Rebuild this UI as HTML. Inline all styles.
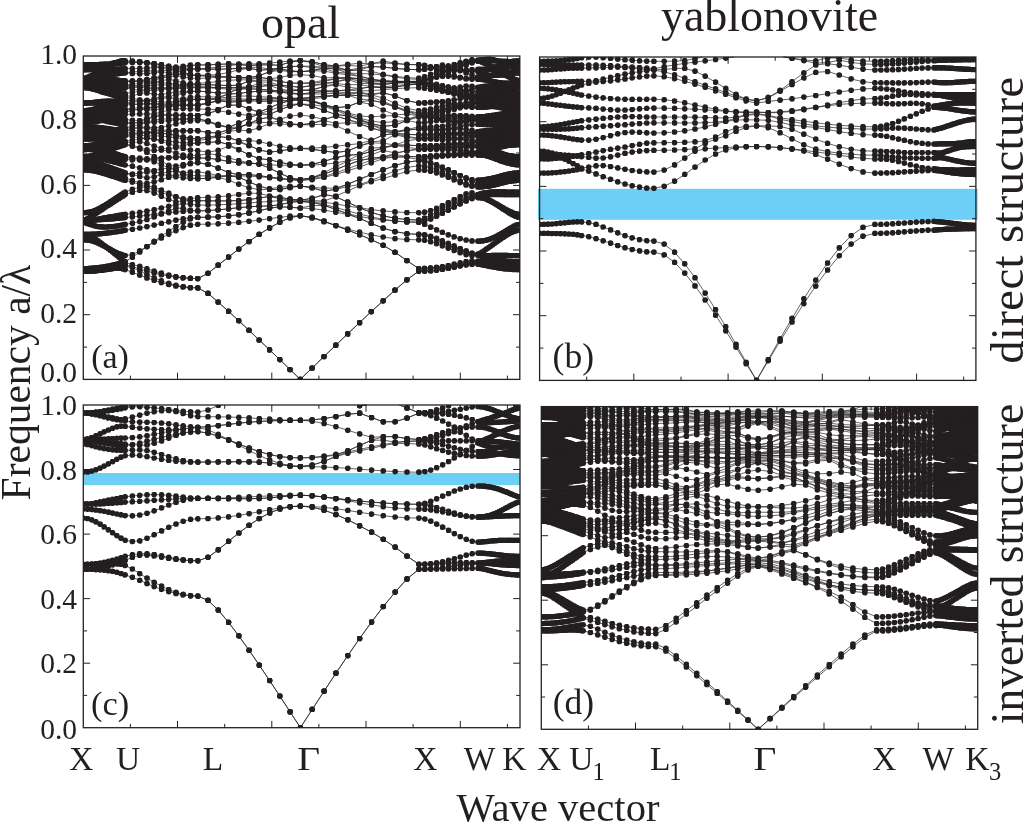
<!DOCTYPE html><html><head><meta charset="utf-8"><title>Band structures</title>
<style>html,body{margin:0;padding:0;background:#fff}body{width:1024px;height:824px;overflow:hidden}svg{display:block}text{font-family:"Liberation Serif","DejaVu Serif",serif;fill:#231f20}
.b{fill:none;stroke:#231f20;stroke-width:0.70;stroke-linejoin:round;marker-start:url(#d);marker-mid:url(#d);marker-end:url(#d)}.x{fill:none;stroke:#231f20;stroke-width:0.70}</style></head><body>
<svg width="1024" height="824" viewBox="0 0 1024 824">
<defs><marker id="d" markerUnits="userSpaceOnUse" markerWidth="6" markerHeight="6" refX="3" refY="3" viewBox="0 0 6 6"><circle cx="3" cy="3" r="2.85" fill="#231f20"/></marker>
<clipPath id="cpa"><rect x="83.3" y="56.0" width="436.5" height="323.4"/></clipPath>
<clipPath id="cpb"><rect x="539.6" y="57.0" width="436.3" height="323.4"/></clipPath>
<clipPath id="cpc"><rect x="83.3" y="405.0" width="436.7" height="322.7"/></clipPath>
<clipPath id="cpd"><rect x="541.3" y="406.6" width="436.4" height="322.7"/></clipPath>
</defs>
<rect width="1024" height="824" fill="#fff"/>
<g clip-path="url(#cpa)"><g class="b">
<polyline points="83.3,271.2 85.4,271.2 87.5,271.1 89.6,271.1 91.7,271 93.8,270.9 95.9,270.7 98,270.5 100,270.3 102.1,270.1 104.2,269.9 106.3,269.6 108.4,269.3 110.5,269 112.6,268.6 114.7,268.2 116.8,267.8 118.9,268.1 121,268.4 123.1,268.9 125.2,269.6 132.4,272.2 139.7,275.1 146.9,277.9 154.2,280.4 161.4,282.6 168.7,284.5 175.9,286 183.2,287 190.4,287.7 197.7,287.9 208,293.4 218.2,302.1 228.5,311.3 238.7,320.7 249,330.3 259.2,340 269.5,349.8 279.8,359.6 290,369.5 300.3,379.4 312.1,368 324,356.5 335.8,345.2 347.6,333.9 359.5,322.7 371.3,311.6 383.2,300.8 395,290.1 406.9,279.8 418.7,271.2 424.6,271.1 430.6,270.7 436.5,270.2 442.4,269.4 448.3,268.4 454.2,267.2 460.2,265.8 466.1,264.8 472,264.4 477.9,264.3 480,264.4 482.1,264.8 484.2,265.2 486.3,265.6 488.4,266.1 490.5,266.5 492.6,266.9 494.7,267.3 496.8,267.6 498.9,268 501,268.3 503.1,268.6 505.1,268.8 507.2,269 509.3,269.2 511.4,269.3 513.5,269.5 515.6,269.5 517.7,269.6 519.8,269.6"/>
<polyline points="83.3,271.2 85.4,271.2 87.5,271.1 89.6,271 91.7,270.9 93.8,270.8 95.9,270.6 98,270.4 100,270.2 102.1,269.9 104.2,269.6 106.3,269.3 108.4,268.9 110.5,268.5 112.6,268.1 114.7,267.7 116.8,267.8 118.9,267.4 121,267 123.1,266.6 125.2,266.1 132.4,267.6 139.7,270.9 146.9,274.5 154.2,277.8 161.4,280.8 168.7,283.3 175.9,285.3 183.2,286.7 190.4,287.6 197.7,287.9 208,293.4 218.2,302.1 228.5,311.3 238.7,320.7 249,330.3 259.2,340 269.5,349.8 279.8,359.6 290,369.5 300.3,379.4 312.1,368 324,356.5 335.8,345.2 347.6,333.9 359.5,322.7 371.3,311.6 383.2,300.8 395,290.1 406.9,279.8 418.7,271.2 424.6,271.1 430.6,270.7 436.5,270.1 442.4,269.3 448.3,268.3 454.2,267.1 460.2,265.8 466.1,264.6 472,263.5 477.9,263.1 480,263.1 482.1,263.3 484.2,263.5 486.3,263.7 488.4,264 490.5,264.2 492.6,264.4 494.7,264.6 496.8,264.8 498.9,265 501,265.2 503.1,265.4 505.1,265.5 507.2,265.7 509.3,265.8 511.4,265.9 513.5,266 515.6,266.1 517.7,266.1 519.8,266.1"/>
<polyline points="83.3,268.6 85.4,268.6 87.5,268.5 89.6,268.5 91.7,268.4 93.8,268.4 95.9,268.3 98,268.2 100,268.1 102.1,268 104.2,267.9 106.3,267.8 108.4,267.7 110.5,267.7 112.6,267.7 114.7,267.7 116.8,267.2 118.9,266.7 121,266.2 123.1,265.6 125.2,265 132.4,266.3 139.7,269.1 146.9,271.2 154.2,273.1 161.4,274.7 168.7,276.1 175.9,277.2 183.2,277.9 190.4,278.4 197.7,278.6 208,273.3 218.2,265.2 228.5,257 238.7,249.1 249,241.5 259.2,234.4 269.5,227.9 279.8,222.2 290,217.7 300.3,215.7 312.1,217.9 324,221.7 335.8,225.6 347.6,230.1 359.5,234.7 371.3,239.6 383.2,245.3 395,252.3 406.9,260.5 418.7,268.6 424.6,268.5 430.6,268.2 436.5,267.8 442.4,267.3 448.3,266.7 454.2,266 460.2,265.3 466.1,264.3 472,262.8 477.9,261.4 480,261.7 482.1,262 484.2,262.3 486.3,262.7 488.4,263 490.5,263.4 492.6,263.7 494.7,264 496.8,264.2 498.9,264.4 501,264.6 503.1,264.7 505.1,264.8 507.2,264.9 509.3,265 511.4,265 513.5,265 515.6,265 517.7,265 519.8,265"/>
<polyline points="83.3,268.6 85.4,268.5 87.5,268.5 89.6,268.4 91.7,268.3 93.8,268.1 95.9,267.9 98,267.7 100,267.4 102.1,267.1 104.2,266.8 106.3,266.4 108.4,266 110.5,265.5 112.6,265.1 114.7,264.6 116.8,264 118.9,263.5 121,262.9 123.1,262.2 125.2,262.5 132.4,264.6 139.7,266.3 146.9,268.7 154.2,271.1 161.4,273.2 168.7,275.1 175.9,276.6 183.2,277.7 190.4,278.3 197.7,278.6 208,273.3 218.2,265.2 228.5,257 238.7,249.1 249,241.5 259.2,234.4 269.5,227.9 279.8,222.2 290,217.7 300.3,215.7 312.1,217.4 324,221.2 335.8,225.6 347.6,230.1 359.5,234.7 371.3,239.6 383.2,245.3 395,252.3 406.9,260.5 418.7,268.6 424.6,268.4 430.6,268.1 436.5,267.4 442.4,266.6 448.3,265.5 454.2,264.2 460.2,262.8 466.1,261.5 472,260.7 477.9,261.3 480,261 482.1,260.5 484.2,260.2 486.3,260 488.4,260 490.5,260 492.6,260.1 494.7,260.2 496.8,260.4 498.9,260.6 501,260.8 503.1,260.9 505.1,261.2 507.2,261.5 509.3,261.8 511.4,262 513.5,262.2 515.6,262.3 517.7,262.4 519.8,262.4"/>
<polyline points="83.3,239.8 85.4,239.9 87.5,240.1 89.6,240.4 91.7,240.9 93.8,241.5 95.9,242.2 98,243 100,243.9 102.1,244.9 104.2,246 106.3,247.1 108.4,248.7 110.5,250.4 112.6,252.1 114.7,253.8 116.8,255.5 118.9,257.3 121,259 123.1,260.7 125.2,261.6 132.4,257.3 139.7,252 146.9,246.6 154.2,242.1 161.4,238 168.7,234.2 175.9,230.6 183.2,227.6 190.4,225.2 197.7,224.3 208,224.2 218.2,223.8 228.5,223.2 238.7,222.4 249,221.3 259.2,220.1 269.5,218.7 279.8,217.3 290,216.2 300.3,215.7 312.1,217.4 324,221.2 335.8,225.5 347.6,229.1 359.5,232.2 371.3,234.9 383.2,237 395,238.6 406.9,239.5 418.7,239.8 424.6,240.3 430.6,241.7 436.5,243.6 442.4,245.8 448.3,248.2 454.2,250.5 460.2,252.7 466.1,254.6 472,255.5 477.9,254.9 480,255.2 482.1,255.7 484.2,256.4 486.3,257 488.4,257.5 490.5,258.1 492.6,258.6 494.7,259.1 496.8,259.6 498.9,260.1 501,260.5 503.1,260.8 505.1,261.1 507.2,261.2 509.3,261.3 511.4,261.4 513.5,261.5 515.6,261.5 517.7,261.6 519.8,261.6"/>
<polyline points="83.3,234.4 85.4,234.6 87.5,235.1 89.6,235.9 91.7,237 93.8,238.2 95.9,239.5 98,240.9 100,242.4 102.1,243.9 104.2,245.5 106.3,247.1 108.4,248.3 110.5,249.4 112.6,250.6 114.7,251.7 116.8,252.7 118.9,253.6 121,254.4 123.1,255.1 125.2,255.6 132.4,254.6 139.7,250.9 146.9,246.5 154.2,241.3 161.4,236.1 168.7,231.2 175.9,226.5 183.2,222.3 190.4,218.9 197.7,217.4 208,217.2 218.2,216.8 228.5,215.9 238.7,214.7 249,212.9 259.2,210.8 269.5,208.2 279.8,206.8 290,207.3 300.3,208 312.1,208.6 324,210.1 335.8,212.2 347.6,214.4 359.5,218.4 371.3,223.4 383.2,228.1 395,231.6 406.9,233.7 418.7,234.4 424.6,235.2 430.6,237.2 436.5,239.6 442.4,242.3 448.3,244.9 454.2,247.5 460.2,249.9 466.1,251.9 472,253.5 477.9,254.9 480,255.1 482.1,255.4 484.2,255.5 486.3,255.6 488.4,255.5 490.5,255.5 492.6,255.4 494.7,255.3 496.8,255.3 498.9,255.3 501,255.3 503.1,255.4 505.1,255.4 507.2,255.4 509.3,255.5 511.4,255.5 513.5,255.5 515.6,255.6 517.7,255.6 519.8,255.6"/>
<polyline points="83.3,234.4 85.4,234.4 87.5,234.4 89.6,234.3 91.7,234.2 93.8,234.1 95.9,234 98,233.9 100,233.7 102.1,233.5 104.2,233.3 106.3,233.1 108.4,232.9 110.5,232.6 112.6,232.3 114.7,232 116.8,231.7 118.9,231.4 121,231 123.1,230.6 125.2,230.2 132.4,229.3 139.7,228 146.9,226.6 154.2,225.1 161.4,223.4 168.7,221.8 175.9,220.2 183.2,218.8 190.4,217.8 197.7,217.4 208,217.2 218.2,216.8 228.5,215.9 238.7,214.7 249,212.9 259.2,210.8 269.5,208.2 279.8,206.8 290,207.3 300.3,208 312.1,205.6 324,205.4 335.8,209.4 347.6,213.7 359.5,218.4 371.3,223.4 383.2,228.1 395,231.6 406.9,233.7 418.7,234.4 424.6,234.9 430.6,236.4 436.5,238.4 442.4,240.8 448.3,243.3 454.2,245.9 460.2,248.5 466.1,250.9 472,253.1 477.9,254.1 480,253.3 482.1,252.1 484.2,250.7 486.3,249.2 488.4,247.8 490.5,246.3 492.6,244.7 494.7,243.2 496.8,241.8 498.9,240.3 501,238.8 503.1,237.4 505.1,236.1 507.2,234.8 509.3,233.6 511.4,232.5 513.5,231.6 515.6,230.9 517.7,230.4 519.8,230.2"/>
<polyline points="83.3,222.4 85.4,222.8 87.5,223.5 89.6,224.3 91.7,225 93.8,225.6 95.9,226.1 98,226.5 100,226.7 102.1,226.9 104.2,227 106.3,227 108.4,226.9 110.5,226.7 112.6,226.5 114.7,226.3 116.8,226 118.9,225.6 121,225.3 123.1,224.8 125.2,224.4 132.4,223.2 139.7,221.6 146.9,219.5 154.2,217 161.4,214 168.7,212.7 175.9,211.9 183.2,211.4 190.4,211 197.7,210.9 208,210.6 218.2,209.9 228.5,208.8 238.7,207.7 249,206.8 259.2,206.2 269.5,206 279.8,204.7 290,202.4 300.3,201.4 312.1,202.4 324,205.4 335.8,209.4 347.6,213.7 359.5,216.5 371.3,218.4 383.2,220 395,221.1 406.9,222 418.7,222.4 424.6,224.4 430.6,227.2 436.5,229.9 442.4,232.4 448.3,234.8 454.2,236.9 460.2,238.7 466.1,240 472,240.9 477.9,241.2 480,241.1 482.1,240.9 484.2,240.6 486.3,240.2 488.4,239.6 490.5,238.8 492.6,238 494.7,237 496.8,236 498.9,234.9 501,233.7 503.1,232.5 505.1,231.3 507.2,230 509.3,228.8 511.4,227.6 513.5,226.4 515.6,225.4 517.7,224.7 519.8,224.4"/>
<polyline points="83.3,222 85.4,221.9 87.5,221.6 89.6,221.2 91.7,220.6 93.8,220.1 95.9,219.8 98,219.7 100,219.6 102.1,219.5 104.2,219.4 106.3,219.3 108.4,219.1 110.5,219 112.6,218.8 114.7,218.6 116.8,218.4 118.9,218.2 121,217.9 123.1,217.7 125.2,217.5 132.4,216.9 139.7,216.1 146.9,215.3 154.2,214.4 161.4,213.5 168.7,210.8 175.9,208.2 183.2,208.4 190.4,210.1 197.7,210.9 208,210.6 218.2,209.9 228.5,208.8 238.7,207.7 249,206.8 259.2,206.2 269.5,206 279.8,204.7 290,202.4 300.3,201.4 312.1,202.4 324,204.4 335.8,207.5 347.6,210.9 359.5,214.1 371.3,216.9 383.2,219.3 395,221 406.9,221.8 418.7,222 424.6,221.2 430.6,219.1 436.5,216.3 442.4,213.3 448.3,210.1 454.2,207 460.2,203.8 466.1,200.9 472,198.6 477.9,197.6 480,197.7 482.1,198 484.2,198.4 486.3,199.1 488.4,199.9 490.5,201.1 492.6,202.4 494.7,203.7 496.8,205 498.9,206.3 501,207.6 503.1,209 505.1,210.3 507.2,211.6 509.3,212.9 511.4,214.2 513.5,215.4 515.6,216.4 517.7,217.2 519.8,217.5"/>
<polyline points="83.3,220.1 85.4,220.1 87.5,220 89.6,220 91.7,220 93.8,219.9 95.9,219.6 98,219.1 100,218.7 102.1,218.3 104.2,217.9 106.3,217.5 108.4,217.2 110.5,216.8 112.6,216.5 114.7,216.1 116.8,215.8 118.9,215.4 121,215.1 123.1,214.7 125.2,214.3 132.4,213.4 139.7,212.4 146.9,211.1 154.2,209.7 161.4,208 168.7,206.3 175.9,204.7 183.2,203.5 190.4,204.2 197.7,205.1 208,205.1 218.2,204.8 228.5,204.3 238.7,203.7 249,203 259.2,202.2 269.5,201.4 279.8,200.7 290,200.6 300.3,201.4 312.1,202.1 324,202.1 335.8,204 347.6,206 359.5,207.9 371.3,212.4 383.2,215.9 395,218.2 406.9,219.6 418.7,220.1 424.6,219.5 430.6,217.9 436.5,215.7 442.4,213 448.3,210 454.2,206.9 460.2,203.7 466.1,200.5 472,197.3 477.9,195.2 480,195.6 482.1,196.5 484.2,197.6 486.3,198.7 488.4,199.9 490.5,200.8 492.6,201.9 494.7,203 496.8,204.2 498.9,205.4 501,206.6 503.1,207.8 505.1,209 507.2,210.1 509.3,211.2 511.4,212.2 513.5,213 515.6,213.7 517.7,214.2 519.8,214.3"/>
<polyline points="83.3,220.1 85.4,219.6 87.5,218.6 89.6,217.4 91.7,216.2 93.8,214.9 95.9,213.6 98,212.2 100,210.8 102.1,209.5 104.2,208.1 106.3,206.7 108.4,205.3 110.5,203.9 112.6,202.5 114.7,201.2 116.8,199.8 118.9,198.5 121,197.2 123.1,195.9 125.2,194.6 132.4,192.2 139.7,190.4 146.9,190.5 154.2,193.1 161.4,196.3 168.7,199.5 175.9,201.7 183.2,201 190.4,200.8 197.7,200.7 208,200.8 218.2,200.9 228.5,200.9 238.7,200.6 249,199.6 259.2,198 269.5,196.5 279.8,198.7 290,200.2 300.3,200.1 312.1,200.6 324,201.1 335.8,196.7 347.6,202.2 359.5,207.7 371.3,212.4 383.2,215.9 395,218.2 406.9,219.6 418.7,220.1 424.6,218 430.6,215 436.5,211.9 442.4,208.8 448.3,205.8 454.2,202.8 460.2,200.1 466.1,197.6 472,195.9 477.9,194.5 480,194.8 482.1,194.7 484.2,194.7 486.3,194.6 488.4,194.5 490.5,194.5 492.6,194.5 494.7,194.5 496.8,194.5 498.9,194.5 501,194.5 503.1,194.5 505.1,194.6 507.2,194.6 509.3,194.6 511.4,194.6 513.5,194.6 515.6,194.6 517.7,194.6 519.8,194.6"/>
<polyline points="83.3,212.7 85.4,212.7 87.5,212.4 89.6,212.1 91.7,211.5 93.8,210.8 95.9,210 98,209.1 100,208 102.1,206.8 104.2,205.6 106.3,204.3 108.4,203 110.5,201.6 112.6,200.3 114.7,198.9 116.8,197.5 118.9,196.1 121,194.8 123.1,193.4 125.2,192.1 132.4,189.4 139.7,187.1 146.9,187.3 154.2,189.9 161.4,192.4 168.7,194.8 175.9,197.1 183.2,199.6 190.4,200.2 197.7,200.7 208,200.8 218.2,200.9 228.5,200.9 238.7,200.6 249,199.6 259.2,198 269.5,196.5 279.8,197.3 290,199.2 300.3,200.1 312.1,198.4 324,194.6 335.8,196.7 347.6,202.2 359.5,207.7 371.3,209.6 383.2,210.9 395,211.9 406.9,212.5 418.7,212.7 424.6,212.2 430.6,210.6 436.5,208.3 442.4,205.6 448.3,202.6 454.2,199.5 460.2,196.5 466.1,193.9 472,192.9 477.9,194.5 480,193.9 482.1,193.4 484.2,192.9 486.3,192.6 488.4,192.3 490.5,192.1 492.6,191.9 494.7,191.9 496.8,191.8 498.9,191.8 501,191.9 503.1,191.9 505.1,191.9 507.2,192 509.3,192 511.4,192 513.5,192 515.6,192.1 517.7,192.1 519.8,192.1"/>
<polyline points="83.3,169.9 85.4,169.9 87.5,170.1 89.6,170.3 91.7,170.6 93.8,170.9 95.9,171.4 98,171.8 100,172.4 102.1,172.9 104.2,173.5 106.3,174.2 108.4,174.8 110.5,175.5 112.6,176.2 114.7,176.9 116.8,177.6 118.9,178.3 121,179 123.1,179.7 125.2,180.4 132.4,182.1 139.7,184.4 146.9,186 154.2,187.2 161.4,190 168.7,193.2 175.9,196.6 183.2,198.9 190.4,198.7 197.7,197.7 208,197.4 218.2,196.8 228.5,195.8 238.7,194.5 249,193.2 259.2,193.4 269.5,196 279.8,197.3 290,199.2 300.3,200.1 312.1,198.4 324,194.6 335.8,196.1 347.6,190.9 359.5,185.7 371.3,181.7 383.2,178.5 395,175 406.9,171.6 418.7,169.9 424.6,170.2 430.6,171.3 436.5,172.8 442.4,174.9 448.3,177.3 454.2,179.9 460.2,182.6 466.1,185 472,185.9 477.9,186.9 480,186.9 482.1,186.8 484.2,186.6 486.3,186.4 488.4,186.2 490.5,185.8 492.6,185.4 494.7,184.9 496.8,184.4 498.9,183.8 501,183.3 503.1,182.8 505.1,182.3 507.2,181.8 509.3,181.4 511.4,181.1 513.5,180.8 515.6,180.6 517.7,180.4 519.8,180.4"/>
<polyline points="83.3,165.8 85.4,165.9 87.5,166.1 89.6,166.5 91.7,166.9 93.8,167.4 95.9,167.9 98,168.6 100,169.2 102.1,169.9 104.2,170.6 106.3,171.3 108.4,172 110.5,172.7 112.6,173.5 114.7,174.2 116.8,175 118.9,175.7 121,176.5 123.1,177.2 125.2,178 132.4,180.4 139.7,182.9 146.9,183.4 154.2,181.9 161.4,179.7 168.7,177.4 175.9,176.7 183.2,177.8 190.4,178.5 197.7,178.7 208,178.3 218.2,177.3 228.5,180.2 238.7,184.2 249,187.8 259.2,189.6 269.5,189.3 279.8,189.5 290,187.5 300.3,186 312.1,187.7 324,191.3 335.8,189.3 347.6,186.6 359.5,184.5 371.3,180.6 383.2,175.6 395,171 406.9,167.4 418.7,165.8 424.6,166.4 430.6,167.9 436.5,170 442.4,172.5 448.3,175.2 454.2,178.1 460.2,180.9 466.1,183.7 472,185.9 477.9,184.2 480,184.8 482.1,185.1 484.2,185.2 486.3,185.1 488.4,184.9 490.5,184.5 492.6,184 494.7,183.5 496.8,182.9 498.9,182.3 501,181.7 503.1,181.1 505.1,180.5 507.2,179.9 509.3,179.4 511.4,178.9 513.5,178.5 515.6,178.2 517.7,178 519.8,178"/>
<polyline points="83.3,160.6 85.4,160.8 87.5,161.3 89.6,161.9 91.7,162.5 93.8,163.1 95.9,163.8 98,164.5 100,165.2 102.1,165.9 104.2,166.7 106.3,167.4 108.4,168.1 110.5,168.8 112.6,169.6 114.7,170.3 116.8,171 118.9,171.7 121,172.4 123.1,173.1 125.2,173.8 132.4,174.5 139.7,176.5 146.9,177.7 154.2,176.8 161.4,174.6 168.7,175.3 175.9,175.3 183.2,174.5 190.4,177.4 197.7,178.7 208,178.3 218.2,177.3 228.5,175.8 238.7,177.2 249,181.8 259.2,186.1 269.5,189.3 279.8,189.5 290,187.5 300.3,186 312.1,187.7 324,191.3 335.8,189.3 347.6,184.3 359.5,179.3 371.3,174.5 383.2,169.9 395,165.6 406.9,162.2 418.7,160.6 424.6,161.8 430.6,163.7 436.5,165.9 442.4,168.2 448.3,170.7 454.2,173.2 460.2,175.6 466.1,178.5 472,181.5 477.9,184.2 480,183.6 482.1,182.9 484.2,182.2 486.3,181.5 488.4,180.8 490.5,180.1 492.6,179.4 494.7,178.7 496.8,178 498.9,177.4 501,176.8 503.1,176.2 505.1,175.7 507.2,175.2 509.3,174.8 511.4,174.5 513.5,174.2 515.6,174 517.7,173.8 519.8,173.8"/>
<polyline points="83.3,160.6 85.4,160.7 87.5,160.9 89.6,161.2 91.7,161.6 93.8,162.1 95.9,162.7 98,163.3 100,164 102.1,164.7 104.2,165.4 106.3,166.1 108.4,166.8 110.5,167.6 112.6,168.3 114.7,169.1 116.8,169.8 118.9,170.6 121,171.3 123.1,172 125.2,172.8 132.4,174 139.7,173.2 146.9,172 154.2,171.7 161.4,173.4 168.7,171.7 175.9,171.2 183.2,173.6 190.4,175.3 197.7,175.9 208,175.9 218.2,176.4 228.5,175.8 238.7,177.2 249,181.8 259.2,186.1 269.5,188.7 279.8,187.3 290,186.4 300.3,186 312.1,187.3 324,188.3 335.8,188 347.6,184.3 359.5,179.3 371.3,174.5 383.2,169.9 395,165.6 406.9,162.2 418.7,160.6 424.6,161.1 430.6,162.6 436.5,164.7 442.4,167.1 448.3,169.7 454.2,172.5 460.2,175.5 466.1,177.8 472,179.5 477.9,180.1 480,180 482.1,179.9 484.2,179.6 486.3,179.3 488.4,178.9 490.5,178.5 492.6,178.1 494.7,177.6 496.8,177 498.9,176.5 501,175.9 503.1,175.4 505.1,174.9 507.2,174.4 509.3,173.9 511.4,173.5 513.5,173.2 515.6,173 517.7,172.8 519.8,172.8"/>
<polyline points="83.3,159.4 85.4,159.2 87.5,158.8 89.6,158.4 91.7,158.1 93.8,157.8 95.9,157.8 98,158.2 100,158.6 102.1,159.1 104.2,159.5 106.3,160 108.4,160.6 110.5,161.1 112.6,161.6 114.7,162.2 116.8,162.7 118.9,163.3 121,163.9 123.1,164.4 125.2,165 132.4,166.2 139.7,167.9 146.9,169.7 154.2,170.6 161.4,169.2 168.7,167.9 175.9,170.1 183.2,173.2 190.4,172.2 197.7,171.8 208,173.2 218.2,175.8 228.5,175.7 238.7,175.8 249,176.1 259.2,176.8 269.5,177.7 279.8,178.7 290,179.7 300.3,180.4 312.1,179.6 324,177.4 335.8,174.4 347.6,170.9 359.5,166.9 371.3,162.8 383.2,158.6 395,156.9 406.9,157.3 418.7,159.4 424.6,158.5 430.6,157.5 436.5,156.7 442.4,156.1 448.3,155.7 454.2,155.5 460.2,155.3 466.1,155.2 472,155.1 477.9,155.1 480,155.1 482.1,155.2 484.2,155.4 486.3,155.6 488.4,156.4 490.5,157.1 492.6,157.9 494.7,158.6 496.8,159.4 498.9,160.1 501,160.9 503.1,161.6 505.1,162.2 507.2,162.9 509.3,163.4 511.4,163.9 513.5,164.4 515.6,164.7 517.7,164.9 519.8,164.9"/>
<polyline points="83.3,156.7 85.4,156.7 87.5,156.8 89.6,157 91.7,157.2 93.8,157.5 95.9,157.6 98,157.4 100,157.3 102.1,157.3 104.2,157.3 106.3,157.4 108.4,157.5 110.5,157.7 112.6,157.9 114.7,158.1 116.8,158.3 118.9,158.6 121,158.9 123.1,159.2 125.2,159.5 132.4,159.9 139.7,160 146.9,159.7 154.2,161.8 161.4,164.7 168.7,167.8 175.9,168.6 183.2,166 190.4,163.7 197.7,162.6 208,164.4 218.2,168.1 228.5,172.6 238.7,174.7 249,174.6 259.2,175.6 269.5,177.1 279.8,178.5 290,179.7 300.3,180.4 312.1,178.8 324,176.4 335.8,172.9 347.6,168.7 359.5,164.3 371.3,160.3 383.2,157.4 395,156.9 406.9,156.6 418.7,156.7 424.6,156.6 430.6,156.4 436.5,156 442.4,155.6 448.3,155.1 454.2,154.5 460.2,153.9 466.1,153.5 472,153.4 477.9,153.4 480,153.7 482.1,154.2 484.2,154.9 486.3,155.6 488.4,155.8 490.5,156.1 492.6,156.4 494.7,156.7 496.8,157 498.9,157.4 501,157.7 503.1,158 505.1,158.3 507.2,158.6 509.3,158.9 511.4,159.1 513.5,159.3 515.6,159.4 517.7,159.5 519.8,159.5"/>
<polyline points="83.3,156.7 85.4,156.6 87.5,156.4 89.6,156.1 91.7,155.6 93.8,155.1 95.9,154.5 98,153.9 100,153.2 102.1,152.5 104.2,151.9 106.3,152.4 108.4,152.9 110.5,153.4 112.6,154 114.7,154.5 116.8,155.1 118.9,155.7 121,156.2 123.1,156.8 125.2,157.4 132.4,158.4 139.7,159 146.9,159.6 154.2,159.1 161.4,160.9 168.7,165.4 175.9,166 183.2,164.6 190.4,163.3 197.7,162.6 208,164.4 218.2,168.1 228.5,172.6 238.7,174.7 249,174.6 259.2,175.6 269.5,177.1 279.8,178.5 290,179.4 300.3,179.7 312.1,178 324,174.2 335.8,169.6 347.6,164.8 359.5,160.6 371.3,158.3 383.2,157.4 395,154.4 406.9,156.6 418.7,156.7 424.6,156.5 430.6,155.9 436.5,155.3 442.4,154.8 448.3,154.3 454.2,154 460.2,153.7 466.1,153.3 472,152.7 477.9,152.1 480,151.9 482.1,151.9 484.2,151.9 486.3,152.1 488.4,152.3 490.5,152.5 492.6,152.8 494.7,153.2 496.8,153.6 498.9,154 501,154.5 503.1,154.9 505.1,155.4 507.2,155.8 509.3,156.2 511.4,156.6 513.5,156.9 515.6,157.2 517.7,157.3 519.8,157.4"/>
<polyline points="83.3,149.5 85.4,149.4 87.5,149.4 89.6,149.5 91.7,149.7 93.8,149.9 95.9,150.2 98,150.6 100,151 102.1,151.4 104.2,151.8 106.3,151 108.4,151.5 110.5,152.2 112.6,152.9 114.7,153.5 116.8,154.2 118.9,154.8 121,155.5 123.1,156.1 125.2,156.7 132.4,157.5 139.7,158.1 146.9,158.8 154.2,158.7 161.4,158.3 168.7,157.8 175.9,157.5 183.2,157.4 190.4,157.7 197.7,158 208,158.2 218.2,159.5 228.5,161.4 238.7,162.8 249,163.1 259.2,164.1 269.5,168.1 279.8,173.2 290,177.7 300.3,179.7 312.1,178 324,174.2 335.8,169.6 347.6,164.8 359.5,160.6 371.3,158.3 383.2,156.8 395,153.6 406.9,150.8 418.7,149.5 424.6,149.3 430.6,149.2 436.5,149.3 442.4,149.4 448.3,149.7 454.2,150 460.2,150.5 466.1,150.9 472,151.5 477.9,152.1 480,151.9 482.1,151.5 484.2,151 486.3,150.5 488.4,150 490.5,149.8 492.6,150.3 494.7,151 496.8,151.8 498.9,152.5 501,153.2 503.1,153.8 505.1,154.5 507.2,155 509.3,155.5 511.4,155.9 513.5,156.2 515.6,156.5 517.7,156.6 519.8,156.7"/>
<polyline points="83.3,148.8 85.4,148.8 87.5,148.7 89.6,148.5 91.7,148.3 93.8,148.2 95.9,147.9 98,148.3 100,148.9 102.1,149.6 104.2,150.2 106.3,150.9 108.4,150.3 110.5,149.6 112.6,148.8 114.7,148.1 116.8,147.4 118.9,146.6 121,145.9 123.1,145.3 125.2,144.6 132.4,146.2 139.7,148.9 146.9,152.4 154.2,156.5 161.4,158.3 168.7,157.5 175.9,156.7 183.2,156.2 190.4,157.2 197.7,158 208,158.2 218.2,159.5 228.5,161.4 238.7,162.8 249,163.1 259.2,163.9 269.5,168.1 279.8,173.2 290,177.7 300.3,179.7 312.1,177.7 324,172.6 335.8,166.8 347.6,161.2 359.5,158.6 371.3,154.9 383.2,150.3 395,153 406.9,150.7 418.7,148.8 424.6,148.8 430.6,148.6 436.5,148.3 442.4,147.9 448.3,147.6 454.2,147.4 460.2,147.2 466.1,146.8 472,146.7 477.9,146.7 480,146.6 482.1,146.6 484.2,147.2 486.3,147.9 488.4,148.6 490.5,149.1 492.6,148.8 494.7,148.3 496.8,147.8 498.9,147.4 501,146.9 503.1,146.5 505.1,146.1 507.2,145.7 509.3,145.4 511.4,145.1 513.5,144.9 515.6,144.8 517.7,144.7 519.8,144.6"/>
<polyline points="83.3,148.6 85.4,148.6 87.5,148.6 89.6,148.5 91.7,148.1 93.8,147.5 95.9,147.8 98,147.7 100,147.4 102.1,147.1 104.2,146.8 106.3,146.4 108.4,146.1 110.5,145.8 112.6,145.5 114.7,145.2 116.8,145 118.9,144.8 121,144.6 123.1,144.6 125.2,144.6 132.4,144.9 139.7,147.9 146.9,149.9 154.2,150.5 161.4,150.1 168.7,150.8 175.9,153.1 183.2,155 190.4,155.4 197.7,155.3 208,153.8 218.2,154.9 228.5,157.9 238.7,160.6 249,162.7 259.2,163.9 269.5,164.9 279.8,165.2 290,165.3 300.3,165.3 312.1,165.1 324,164.3 335.8,163 347.6,160.6 359.5,154.5 371.3,151.6 383.2,148.1 395,145.3 406.9,147.5 418.7,148.6 424.6,148.4 430.6,147.6 436.5,146.9 442.4,147.2 448.3,147.4 454.2,147.3 460.2,147 466.1,146.8 472,146.4 477.9,145.8 480,146.1 482.1,146.5 484.2,146.4 486.3,146.3 488.4,146.1 490.5,145.8 492.6,145.6 494.7,145.4 496.8,145.2 498.9,145.1 501,144.9 503.1,144.8 505.1,144.7 507.2,144.7 509.3,144.6 511.4,144.6 513.5,144.6 515.6,144.6 517.7,144.5 519.8,144.5"/>
<polyline points="83.3,145.7 85.4,145.8 87.5,146 89.6,146.3 91.7,146.7 93.8,147.2 95.9,146.9 98,146.2 100,145.5 102.1,144.8 104.2,144 106.3,143.2 108.4,142.4 110.5,141.5 112.6,140.7 114.7,140.6 116.8,140.8 118.9,141.1 121,141.4 123.1,141.7 125.2,142 132.4,142.5 139.7,141.8 146.9,143.5 154.2,146 161.4,148.4 168.7,148.9 175.9,147.5 183.2,148.4 190.4,150.1 197.7,150.7 208,152.1 218.2,150.4 228.5,146.2 238.7,149.6 249,154.8 259.2,158.6 269.5,159.8 279.8,162.2 290,164.4 300.3,165.3 312.1,164.3 324,161.4 335.8,157.7 347.6,155.3 359.5,154.5 371.3,151.6 383.2,147.5 395,145.1 406.9,145.1 418.7,145.7 424.6,145.9 430.6,146.4 436.5,146.3 442.4,145.2 448.3,144.9 454.2,144.4 460.2,144 466.1,144.5 472,145.2 477.9,145.8 480,145.6 482.1,145.4 484.2,145.1 486.3,144.8 488.4,144.5 490.5,144.2 492.6,143.8 494.7,143.5 496.8,143.1 498.9,142.8 501,142.5 503.1,142.3 505.1,142.1 507.2,142 509.3,142 511.4,142 513.5,142 515.6,142 517.7,142 519.8,142"/>
<polyline points="83.3,145.7 85.4,145.7 87.5,145.6 89.6,145.3 91.7,145 93.8,144.7 95.9,144.2 98,143.7 100,143.1 102.1,142.5 104.2,141.9 106.3,141.2 108.4,140.5 110.5,140.1 112.6,140.3 114.7,139.8 116.8,139.3 118.9,139.8 121,140.3 123.1,140.8 125.2,141.3 132.4,140.2 139.7,138.9 146.9,138.3 154.2,139.1 161.4,141.3 168.7,143.7 175.9,146.2 183.2,145.8 190.4,144 197.7,142.9 208,142.5 218.2,141.7 228.5,144.5 238.7,149.6 249,154.8 259.2,158.6 269.5,159.8 279.8,162.2 290,164.4 300.3,165.3 312.1,164.3 324,161.4 335.8,157.7 347.6,155.3 359.5,154.2 371.3,148 383.2,147.5 395,145 406.9,145.1 418.7,145.7 424.6,145.7 430.6,145.6 436.5,145.5 442.4,145 448.3,144 454.2,143.7 460.2,143.9 466.1,143.2 472,142.6 477.9,142.2 480,142.2 482.1,142 484.2,141.7 486.3,141.4 488.4,141.1 490.5,141 492.6,141 494.7,141 496.8,141 498.9,141.1 501,141.1 503.1,141.1 505.1,141.2 507.2,141.2 509.3,141.2 511.4,141.3 513.5,141.3 515.6,141.3 517.7,141.3 519.8,141.3"/>
<polyline points="83.3,139.1 85.4,139 87.5,139 89.6,138.8 91.7,138.8 93.8,138.9 95.9,139 98,139.1 100,139.2 102.1,139.4 104.2,139.5 106.3,139.7 108.4,139.9 110.5,139.8 112.6,139 114.7,138.9 116.8,139 118.9,138.1 121,137.3 123.1,136.4 125.2,135.9 132.4,136.5 139.7,137.9 146.9,138.1 154.2,138.9 161.4,140 168.7,141.1 175.9,142.1 183.2,142.7 190.4,142.9 197.7,142.9 208,142.5 218.2,141.7 228.5,144.5 238.7,142.3 249,145.5 259.2,149.9 269.5,152.1 279.8,151 290,149.2 300.3,148.4 312.1,149.2 324,151 335.8,152.5 347.6,151 359.5,146 371.3,142.8 383.2,143.2 395,145 406.9,140.8 418.7,139.1 424.6,138.9 430.6,139 436.5,139.3 442.4,139.7 448.3,139.8 454.2,139.4 460.2,138.7 466.1,139.6 472,140.4 477.9,140.8 480,140.8 482.1,140.7 484.2,140.6 486.3,140.5 488.4,140.3 490.5,139.9 492.6,139.5 494.7,139 496.8,138.5 498.9,138.5 501,138.6 503.1,138.6 505.1,138.5 507.2,138.3 509.3,138 511.4,137.6 513.5,137.2 515.6,136.7 517.7,136.2 519.8,135.9"/>
<polyline points="83.3,138.6 85.4,138.6 87.5,138.7 89.6,138.7 91.7,138.7 93.8,138.5 95.9,138.3 98,138.1 100,137.9 102.1,137.8 104.2,137.7 106.3,137.8 108.4,137.9 110.5,138.2 112.6,138.5 114.7,138.2 116.8,137.5 118.9,136.7 121,136 123.1,135.9 125.2,135.6 132.4,134.7 139.7,135.1 146.9,135.9 154.2,135.9 161.4,136.1 168.7,136.9 175.9,137.8 183.2,138.7 190.4,139.7 197.7,140.6 208,139 218.2,136.5 228.5,137.7 238.7,140.8 249,145.5 259.2,149.9 269.5,152.1 279.8,151 290,149.2 300.3,148.4 312.1,149.2 324,151 335.8,152.5 347.6,151 359.5,146 371.3,141.9 383.2,140.7 395,134.7 406.9,137.5 418.7,138.6 424.6,138.7 430.6,138.3 436.5,137.6 442.4,137.2 448.3,137.3 454.2,137.9 460.2,138.6 466.1,137.7 472,136.9 477.9,136.2 480,136.4 482.1,136.6 484.2,136.8 486.3,137 488.4,137.3 490.5,137.5 492.6,137.8 494.7,138.1 496.8,138.3 498.9,137.9 501,137.4 503.1,136.9 505.1,136.5 507.2,136 509.3,135.6 511.4,135.2 513.5,134.9 515.6,134.8 517.7,135.2 519.8,135.6"/>
<polyline points="83.3,138.2 85.4,138.2 87.5,138 89.6,137.8 91.7,137.5 93.8,137.1 95.9,136.7 98,136.3 100,135.9 102.1,135.7 104.2,135.8 106.3,135.9 108.4,135.9 110.5,136 112.6,136 114.7,136 116.8,136 118.9,136 121,136 123.1,135.2 125.2,134.5 132.4,133.6 139.7,133.8 146.9,132.8 154.2,133.4 161.4,133.7 168.7,134 175.9,135.4 183.2,137 190.4,138.3 197.7,138.7 208,137.2 218.2,136.5 228.5,137.7 238.7,140.8 249,140.4 259.2,141.7 269.5,144.1 279.8,146.3 290,147.8 300.3,148.4 312.1,148.1 324,147.4 335.8,146.3 347.6,144.9 359.5,143.6 371.3,140.4 383.2,134.9 395,134 406.9,136.4 418.7,138.2 424.6,137.8 430.6,136.8 436.5,135.5 442.4,134.7 448.3,134.6 454.2,134.4 460.2,134.4 466.1,135 472,135.6 477.9,136.2 480,136 482.1,135.8 484.2,135.5 486.3,135.2 488.4,134.8 490.5,134.8 492.6,134.9 494.7,134.9 496.8,134.7 498.9,134.6 501,134.3 503.1,134 505.1,133.6 507.2,133.2 509.3,133.4 511.4,133.9 513.5,134.3 515.6,134.7 517.7,134.6 519.8,134.5"/>
<polyline points="83.3,134.8 85.4,134.8 87.5,134.8 89.6,134.9 91.7,135 93.8,135.1 95.9,135.3 98,135.4 100,135.5 102.1,135.5 104.2,135.1 106.3,134.7 108.4,134.2 110.5,133.8 112.6,133.3 114.7,132.8 116.8,132.4 118.9,131.9 121,131.4 123.1,131 125.2,131.3 132.4,133.3 139.7,132.7 146.9,132.5 154.2,132.6 161.4,133 168.7,134 175.9,135.3 183.2,137 190.4,138.2 197.7,138.7 208,137.2 218.2,135.5 228.5,131.4 238.7,130.2 249,130.7 259.2,127.8 269.5,123.6 279.8,123.8 290,124.6 300.3,124.8 312.1,124.7 324,124.2 335.8,125.5 347.6,131 359.5,136.5 371.3,140.4 383.2,134.9 395,133.3 406.9,134.4 418.7,134.8 424.6,134.8 430.6,134.7 436.5,134.7 442.4,134.3 448.3,133.8 454.2,134 460.2,134.1 466.1,133.4 472,133.3 477.9,133.4 480,133.5 482.1,133.7 484.2,134.1 486.3,134.4 488.4,134.7 490.5,134.5 492.6,134.1 494.7,133.7 496.8,133.3 498.9,133 501,132.7 503.1,132.4 505.1,132.7 507.2,133 509.3,132.7 511.4,132.3 513.5,131.8 515.6,131.4 517.7,131.4 519.8,131.3"/>
<polyline points="83.3,134.8 85.4,134.7 87.5,134.6 89.6,134.5 91.7,134.2 93.8,134 95.9,133.7 98,133.3 100,133 102.1,132.6 104.2,132.2 106.3,131.7 108.4,131.3 110.5,130.9 112.6,130.5 114.7,130.1 116.8,130.1 118.9,130.4 121,130.6 123.1,130.9 125.2,131 132.4,130.5 139.7,131.4 146.9,132.5 154.2,131 161.4,131.1 168.7,131.8 175.9,131.6 183.2,131.1 190.4,130.8 197.7,130.7 208,132.5 218.2,133 228.5,129.7 238.7,127.6 249,123.7 259.2,122.1 269.5,122.8 279.8,120.9 290,123.7 300.3,124.8 312.1,123.3 324,120.5 335.8,123.5 347.6,122.7 359.5,123.9 371.3,127.9 383.2,131.3 395,133.3 406.9,134.4 418.7,134.8 424.6,134.6 430.6,134.3 436.5,133.8 442.4,133.4 448.3,133.1 454.2,133.1 460.2,133.1 466.1,133.3 472,132.6 477.9,131.6 480,131.7 482.1,131.7 484.2,131.6 486.3,131.5 488.4,131.5 490.5,131.4 492.6,131.5 494.7,131.5 496.8,131.7 498.9,131.8 501,132.1 503.1,132.3 505.1,132.2 507.2,132 509.3,131.8 511.4,131.6 513.5,131.5 515.6,131.4 517.7,131.1 519.8,131"/>
<polyline points="83.3,128.9 85.4,129 87.5,129.1 89.6,129.3 91.7,129.6 93.8,129.9 95.9,130.1 98,130.4 100,130.6 102.1,130.8 104.2,130.9 106.3,130.9 108.4,130.8 110.5,130.6 112.6,130.3 114.7,130 116.8,130 118.9,130.3 121,130.6 123.1,130.8 125.2,130.4 132.4,129.1 139.7,127.8 146.9,128.3 154.2,129.8 161.4,130 168.7,130.3 175.9,130.6 183.2,130.7 190.4,130.7 197.7,130.7 208,132.5 218.2,133 228.5,129.7 238.7,127.6 249,123.7 259.2,119.2 269.5,117.2 279.8,120.9 290,123.7 300.3,124.8 312.1,123.3 324,119.6 335.8,116 347.6,119.6 359.5,123.9 371.3,127.9 383.2,131.3 395,132.6 406.9,130.1 418.7,128.9 424.6,129.2 430.6,129.7 436.5,130.2 442.4,130.2 448.3,129.4 454.2,128.7 460.2,128.8 466.1,129.4 472,130.4 477.9,131.5 480,131.3 482.1,131.1 484.2,130.9 486.3,130.8 488.4,130.7 490.5,130.7 492.6,130.6 494.7,130.6 496.8,130.6 498.9,130.6 501,130.6 503.1,130.6 505.1,130.5 507.2,130.5 509.3,130.4 511.4,130.4 513.5,130.4 515.6,130.4 517.7,130.4 519.8,130.4"/>
<polyline points="83.3,128.9 85.4,128.9 87.5,128.9 89.6,128.9 91.7,128.9 93.8,128.9 95.9,128.9 98,129 100,129 102.1,129 104.2,129.1 106.3,129.2 108.4,129.3 110.5,129.4 112.6,129.6 114.7,129.8 116.8,129.7 118.9,129.4 121,129.1 123.1,128.8 125.2,128.5 132.4,127.6 139.7,127.1 146.9,127.4 154.2,127.8 161.4,127.6 168.7,125.8 175.9,123.8 183.2,122.1 190.4,121 197.7,120.6 208,121.7 218.2,125.4 228.5,127.4 238.7,127.2 249,123.6 259.2,119.2 269.5,117.2 279.8,119.4 290,116.2 300.3,114.9 312.1,116.6 324,119.6 335.8,116 347.6,119.6 359.5,122.5 371.3,125.2 383.2,129.8 395,131.8 406.9,130.1 418.7,128.9 424.6,129 430.6,129.3 436.5,129.5 442.4,129.6 448.3,129.2 454.2,128.1 460.2,126.6 466.1,125.3 472,124.6 477.9,124.4 480,124.4 482.1,124.4 484.2,124.5 486.3,124.6 488.4,124.7 490.5,124.8 492.6,125 494.7,125.3 496.8,125.6 498.9,125.9 501,126.3 503.1,126.7 505.1,127 507.2,127.4 509.3,127.7 511.4,128 513.5,128.2 515.6,128.3 517.7,128.4 519.8,128.5"/>
<polyline points="83.3,127 85.4,127 87.5,127 89.6,127 91.7,127 93.8,127.1 95.9,127.2 98,127.3 100,127.5 102.1,127.7 104.2,128 106.3,128.3 108.4,128.7 110.5,129 112.6,129.4 114.7,129.7 116.8,129.6 118.9,129.2 121,128.8 123.1,128.3 125.2,127.9 132.4,126.2 139.7,124.3 146.9,122.6 154.2,122.2 161.4,121.4 168.7,120.6 175.9,119.8 183.2,119.3 190.4,119 197.7,118.8 208,121.1 218.2,125.4 228.5,127.4 238.7,123.1 249,118 259.2,114.2 269.5,114.4 279.8,109.9 290,105.9 300.3,103.9 312.1,106.2 324,110.4 335.8,114.5 347.6,115.8 359.5,120.4 371.3,124.6 383.2,128.4 395,131.8 406.9,129.4 418.7,127 424.6,127 430.6,126.9 436.5,126.8 442.4,126.3 448.3,125.5 454.2,124.4 460.2,123.1 466.1,121.7 472,120.5 477.9,120.1 480,120.2 482.1,120.4 484.2,120.6 486.3,120.9 488.4,121.2 490.5,121.5 492.6,121.8 494.7,122.2 496.8,122.7 498.9,123.2 501,123.7 503.1,124.2 505.1,124.8 507.2,125.4 509.3,125.9 511.4,126.5 513.5,127 515.6,127.5 517.7,127.8 519.8,128"/>
<polyline points="83.3,122.8 85.4,122.7 87.5,122.6 89.6,122.4 91.7,122.1 93.8,121.8 95.9,121.5 98,121.1 100,120.7 102.1,120.3 104.2,120.7 106.3,121.2 108.4,121.7 110.5,122.1 112.6,122.5 114.7,122.9 116.8,123.2 118.9,123.4 121,123.6 123.1,123.7 125.2,123.7 132.4,123.4 139.7,122.6 146.9,122.2 154.2,120.3 161.4,119.2 168.7,118.8 175.9,118.7 183.2,118.8 190.4,118.8 197.7,118.8 208,121.1 218.2,124.3 228.5,127.4 238.7,123.1 249,118 259.2,113.5 269.5,114.4 279.8,109.9 290,105.9 300.3,103.9 312.1,106.2 324,110.4 335.8,114.5 347.6,115.8 359.5,119.6 371.3,123.5 383.2,126.3 395,125.2 406.9,120.5 418.7,122.8 424.6,122.4 430.6,121.6 436.5,120.6 442.4,120.2 448.3,121.3 454.2,121.9 460.2,121.6 466.1,121 472,120.5 477.9,120 480,120.1 482.1,120.2 484.2,120.5 486.3,120.8 488.4,121.1 490.5,121.4 492.6,121.6 494.7,121.8 496.8,121.9 498.9,121.9 501,121.9 503.1,122 505.1,122.3 507.2,122.6 509.3,122.9 511.4,123.2 513.5,123.4 515.6,123.6 517.7,123.7 519.8,123.7"/>
<polyline points="83.3,117.2 85.4,117.2 87.5,117.3 89.6,117.5 91.7,117.6 93.8,117.7 95.9,118.3 98,118.9 100,119.5 102.1,120.1 104.2,119.9 106.3,119.4 108.4,119 110.5,118.7 112.6,118.6 114.7,118.8 116.8,119.3 118.9,119.8 121,120.4 123.1,121.1 125.2,121.7 132.4,122.9 139.7,122.1 146.9,119.5 154.2,117 161.4,115.8 168.7,115.5 175.9,115.4 183.2,115.4 190.4,115.5 197.7,115.5 208,113.5 218.2,110.6 228.5,112.4 238.7,114.2 249,115.4 259.2,113.5 269.5,110.7 279.8,106.8 290,104.4 300.3,103.9 312.1,104.6 324,106.5 335.8,110.3 347.6,115.4 359.5,119.6 371.3,123.5 383.2,126.3 395,125.2 406.9,120.4 418.7,117.2 424.6,117.5 430.6,118 436.5,118.9 442.4,120.2 448.3,120.5 454.2,120.9 460.2,121.1 466.1,120.7 472,119.7 477.9,118.8 480,119 482.1,119.1 484.2,119.2 486.3,119.4 488.4,119.6 490.5,119.9 492.6,120.2 494.7,120.5 496.8,120.9 498.9,121.2 501,121.6 503.1,121.9 505.1,121.9 507.2,121.8 509.3,121.8 511.4,121.8 513.5,121.8 515.6,121.8 517.7,121.8 519.8,121.8"/>
<polyline points="83.3,115.7 85.4,115.8 87.5,116.2 89.6,116.6 91.7,117.2 93.8,117.7 95.9,117.8 98,117.9 100,117.9 102.1,117.9 104.2,117.9 106.3,117.8 108.4,117.8 110.5,117.8 112.6,117.8 114.7,117.9 116.8,118 118.9,118.2 121,118.6 123.1,118.9 125.2,119.4 132.4,120.3 139.7,120.5 146.9,118.4 154.2,115.9 161.4,114.5 168.7,114.5 175.9,114.8 183.2,115.1 190.4,115.4 197.7,115.5 208,113.5 218.2,109.5 228.5,105.2 238.7,105.1 249,108.8 259.2,112.2 269.5,107.8 279.8,103.5 290,100.6 300.3,99.8 312.1,101.4 324,105.4 335.8,109.4 347.6,113.8 359.5,118 371.3,121.2 383.2,122.5 395,121.6 406.9,120.4 418.7,115.7 424.6,116.3 430.6,117.5 436.5,118.4 442.4,118.7 448.3,118.7 454.2,118.6 460.2,118.4 466.1,118.3 472,118.3 477.9,118.8 480,118.6 482.1,118.5 484.2,118.5 486.3,118.5 488.4,118.7 490.5,118.8 492.6,118.9 494.7,119.1 496.8,119.2 498.9,119.3 501,119.3 503.1,119.4 505.1,119.4 507.2,119.4 509.3,119.4 511.4,119.4 513.5,119.4 515.6,119.4 517.7,119.4 519.8,119.4"/>
<polyline points="83.3,115.7 85.4,115.7 87.5,115.8 89.6,115.8 91.7,115.9 93.8,116 95.9,116.1 98,116.3 100,116.4 102.1,116.6 104.2,116.7 106.3,117 108.4,117.2 110.5,117.4 112.6,117.5 114.7,117.2 116.8,116.8 118.9,116.3 121,115.7 123.1,115.2 125.2,114.6 132.4,114 139.7,114 146.9,114.1 154.2,113.8 161.4,112.2 168.7,109.9 175.9,108.7 183.2,108.6 190.4,108.9 197.7,109 208,109.4 218.2,109.5 228.5,105.2 238.7,105.1 249,108.8 259.2,112.2 269.5,107.8 279.8,103.5 290,100.6 300.3,99.8 312.1,101.4 324,104.7 335.8,109.1 347.6,112.8 359.5,115.9 371.3,116.8 383.2,116 395,115.6 406.9,119.2 418.7,115.7 424.6,116.1 430.6,116.9 436.5,117.6 442.4,117.6 448.3,116.8 454.2,116.1 460.2,115.7 466.1,116.2 472,116.8 477.9,117.1 480,117.1 482.1,116.9 484.2,116.6 486.3,116.3 488.4,116.1 490.5,115.9 492.6,115.8 494.7,115.7 496.8,115.5 498.9,115.4 501,115.3 503.1,115.2 505.1,115.1 507.2,115 509.3,114.9 511.4,114.8 513.5,114.7 515.6,114.6 517.7,114.6 519.8,114.6"/>
<polyline points="83.3,115.7 85.4,115.7 87.5,115.7 89.6,115.7 91.7,115.6 93.8,115.5 95.9,115.4 98,115.3 100,115.2 102.1,115.1 104.2,114.9 106.3,114.7 108.4,114.5 110.5,114.3 112.6,114 114.7,113.7 116.8,113.4 118.9,113.1 121,112.8 123.1,112.4 125.2,112 132.4,110.8 139.7,109.3 146.9,109.6 154.2,110 161.4,108.9 168.7,107 175.9,106 183.2,105.5 190.4,105.5 197.7,105.5 208,103.4 218.2,101 228.5,102 238.7,101.7 249,101 259.2,101.4 269.5,101.7 279.8,101.5 290,100.2 300.3,99.8 312.1,100.9 324,104.7 335.8,107.8 347.6,106.5 359.5,102.2 371.3,104.3 383.2,110 395,114.9 406.9,114.1 418.7,115.7 424.6,115.7 430.6,115.6 436.5,115.4 442.4,115.3 448.3,115.3 454.2,115.4 460.2,115.7 466.1,115.8 472,116.4 477.9,116.7 480,116.7 482.1,116.6 484.2,116.5 486.3,116.3 488.4,116 490.5,115.6 492.6,115.3 494.7,115 496.8,114.6 498.9,114.3 501,114 503.1,113.7 505.1,113.4 507.2,113.1 509.3,112.8 511.4,112.6 513.5,112.4 515.6,112.2 517.7,112 519.8,112"/>
<polyline points="83.3,115.7 85.4,115.7 87.5,115.5 89.6,115.3 91.7,115.1 93.8,114.8 95.9,114.6 98,114.3 100,114 102.1,113.7 104.2,113.4 106.3,113.1 108.4,112.7 110.5,112.4 112.6,112 114.7,111.6 116.8,111.2 118.9,110.8 121,110.3 123.1,110.1 125.2,109.9 132.4,109.4 139.7,109.2 146.9,108.3 154.2,107.5 161.4,106.6 168.7,105.9 175.9,105.2 183.2,105.3 190.4,105.5 197.7,105.5 208,103.1 218.2,100.4 228.5,102 238.7,101.7 249,100 259.2,100 269.5,100.5 279.8,100.6 290,100.2 300.3,98.7 312.1,100.3 324,104.4 335.8,107.8 347.6,106.5 359.5,102.2 371.3,100.2 383.2,102.8 395,107 406.9,111.5 418.7,115.7 424.6,115.3 430.6,114.5 436.5,113.5 442.4,112.3 448.3,110.9 454.2,109.4 460.2,107.8 466.1,106.8 472,107.2 477.9,107.3 480,107.3 482.1,107.2 484.2,107.1 486.3,106.9 488.4,106.7 490.5,106.5 492.6,106.5 494.7,106.7 496.8,107 498.9,107.3 501,107.7 503.1,108.1 505.1,108.5 507.2,108.8 509.3,109.1 511.4,109.4 513.5,109.6 515.6,109.7 517.7,109.8 519.8,109.9"/>
<polyline points="83.3,113.8 85.4,113.7 87.5,113.6 89.6,113.4 91.7,113.1 93.8,112.8 95.9,112.5 98,112.1 100,112 102.1,111.9 104.2,111.7 106.3,111.6 108.4,111.4 110.5,111.2 112.6,111.1 114.7,110.9 116.8,110.7 118.9,110.5 121,110.3 123.1,109.9 125.2,109.4 132.4,108.2 139.7,107.6 146.9,107.6 154.2,107.2 161.4,106.5 168.7,105.1 175.9,104.4 183.2,104.4 190.4,104.4 197.7,104.4 208,103.1 218.2,100.4 228.5,100 238.7,100.5 249,100 259.2,99.3 269.5,98.9 279.8,98.7 290,98.4 300.3,98.4 312.1,98.9 324,97.2 335.8,95.5 347.6,95.2 359.5,99 371.3,100.2 383.2,102.8 395,107 406.9,111.5 418.7,113.8 424.6,113.5 430.6,112.7 436.5,111.7 442.4,110.4 448.3,108.9 454.2,107.5 460.2,106.7 466.1,106.1 472,107 477.9,107.3 480,107.3 482.1,107.1 484.2,107 486.3,106.8 488.4,106.5 490.5,106.2 492.6,106 494.7,106.1 496.8,106.5 498.9,106.8 501,107.2 503.1,107.5 505.1,107.9 507.2,108.2 509.3,108.5 511.4,108.8 513.5,109 515.6,109.2 517.7,109.3 519.8,109.4"/>
<polyline points="83.3,113.1 85.4,113 87.5,112.9 89.6,112.7 91.7,112.5 93.8,112.4 95.9,112.3 98,112.1 100,111.6 102.1,111.2 104.2,110.7 106.3,110.2 108.4,109.7 110.5,109.2 112.6,108.6 114.7,108.1 116.8,107.5 118.9,107 121,106.4 123.1,105.9 125.2,105.3 132.4,104.4 139.7,104.4 146.9,103.9 154.2,104.4 161.4,104.8 168.7,104.8 175.9,104 183.2,101.9 190.4,99.9 197.7,99.3 208,99.5 218.2,99.5 228.5,98.8 238.7,98.8 249,99.4 259.2,99.3 269.5,98.9 279.8,98.7 290,98.4 300.3,98.4 312.1,97.3 324,96.1 335.8,95.4 347.6,95.2 359.5,95.6 371.3,96.7 383.2,101.4 395,106.1 406.9,110.4 418.7,113.1 424.6,112.6 430.6,111.6 436.5,110.5 442.4,109.5 448.3,108.5 454.2,107.5 460.2,106.4 466.1,106.1 472,104.3 477.9,102.7 480,103.1 482.1,103.5 484.2,103.9 486.3,104.4 488.4,104.8 490.5,105.2 492.6,105.5 494.7,105.4 496.8,105.1 498.9,104.8 501,104.5 503.1,104.6 505.1,104.7 507.2,104.9 509.3,105 511.4,105.1 513.5,105.2 515.6,105.3 517.7,105.3 519.8,105.3"/>
<polyline points="83.3,110.7 85.4,110.6 87.5,110.4 89.6,110 91.7,109.6 93.8,109.1 95.9,108.5 98,107.9 100,107.2 102.1,106.6 104.2,105.9 106.3,105.3 108.4,104.6 110.5,104 112.6,103.4 114.7,102.8 116.8,102.6 118.9,102.5 121,102.5 123.1,102.4 125.2,102.6 132.4,104.2 139.7,103.9 146.9,103.6 154.2,103.5 161.4,103.8 168.7,103.9 175.9,102.2 183.2,100.4 190.4,99.6 197.7,99.3 208,99.5 218.2,98.2 228.5,97.2 238.7,96.1 249,96 259.2,96.6 269.5,97.3 279.8,97.8 290,98.2 300.3,98.4 312.1,97.3 324,96.1 335.8,95.4 347.6,94.8 359.5,95.6 371.3,95 383.2,98 395,103.4 406.9,108.3 418.7,110.7 424.6,110.1 430.6,109 436.5,107.6 442.4,106.3 448.3,105.4 454.2,104.7 460.2,105 466.1,105.2 472,103.6 477.9,102.7 480,102.7 482.1,103 484.2,103.3 486.3,103.7 488.4,104 490.5,104.3 492.6,104.4 494.7,104.4 496.8,104.4 498.9,104.4 501,104.5 503.1,104.2 505.1,103.9 507.2,103.6 509.3,103.3 511.4,103 513.5,102.8 515.6,102.6 517.7,102.6 519.8,102.6"/>
<polyline points="83.3,103 85.4,103 87.5,103 89.6,102.9 91.7,102.9 93.8,102.9 95.9,102.9 98,102.9 100,102.9 102.1,102.9 104.2,102.8 106.3,102.8 108.4,102.8 110.5,102.7 112.6,102.7 114.7,102.7 116.8,102.3 118.9,101.9 121,101.8 123.1,102.1 125.2,102.4 132.4,102.1 139.7,101.4 146.9,101 154.2,101.5 161.4,102 168.7,102.1 175.9,101.4 183.2,99.9 190.4,99.4 197.7,99 208,99.2 218.2,98.2 228.5,94 238.7,93.5 249,92 259.2,91.2 269.5,91.4 279.8,92 290,93.4 300.3,94.2 312.1,94.1 324,93.8 335.8,93.3 347.6,94 359.5,93 371.3,95 383.2,92.8 395,95.9 406.9,100.6 418.7,103 424.6,102.9 430.6,102.6 436.5,102.2 442.4,102.1 448.3,102.7 454.2,103.7 460.2,103.9 466.1,102.6 472,101.8 477.9,102.5 480,102.3 482.1,102.3 484.2,102.4 486.3,102.5 488.4,102.7 490.5,102.8 492.6,103 494.7,103.1 496.8,103.1 498.9,103.1 501,103 503.1,102.9 505.1,102.8 507.2,102.8 509.3,102.7 511.4,102.7 513.5,102.7 515.6,102.6 517.7,102.4 519.8,102.4"/>
<polyline points="83.3,103 85.4,102.9 87.5,102.8 89.6,102.7 91.7,102.5 93.8,102.3 95.9,102.1 98,101.8 100,101.6 102.1,101.4 104.2,101.3 106.3,101.2 108.4,101.2 110.5,101.2 112.6,101.3 114.7,101.3 116.8,101.3 118.9,101.2 121,101 123.1,100.8 125.2,100.5 132.4,100.4 139.7,100.8 146.9,100.7 154.2,99.7 161.4,98.4 168.7,97.8 175.9,98.7 183.2,98.9 190.4,97.4 197.7,96.6 208,96.8 218.2,97.1 228.5,94 238.7,93.5 249,92 259.2,91.2 269.5,91.4 279.8,92 290,93.4 300.3,94.2 312.1,92.6 324,91.5 335.8,92.1 347.6,92.6 359.5,92.5 371.3,93.8 383.2,92.8 395,95.9 406.9,100.6 418.7,103 424.6,102.8 430.6,102.4 436.5,102.1 442.4,101.6 448.3,100.8 454.2,99.9 460.2,98.8 466.1,97.9 472,99.4 477.9,100.7 480,100.5 482.1,100.1 484.2,99.7 486.3,99.6 488.4,99.6 490.5,99.7 492.6,99.8 494.7,99.8 496.8,99.7 498.9,99.6 501,99.4 503.1,99.2 505.1,99.1 507.2,99.4 509.3,99.6 511.4,99.9 513.5,100.1 515.6,100.3 517.7,100.4 519.8,100.5"/>
<polyline points="83.3,87.7 85.4,87.8 87.5,88 89.6,88.3 91.7,88.8 93.8,89.3 95.9,89.8 98,90.3 100,91.1 102.1,91.9 104.2,92.5 106.3,93.1 108.4,93.6 110.5,94 112.6,95 114.7,96 116.8,96.9 118.9,97.7 121,98.2 123.1,98.3 125.2,98 132.4,98.1 139.7,99.9 146.9,100.4 154.2,98.6 161.4,97 168.7,96.7 175.9,94.9 183.2,93.2 190.4,91.8 197.7,91.1 208,91.8 218.2,93.1 228.5,92.8 238.7,88.9 249,88.8 259.2,89.2 269.5,90.1 279.8,90.9 290,92.5 300.3,94.2 312.1,92.6 324,91.5 335.8,90.9 347.6,90 359.5,90.9 371.3,90.6 383.2,89.7 395,88.7 406.9,88 418.7,87.7 424.6,88.2 430.6,89.3 436.5,90.2 442.4,91.1 448.3,92.4 454.2,94.1 460.2,95.8 466.1,97.4 472,98.1 477.9,98.3 480,98.3 482.1,98.2 484.2,98.1 486.3,98 488.4,97.8 490.5,97.7 492.6,97.7 494.7,97.8 496.8,98 498.9,98.3 501,98.5 503.1,98.8 505.1,99 507.2,98.8 509.3,98.6 511.4,98.4 513.5,98.2 515.6,98.1 517.7,98.1 519.8,98"/>
<polyline points="83.3,83.9 85.4,84.4 87.5,85.3 89.6,86.4 91.7,87.4 93.8,88.4 95.9,89.4 98,90.3 100,90.8 102.1,91.2 104.2,91.4 106.3,91.9 108.4,92.9 110.5,94 112.6,94.3 114.7,94.5 116.8,94.5 118.9,94.5 121,94.3 123.1,95.1 125.2,96 132.4,96.1 139.7,93.4 146.9,92.9 154.2,94.2 161.4,94.8 168.7,93.2 175.9,91.9 183.2,91.4 190.4,91.2 197.7,91.1 208,91.8 218.2,93.1 228.5,92.8 238.7,88.9 249,88.8 259.2,89.2 269.5,90.1 279.8,90.9 290,90.8 300.3,90.4 312.1,90.3 324,90.7 335.8,90.9 347.6,90 359.5,88.6 371.3,86.8 383.2,87.8 395,87.3 406.9,85.1 418.7,83.9 424.6,85.5 430.6,87.6 436.5,89.6 442.4,90.9 448.3,92.1 454.2,93.6 460.2,95.3 466.1,97 472,97.9 477.9,97 480,97.4 482.1,97.6 484.2,97.5 486.3,97 488.4,96.6 490.5,96.7 492.6,96.6 494.7,96.5 496.8,96.3 498.9,96.2 501,96.1 503.1,96.1 505.1,96 507.2,96 509.3,96 511.4,96 513.5,96 515.6,96 517.7,96 519.8,96"/>
<polyline points="83.3,83.9 85.4,83.9 87.5,84.1 89.6,84.5 91.7,85.2 93.8,85.9 95.9,86.8 98,87.7 100,88.7 102.1,89.7 104.2,90.8 106.3,91.5 108.4,91.5 110.5,91.3 112.6,91 114.7,91.4 116.8,92.3 118.9,93.2 121,94.1 123.1,94 125.2,93.7 132.4,92.4 139.7,91.1 146.9,90.6 154.2,90.2 161.4,89.7 168.7,88.9 175.9,88.5 183.2,88.3 190.4,87.9 197.7,87.8 208,87.7 218.2,88.3 228.5,89.3 238.7,88.9 249,87.2 259.2,86.5 269.5,85.5 279.8,89 290,90.8 300.3,90.4 312.1,89.9 324,86.6 335.8,84.8 347.6,87.2 359.5,88.6 371.3,86.8 383.2,87.8 395,87.3 406.9,85.1 418.7,83.9 424.6,85.2 430.6,87.2 436.5,89.2 442.4,90.5 448.3,92.1 454.2,93.2 460.2,95.2 466.1,96.9 472,96.6 477.9,97 480,96.6 482.1,96.3 484.2,96.4 486.3,96.5 488.4,96.4 490.5,95.7 492.6,95.2 494.7,94.7 496.8,94.3 498.9,94 501,93.7 503.1,93.5 505.1,93.4 507.2,93.4 509.3,93.5 511.4,93.5 513.5,93.6 515.6,93.7 517.7,93.7 519.8,93.8"/>
<polyline points="83.3,83.8 85.4,83.8 87.5,83.9 89.6,83.9 91.7,83.9 93.8,84.2 95.9,84.8 98,85.4 100,86.1 102.1,86.8 104.2,87.5 106.3,88.2 108.4,89 110.5,89.8 112.6,90.6 114.7,90.6 116.8,90 118.9,89.5 121,88.9 123.1,88.3 125.2,87.8 132.4,89.1 139.7,90.3 146.9,89.4 154.2,88.2 161.4,88.4 168.7,88.5 175.9,87.8 183.2,86.7 190.4,87.1 197.7,87.8 208,87.7 218.2,87.6 228.5,87.8 238.7,87.5 249,87.2 259.2,86.5 269.5,85.5 279.8,85.3 290,88.6 300.3,90.4 312.1,89.9 324,86.6 335.8,83.5 347.6,84.8 359.5,84.5 371.3,86.7 383.2,86.9 395,85.7 406.9,84.4 418.7,83.8 424.6,84.2 430.6,85.4 436.5,87.6 442.4,90 448.3,91 454.2,92.9 460.2,94.2 466.1,94.6 472,95.2 477.9,96.2 480,96.2 482.1,96.2 484.2,95.9 486.3,95.6 488.4,95.3 490.5,95.1 492.6,94.8 494.7,94.5 496.8,94.1 498.9,93.6 501,93 503.1,92.3 505.1,91.6 507.2,90.8 509.3,90 511.4,89.3 513.5,88.6 515.6,88.1 517.7,87.9 519.8,87.8"/>
<polyline points="83.3,83.1 85.4,83.1 87.5,83.3 89.6,83.4 91.7,83.7 93.8,84 95.9,84.1 98,84.2 100,84.3 102.1,84.4 104.2,84.6 106.3,84.8 108.4,85 110.5,85.2 112.6,85.4 114.7,85.7 116.8,86.1 118.9,86.4 121,86.8 123.1,87.3 125.2,87.8 132.4,87.3 139.7,87.5 146.9,87.8 154.2,87.8 161.4,87.7 168.7,87.6 175.9,86.9 183.2,85.7 190.4,86 197.7,86.3 208,87.1 218.2,87.6 228.5,87.8 238.7,87.5 249,86.6 259.2,83.5 269.5,85.2 279.8,85.2 290,86.2 300.3,87.3 312.1,85.7 324,84.3 335.8,81.9 347.6,79.6 359.5,83.2 371.3,83.9 383.2,84.6 395,83 406.9,82.8 418.7,83.1 424.6,83.6 430.6,85.2 436.5,87.1 442.4,89 448.3,90.8 454.2,92.2 460.2,91.7 466.1,93.3 472,94.8 477.9,94.8 480,94.8 482.1,94.7 484.2,94.6 486.3,94.5 488.4,94.2 490.5,93.9 492.6,93.3 494.7,92.7 496.8,92 498.9,91.4 501,91.1 503.1,90.9 505.1,90.6 507.2,90.2 509.3,89.6 511.4,89.1 513.5,88.6 515.6,88.1 517.7,87.8 519.8,87.7"/>
<polyline points="83.3,82.5 85.4,82.6 87.5,82.8 89.6,83.2 91.7,83.4 93.8,83.5 95.9,83.5 98,83.8 100,84 102.1,84.2 104.2,84.4 106.3,84.6 108.4,84.8 110.5,85 112.6,85.2 114.7,85.4 116.8,85.6 118.9,85.8 121,86 123.1,86.1 125.2,86.2 132.4,86.7 139.7,86.7 146.9,85.8 154.2,85.3 161.4,84.7 168.7,84.9 175.9,85.2 183.2,85.3 190.4,85.2 197.7,84.6 208,84.8 218.2,85.1 228.5,85.6 238.7,85.2 249,80.9 259.2,81.8 269.5,82.3 279.8,85.2 290,86.2 300.3,87.3 312.1,85.4 324,83.1 335.8,81.9 347.6,78.5 359.5,81 371.3,83.2 383.2,84.6 395,83 406.9,82.3 418.7,82.5 424.6,83.1 430.6,84.8 436.5,86.6 442.4,88.6 448.3,90.1 454.2,89.8 460.2,91.3 466.1,90.5 472,91.4 477.9,91.8 480,91.8 482.1,91.7 484.2,91.5 486.3,91.3 488.4,90.9 490.5,90.5 492.6,90.1 494.7,90.2 496.8,90.3 498.9,90.3 501,89.8 503.1,89.2 505.1,88.4 507.2,87.7 509.3,87 511.4,86.8 513.5,86.6 515.6,86.4 517.7,86.2 519.8,86.1"/>
<polyline points="83.3,82.5 85.4,82.5 87.5,82.5 89.6,82.7 91.7,82.9 93.8,83.2 95.9,83.5 98,83.5 100,83.6 102.1,83.6 104.2,83.7 106.3,83.7 108.4,83.8 110.5,83.8 112.6,83.9 114.7,83.9 116.8,84 118.9,84.1 121,84.2 123.1,84.6 125.2,85.4 132.4,85.4 139.7,85.5 146.9,84.9 154.2,82.8 161.4,82.7 168.7,83.2 175.9,84.1 183.2,85.2 190.4,84.2 197.7,84.6 208,84.8 218.2,85.1 228.5,85.6 238.7,85.2 249,80.9 259.2,80.1 269.5,80.2 279.8,81.5 290,83 300.3,83.2 312.1,83.6 324,81.5 335.8,78.8 347.6,78 359.5,79.1 371.3,83.2 383.2,83.3 395,82.6 406.9,82.3 418.7,82.5 424.6,82.7 430.6,83.9 436.5,85 442.4,86.1 448.3,87.2 454.2,88.2 460.2,89.4 466.1,90.5 472,89 477.9,87.5 480,87.8 482.1,88.2 484.2,88.6 486.3,88.9 488.4,89.3 490.5,89.6 492.6,89.9 494.7,89.6 496.8,89.1 498.9,88.6 501,88.2 503.1,87.8 505.1,87.4 507.2,87.2 509.3,86.9 511.4,86.4 513.5,85.7 515.6,85.3 517.7,85.4 519.8,85.4"/>
<polyline points="83.3,81.8 85.4,81.7 87.5,81.8 89.6,82.1 91.7,82.2 93.8,82.2 95.9,82.1 98,82.1 100,82 102.1,82 104.2,81.9 106.3,81.9 108.4,81.8 110.5,81.8 112.6,82 114.7,82.3 116.8,82.6 118.9,83.2 121,83.9 123.1,84.2 125.2,84.3 132.4,84.4 139.7,83.2 146.9,82.7 154.2,82.5 161.4,80.8 168.7,79.3 175.9,80.9 183.2,82.9 190.4,83.8 197.7,83.3 208,82.7 218.2,81.5 228.5,80.4 238.7,79.7 249,80 259.2,77.4 269.5,78.8 279.8,81.5 290,83 300.3,83.2 312.1,82.4 324,80.4 335.8,78.5 347.6,77.7 359.5,78.7 371.3,81.5 383.2,81.7 395,82.1 406.9,82.1 418.7,81.8 424.6,82.7 430.6,83.4 436.5,84.4 442.4,85.7 448.3,87.1 454.2,88.1 460.2,87.2 466.1,86.2 472,86.3 477.9,87.4 480,87.1 482.1,86.7 484.2,86.4 486.3,86.2 488.4,86 490.5,85.8 492.6,85.7 494.7,85.6 496.8,85.6 498.9,85.5 501,85.5 503.1,85.4 505.1,85.3 507.2,85.3 509.3,85.3 511.4,85.3 513.5,85.3 515.6,85.1 517.7,84.6 519.8,84.3"/>
<polyline points="83.3,81.4 85.4,81.5 87.5,81.6 89.6,81.6 91.7,81.6 93.8,81.6 95.9,81.6 98,81.6 100,81.6 102.1,81.6 104.2,81.6 106.3,81.6 108.4,81.7 110.5,81.8 112.6,81.8 114.7,81.7 116.8,81.7 118.9,81.7 121,81.7 123.1,81.7 125.2,81.7 132.4,81.7 139.7,81.4 146.9,81.4 154.2,80.7 161.4,77.7 168.7,77.4 175.9,75.4 183.2,77 190.4,78.1 197.7,78.5 208,78 218.2,77.2 228.5,77.1 238.7,77.6 249,78.6 259.2,77.4 269.5,78.8 279.8,77.4 290,75.4 300.3,74.6 312.1,75.6 324,77.8 335.8,77.6 347.6,77.7 359.5,78.7 371.3,80 383.2,81.1 395,81.6 406.9,81.5 418.7,81.4 424.6,80.7 430.6,79 436.5,77 442.4,76.2 448.3,76.2 454.2,77 460.2,77.9 466.1,78.7 472,79.2 477.9,79.4 480,79.4 482.1,79.5 484.2,79.8 486.3,80.1 488.4,80.5 490.5,81 492.6,81.4 494.7,81.8 496.8,82.2 498.9,82.5 501,82.8 503.1,83 505.1,83.1 507.2,83.1 509.3,83.1 511.4,82.9 513.5,82.7 515.6,82.4 517.7,82 519.8,81.7"/>
<polyline points="83.3,81.4 85.4,81.4 87.5,81.4 89.6,81.4 91.7,81.4 93.8,81.4 95.9,81.4 98,81.5 100,81.5 102.1,81.5 104.2,81.6 106.3,81.6 108.4,81.6 110.5,81.6 112.6,81.5 114.7,81.5 116.8,81.5 118.9,81.5 121,81.4 123.1,81.4 125.2,81.4 132.4,81.3 139.7,81.3 146.9,79.6 154.2,78.2 161.4,77.6 168.7,74.9 175.9,74.5 183.2,74.4 190.4,75.4 197.7,75.7 208,76 218.2,76.5 228.5,77.1 238.7,77.5 249,77.5 259.2,75.8 269.5,71.6 279.8,70.6 290,71.5 300.3,71.8 312.1,70.7 324,71.1 335.8,73.2 347.6,74.8 359.5,76.2 371.3,79.2 383.2,80.8 395,81.3 406.9,81.4 418.7,81.4 424.6,80.1 430.6,77.9 436.5,76.9 442.4,75 448.3,74.2 454.2,75.6 460.2,77.3 466.1,78.5 472,78.4 477.9,77 480,77.4 482.1,77.6 484.2,77.4 486.3,77.1 488.4,76.5 490.5,75.8 492.6,75.4 494.7,75.3 496.8,75.2 498.9,75.1 501,75 503.1,74.9 505.1,75 507.2,76 509.3,77.1 511.4,78.3 513.5,79.3 515.6,80.3 517.7,81 519.8,81.4"/>
<polyline points="83.3,81.4 85.4,81.1 87.5,80.1 89.6,78.9 91.7,78.6 93.8,78.3 95.9,78 98,77.7 100,77.4 102.1,77.2 104.2,77.1 106.3,77.1 108.4,77.5 110.5,78 112.6,78.7 114.7,79.4 116.8,79.9 118.9,80.3 121,80.6 123.1,80.8 125.2,80.9 132.4,80.9 139.7,80.4 146.9,79.5 154.2,77.9 161.4,76.5 168.7,74.3 175.9,73.5 183.2,73 190.4,74.9 197.7,75.7 208,76 218.2,76.5 228.5,77.1 238.7,77.5 249,77.5 259.2,75.8 269.5,71.6 279.8,69 290,70.7 300.3,71.8 312.1,70.7 324,68.3 335.8,72.4 347.6,73 359.5,76.2 371.3,79.2 383.2,80.8 395,81.3 406.9,81.4 418.7,81.4 424.6,80.1 430.6,77.9 436.5,75.6 442.4,73.3 448.3,71.2 454.2,70.9 460.2,70.7 466.1,72.9 472,75.1 477.9,77 480,76.6 482.1,76.3 484.2,76 486.3,75.7 488.4,75.6 490.5,75.5 492.6,75.1 494.7,74.3 496.8,73.6 498.9,72.9 501,72.7 503.1,73.5 505.1,74.5 507.2,75.6 509.3,76.6 511.4,77.7 513.5,78.7 515.6,79.6 517.7,80.4 519.8,80.9"/>
<polyline points="83.3,79.4 85.4,79.4 87.5,79.2 89.6,78.9 91.7,77.7 93.8,76.5 95.9,75.3 98,74 100,72.8 102.1,72.3 104.2,73.2 106.3,73.8 108.4,74.2 110.5,74.3 112.6,74.2 114.7,74.1 116.8,73.8 118.9,73.6 121,73.3 123.1,73 125.2,72.7 132.4,73.5 139.7,73.8 146.9,73.6 154.2,72.8 161.4,71.7 168.7,72.9 175.9,71.4 183.2,72.1 190.4,74.3 197.7,75.2 208,75.1 218.2,74.5 228.5,72.5 238.7,69.8 249,68.3 259.2,70.1 269.5,69.6 279.8,69 290,70.7 300.3,71.8 312.1,70.7 324,68.1 335.8,69 347.6,73 359.5,73.6 371.3,73.9 383.2,75 395,77 406.9,78.8 418.7,79.4 424.6,78.9 430.6,77.6 436.5,75 442.4,72.4 448.3,71.2 454.2,69.5 460.2,70.3 466.1,70.7 472,71.3 477.9,71.5 480,71.4 482.1,71.2 484.2,70.9 486.3,70.5 488.4,69.9 490.5,69.6 492.6,69.7 494.7,69.8 496.8,70.1 498.9,71.1 501,72.3 503.1,73.4 505.1,74.4 507.2,74.3 509.3,74 511.4,73.7 513.5,73.4 515.6,73 517.7,72.8 519.8,72.7"/>
<polyline points="83.3,78.2 85.4,78 87.5,77.3 89.6,76.4 91.7,75.4 93.8,74.4 95.9,73.3 98,72.1 100,71.4 102.1,71.6 104.2,70.6 106.3,69.9 108.4,69.6 110.5,69.4 112.6,69.3 114.7,69.3 116.8,70.1 118.9,70.8 121,71.5 123.1,72.1 125.2,72.7 132.4,72.1 139.7,71.3 146.9,70.8 154.2,70.9 161.4,71.1 168.7,69.8 175.9,70.5 183.2,71.7 190.4,69.7 197.7,69 208,69.2 218.2,69.2 228.5,68.9 238.7,68.3 249,68.3 259.2,70.1 269.5,69.6 279.8,68.1 290,66.8 300.3,66 312.1,67.6 324,68.1 335.8,69 347.6,70.5 359.5,70 371.3,71.3 383.2,74.4 395,76.3 406.9,77.6 418.7,78.2 424.6,76.7 430.6,74.3 436.5,71.7 442.4,70.8 448.3,71.1 454.2,69.2 460.2,69.8 466.1,69.8 472,69.5 477.9,69.4 480,69.4 482.1,69.4 484.2,69.4 486.3,69.5 488.4,69.5 490.5,69.3 492.6,68.8 494.7,69 496.8,69.9 498.9,70.8 501,71.5 503.1,71.7 505.1,71.8 507.2,71.9 509.3,72.1 511.4,72.3 513.5,72.5 515.6,72.6 517.7,72.7 519.8,72.6"/>
<polyline points="83.3,69.7 85.4,69.7 87.5,69.7 89.6,69.6 91.7,69.6 93.8,69.6 95.9,69.5 98,70.4 100,70.9 102.1,69.7 104.2,68.8 106.3,68.1 108.4,67.1 110.5,67.7 112.6,68.6 114.7,69.2 116.8,69.1 118.9,69 121,68.9 123.1,68.8 125.2,68.7 132.4,68.6 139.7,68.4 146.9,68.1 154.2,67.6 161.4,67.9 168.7,69.7 175.9,69.6 183.2,69.9 190.4,69.2 197.7,69 208,69.2 218.2,69.2 228.5,68.9 238.7,68.3 249,67.3 259.2,67.3 269.5,69.1 279.8,68.1 290,66.8 300.3,66 312.1,66.3 324,67.2 335.8,66.9 347.6,70.5 359.5,70 371.3,66.5 383.2,67.1 395,68.4 406.9,69.4 418.7,69.7 424.6,69.3 430.6,68.3 436.5,69.5 442.4,70.5 448.3,69.9 454.2,68.9 460.2,67.3 466.1,65 472,62.8 477.9,61.1 480,61.3 482.1,62.1 484.2,63 486.3,64 488.4,65 490.5,66.1 492.6,67.2 494.7,68.2 496.8,69.1 498.9,69.5 501,69.3 503.1,68.9 505.1,68.1 507.2,67.3 509.3,66.4 511.4,66.8 513.5,67.5 515.6,68.1 517.7,68.6 519.8,68.7"/>
<polyline points="83.3,69.7 85.4,69.6 87.5,69.3 89.6,68.8 91.7,68.2 93.8,68.5 95.9,69.4 98,69.4 100,69.3 102.1,69.2 104.2,68.5 106.3,67.2 108.4,66.9 110.5,65.9 112.6,64.7 114.7,63.6 116.8,63.5 118.9,63.4 121,63.2 123.1,63 125.2,62.9 132.4,62.6 139.7,62.6 146.9,62.9 154.2,65.4 161.4,67.3 168.7,67.7 175.9,69.3 183.2,68.3 190.4,68.7 197.7,68.8 208,68.3 218.2,67.1 228.5,65.7 238.7,64.4 249,65.6 259.2,64.9 269.5,64.8 279.8,65.3 290,62.1 300.3,60.6 312.1,62.7 324,66.7 335.8,66.9 347.6,70.3 359.5,68 371.3,66.5 383.2,67.1 395,68.4 406.9,69.4 418.7,69.7 424.6,69.2 430.6,68.1 436.5,68.6 442.4,69.2 448.3,67.3 454.2,68 460.2,66.4 466.1,64.3 472,62.3 477.9,60.7 480,61.3 482.1,61.9 484.2,62.7 486.3,63.7 488.4,64.8 490.5,65.9 492.6,66.9 494.7,67.2 496.8,66.6 498.9,65.9 501,65.2 503.1,64.5 505.1,64.5 507.2,65.2 509.3,66 511.4,65.4 513.5,64.6 515.6,63.8 517.7,63.2 519.8,62.9"/>
<polyline points="83.3,64.8 85.4,65.3 87.5,65.9 89.6,66.7 91.7,67.5 93.8,67.5 95.9,66.7 98,66 100,65.2 102.1,64.9 104.2,65.3 106.3,66.1 108.4,66 110.5,64.8 112.6,63.8 114.7,63.5 116.8,62.6 118.9,62.4 121,62.3 123.1,62.2 125.2,62.1 132.4,61.9 139.7,62.1 146.9,62.8 154.2,63.6 161.4,65.2 168.7,66.6 175.9,67.9 183.2,67.2 190.4,66.3 197.7,64.9 208,64.9 218.2,64.4 228.5,63.9 238.7,64.4 249,65.6 259.2,64.9 269.5,64.8 279.8,65.3 290,62.1 300.3,60.6 312.1,61.7 324,64.7 335.8,66.3 347.6,65.4 359.5,66.2 371.3,63.7 383.2,62.7 395,63.8 406.9,64.5 418.7,64.8 424.6,66.2 430.6,67.8 436.5,67.2 442.4,66.8 448.3,66.8 454.2,66.3 460.2,64 466.1,61.6 472,60.5 477.9,60.7 480,60.3 482.1,60.2 484.2,60.3 486.3,60.4 488.4,60.5 490.5,60.6 492.6,60.7 494.7,60.8 496.8,60.9 498.9,61.5 501,62.3 503.1,63 505.1,63.2 507.2,62.6 509.3,62 511.4,61.6 513.5,61.7 515.6,61.8 517.7,62 519.8,62.1"/>
<polyline points="83.3,64.7 85.4,64.7 87.5,64.7 89.6,64.7 91.7,64.6 93.8,64.6 95.9,64.5 98,64.5 100,64.4 102.1,64.3 104.2,64.2 106.3,64.1 108.4,64 110.5,63.9 112.6,63.4 114.7,62.7 116.8,62.4 118.9,61.5 121,60.9 123.1,60.8 125.2,60.8 132.4,61.2 139.7,61.5 146.9,62.7 154.2,63.6 161.4,64.5 168.7,66.1 175.9,67.2 183.2,66.3 190.4,65 197.7,64.9 208,64.9 218.2,64.4 228.5,63.9 238.7,64.4 249,63.9 259.2,63.9 269.5,63.2 279.8,62 290,61 300.3,60.6 312.1,61.7 324,64.7 335.8,65.9 347.6,64.4 359.5,63.3 371.3,63.7 383.2,61.1 395,63.1 406.9,64.4 418.7,64.7 424.6,65.3 430.6,66.8 436.5,66.5 442.4,65.1 448.3,65.9 454.2,64.5 460.2,62.7 466.1,61.3 472,59.7 477.9,60.2 480,60.2 482.1,59.9 484.2,59.5 486.3,59.3 488.4,59.3 490.5,59.4 492.6,59.6 494.7,60.1 496.8,60.7 498.9,61.1 501,61.2 503.1,61.3 505.1,61.4 507.2,61.4 509.3,61.5 511.4,61.5 513.5,61.2 515.6,61 517.7,60.9 519.8,60.8"/>
</g></g>
<rect x="83.3" y="56.0" width="436.5" height="323.4" fill="none" stroke="#222" stroke-width="1.3"/>
<path d="M83.3 347.1h3.8M519.8 347.1h-3.8M83.3 314.7h6.8M519.8 314.7h-6.8M83.3 282.4h3.8M519.8 282.4h-3.8M83.3 250.0h6.8M519.8 250.0h-6.8M83.3 217.7h3.8M519.8 217.7h-3.8M83.3 185.4h6.8M519.8 185.4h-6.8M83.3 153.0h3.8M519.8 153.0h-3.8M83.3 120.7h6.8M519.8 120.7h-6.8M83.3 88.3h3.8M519.8 88.3h-3.8M130.4 379.4v-3.8M130.4 56.0v3.8M177.5 379.4v-6.8M177.5 56.0v6.8M224.7 379.4v-3.8M224.7 56.0v3.8M271.8 379.4v-6.8M271.8 56.0v6.8M318.9 379.4v-3.8M318.9 56.0v3.8M366.0 379.4v-6.8M366.0 56.0v6.8M413.1 379.4v-3.8M413.1 56.0v3.8M460.3 379.4v-6.8M460.3 56.0v6.8M507.4 379.4v-3.8M507.4 56.0v3.8" stroke="#222" stroke-width="1" fill="none"/>
<rect x="537.9" y="188.8" width="439.7" height="31.0" fill="#6dcff6"/>
<g clip-path="url(#cpb)"><g class="b">
<polyline points="539.6,233.4 543.8,233.4 548,233.4 552.2,233.5 556.3,233.5 560.5,233.6 564.7,233.8 568.9,234 573.1,234.3 577.3,234.8 581.5,235.5 588.7,236.7 596,238.6 603.2,240.8 610.5,243.2 617.7,245.5 625,247.7 632.2,249.5 639.5,250.9 646.7,251.8 653.9,252.1 664.2,254.9 674.5,262.4 684.7,273.1 695,285.9 705.2,300 715.5,315.1 725.7,330.8 736,347.1 746.2,363.7 756.5,380.4 768.3,360.7 780.1,341.1 792,322 803.8,303.6 815.7,286.1 827.5,270 839.3,255.7 851.2,244.1 863,236.2 874.9,233.4 880.8,233.3 886.7,233.1 892.6,232.8 898.5,232.3 904.4,231.8 910.4,231.3 916.3,230.9 922.2,230.5 928.1,230.2 934,230.2 936.1,229.9 938.2,229.8 940.3,229.6 942.4,229.5 944.5,229.3 946.6,229.2 948.7,229.2 950.8,229.1 952.9,229 955,229 957.1,228.9 959.2,228.8 961.3,228.8 963.3,228.7 965.4,228.7 967.5,228.7 969.6,228.6 971.7,228.6 973.8,228.6 975.9,228.6"/>
<polyline points="539.6,224.4 543.8,224.4 548,224.2 552.2,224 556.3,223.6 560.5,223.2 564.7,222.8 568.9,222.4 573.1,222 577.3,221.8 581.5,221.9 588.7,222.6 596,224.4 603.2,227 610.5,229.9 617.7,232.8 625,235.6 632.2,237.9 639.5,239.6 646.7,240.7 653.9,241.1 664.2,244.1 674.5,252.2 684.7,263.8 695,277.7 705.2,293.1 715.5,309.5 725.7,326.6 736,344.3 746.2,362.3 756.5,380.4 768.3,359.5 780.1,338.7 792,318.4 803.8,298.8 815.7,280.2 827.5,263 839.3,247.8 851.2,235.6 863,227.4 874.9,224.4 880.8,224.4 886.7,224.2 892.6,223.8 898.5,223.4 904.4,223 910.4,222.5 916.3,222.1 922.2,221.7 928.1,221.5 934,221.4 936.1,221.5 938.2,221.7 940.3,221.9 942.4,222.1 944.5,222.3 946.6,222.6 948.7,222.8 950.8,223.1 952.9,223.4 955,223.7 957.1,223.9 959.2,224.2 961.3,224.4 963.3,224.6 965.4,224.8 967.5,225 969.6,225.1 971.7,225.2 973.8,225.3 975.9,225.3"/>
<polyline points="539.6,173.2 543.8,173.1 548,173 552.2,172.8 556.3,172.5 560.5,172 564.7,171.6 568.9,171 573.1,170.4 577.3,169.7 581.5,169 588.7,171.1 596,173.9 603.2,176.7 610.5,179.3 617.7,181.8 625,184 632.2,185.8 639.5,187.2 646.7,188.1 653.9,188.3 664.2,186.3 674.5,181.2 684.7,174.4 695,167.1 705.2,160 715.5,154 725.7,149.9 736,147.8 746.2,146.8 756.5,146.5 768.3,146.8 780.1,147.7 792,149.1 803.8,151.1 815.7,154.4 827.5,159.2 839.3,164.2 851.2,168.6 863,171.9 874.9,173.2 880.8,173.1 886.7,172.9 892.6,172.7 898.5,172.3 904.4,171.9 910.4,171.5 916.3,171.2 922.2,170.8 928.1,170.5 934,170.3 936.1,170.5 938.2,170.7 940.3,171 942.4,171.3 944.5,171.7 946.6,172 948.7,172.3 950.8,172.6 952.9,172.9 955,173.2 957.1,173.4 959.2,173.6 961.3,173.8 963.3,174 965.4,174.1 967.5,174.3 969.6,174.4 971.7,174.4 973.8,174.5 975.9,174.5"/>
<polyline points="539.6,159 543.8,159 548,158.9 552.2,158.7 556.3,158.4 560.5,158 564.7,159.2 568.9,161.3 573.1,163.5 577.3,165.8 581.5,168 588.7,167.1 596,165.8 603.2,165.6 610.5,166.5 617.7,167.9 625,169.3 632.2,170.5 639.5,171.4 646.7,171.9 653.9,172.1 664.2,170.1 674.5,164.9 684.7,158.2 695,151.2 705.2,148.8 715.5,148.1 725.7,147.5 736,147 746.2,146.6 756.5,146.5 768.3,146.8 780.1,147.6 792,148.8 803.8,150.3 815.7,151.9 827.5,153.5 839.3,155.2 851.2,157 863,158.4 874.9,159 880.8,159.1 886.7,159.4 892.6,160.2 898.5,161.5 904.4,163.1 910.4,164.7 916.3,166.2 922.2,167.5 928.1,168.4 934,168.8 936.1,169.1 938.2,169.3 940.3,169.5 942.4,169.6 944.5,169.7 946.6,169.8 948.7,169.9 950.8,169.9 952.9,169.9 955,170 957.1,170 959.2,170 961.3,169.9 963.3,169.9 965.4,169.9 967.5,169.9 969.6,169.9 971.7,169.8 973.8,169.8 975.9,169.8"/>
<polyline points="539.6,155.2 543.8,155.2 548,155.3 552.2,155.6 556.3,156.1 560.5,157.4 564.7,157.5 568.9,157 573.1,156.3 577.3,156.2 581.5,156.6 588.7,157.4 596,158.2 603.2,158 610.5,156.8 617.7,155.1 625,153.4 632.2,152.1 639.5,151.1 646.7,150.6 653.9,150.4 664.2,150.3 674.5,150 684.7,149.6 695,148.7 705.2,143.4 715.5,139.1 725.7,135.8 736,131.4 746.2,127.4 756.5,125.8 768.3,127.7 780.1,132.7 792,138.8 803.8,144.7 815.7,149.1 827.5,151.6 839.3,153.2 851.2,154.3 863,155 874.9,155.2 880.8,155.5 886.7,156.3 892.6,157 898.5,157.4 904.4,157.7 910.4,158 916.3,158.2 922.2,158.3 928.1,158.3 934,158.3 936.1,157.9 938.2,157.7 940.3,157.6 942.4,157.8 944.5,158.1 946.6,158.6 948.7,159 950.8,159.5 952.9,160 955,160.5 957.1,161 959.2,161.4 961.3,161.8 963.3,162.2 965.4,162.5 967.5,162.7 969.6,163 971.7,163.1 973.8,163.2 975.9,163.2"/>
<polyline points="539.6,151.2 543.8,151.4 548,152.1 552.2,153 556.3,154 560.5,154.7 564.7,155.1 568.9,155.4 573.1,155.8 577.3,155.6 581.5,154.8 588.7,153.6 596,152 603.2,150.6 610.5,149.4 617.7,148.2 625,147 632.2,145.6 639.5,144.3 646.7,143.2 653.9,142.8 664.2,142.7 674.5,142.6 684.7,142.3 695,141.8 705.2,140.9 715.5,137 725.7,131.6 736,128 746.2,126.3 756.5,125.8 768.3,125.9 780.1,126.5 792,129.3 803.8,134.2 815.7,139.1 827.5,143.4 839.3,146.8 851.2,149.3 863,150.8 874.9,151.2 880.8,151.3 886.7,151.5 892.6,151.8 898.5,152.2 904.4,152.5 910.4,152.6 916.3,152.6 922.2,152.6 928.1,152.6 934,152.6 936.1,153 938.2,153.1 940.3,153 942.4,152.6 944.5,152.1 946.6,151.4 948.7,150.7 950.8,150 952.9,149.3 955,148.7 957.1,148.1 959.2,147.7 961.3,147.3 963.3,147 965.4,146.8 967.5,146.7 969.6,146.6 971.7,146.5 973.8,146.5 975.9,146.5"/>
<polyline points="539.6,135.1 543.8,135.1 548,135.4 552.2,135.8 556.3,136.3 560.5,136.9 564.7,137.6 568.9,138.3 573.1,139 577.3,139.6 581.5,140.1 588.7,140.2 596,139.3 603.2,137.6 610.5,135.6 617.7,133.8 625,132.5 632.2,132.1 639.5,132.3 646.7,132.8 653.9,133 664.2,132.8 674.5,132 684.7,130.8 695,129 705.2,126.9 715.5,124.3 725.7,121.3 736,120 746.2,119.8 756.5,119.9 768.3,120.3 780.1,122.3 792,125.1 803.8,126.3 815.7,127.5 827.5,129.5 839.3,131.6 851.2,133.4 863,134.6 874.9,135.1 880.8,135.5 886.7,136.4 892.6,137.7 898.5,139.1 904.4,140.4 910.4,141.6 916.3,142.7 922.2,143.4 928.1,143.9 934,144 936.1,144 938.2,143.9 940.3,143.8 942.4,143.8 944.5,143.8 946.6,143.8 948.7,143.8 950.8,143.7 952.9,143.7 955,143.6 957.1,143.4 959.2,143.2 961.3,143 963.3,142.7 965.4,142.4 967.5,142.2 969.6,141.9 971.7,141.7 973.8,141.6 975.9,141.6"/>
<polyline points="539.6,129.1 543.8,129.2 548,129.2 552.2,129.3 556.3,129.3 560.5,129.2 564.7,129 568.9,128.8 573.1,128.5 577.3,128.2 581.5,127.7 588.7,127.2 596,126.7 603.2,126.2 610.5,125.7 617.7,125.2 625,124.7 632.2,124.1 639.5,123.5 646.7,123 653.9,122.8 664.2,122.9 674.5,122.9 684.7,123 695,122.9 705.2,122.7 715.5,122.2 725.7,121.1 736,118.2 746.2,115.3 756.5,114.4 768.3,115.7 780.1,119.4 792,121.5 803.8,123.7 815.7,125.8 827.5,127.1 839.3,128 851.2,128.6 863,129 874.9,129.1 880.8,128.9 886.7,128.5 892.6,128.1 898.5,128 904.4,128.2 910.4,128.5 916.3,129 922.2,129.5 928.1,129.8 934,129.9 936.1,129.4 938.2,128.9 940.3,128.3 942.4,127.7 944.5,127 946.6,126.3 948.7,125.6 950.8,124.9 952.9,124.2 955,123.5 957.1,122.8 959.2,122.2 961.3,121.6 963.3,121 965.4,120.5 967.5,120.1 969.6,119.7 971.7,119.4 973.8,119.2 975.9,119.2"/>
<polyline points="539.6,126.8 543.8,126.7 548,126.3 552.2,125.9 556.3,125.3 560.5,124.6 564.7,123.9 568.9,123.1 573.1,122.3 577.3,121.5 581.5,120.7 588.7,119.9 596,119.2 603.2,118.4 610.5,117.6 617.7,117 625,116.7 632.2,116.6 639.5,116.8 646.7,117 653.9,117 664.2,117 674.5,117 684.7,117.1 695,117.2 705.2,117.5 715.5,117.8 725.7,118 736,117.2 746.2,114.8 756.5,113.4 768.3,115.5 780.1,117.8 792,119.6 803.8,121.2 815.7,122.8 827.5,124.2 839.3,125.3 851.2,126.1 863,126.6 874.9,126.8 880.8,126.4 886.7,125.2 892.6,123.5 898.5,121.3 904.4,118.9 910.4,116.3 916.3,113.8 922.2,111.3 928.1,109 934,107.4 936.1,107.4 938.2,107.5 940.3,107.7 942.4,107.9 944.5,108.2 946.6,108.4 948.7,108.7 950.8,109 952.9,109.3 955,109.7 957.1,110 959.2,110.3 961.3,110.6 963.3,110.9 965.4,111.2 967.5,111.4 969.6,111.7 971.7,111.8 973.8,111.9 975.9,111.9"/>
<polyline points="539.6,103.1 543.8,103.3 548,103.8 552.2,104.3 556.3,104.9 560.5,105.4 564.7,105.9 568.9,106.4 573.1,106.8 577.3,107.2 581.5,107.6 588.7,107.9 596,108.4 603.2,109.1 610.5,109.7 617.7,110.1 625,110 632.2,109.5 639.5,108.8 646.7,108.3 653.9,108.1 664.2,108.2 674.5,108.4 684.7,108.8 695,109.3 705.2,109.9 715.5,110.6 725.7,111.2 736,112.2 746.2,112.7 756.5,112.1 768.3,112.8 780.1,112.5 792,111.4 803.8,109.7 815.7,107.5 827.5,105.7 839.3,104.4 851.2,103.6 863,103.2 874.9,103.1 880.8,103.2 886.7,103.6 892.6,103.8 898.5,103.8 904.4,103.6 910.4,103.4 916.3,103.3 922.2,103.8 928.1,104.9 934,106.2 936.1,105.9 938.2,105.6 940.3,105.2 942.4,104.9 944.5,104.5 946.6,104.2 948.7,103.9 950.8,103.7 952.9,103.4 955,103.3 957.1,103.1 959.2,103 961.3,102.9 963.3,102.9 965.4,102.9 967.5,103 969.6,103 971.7,103.1 973.8,103.1 975.9,103.1"/>
<polyline points="539.6,98.5 543.8,98.2 548,97.3 552.2,96.1 556.3,94.7 560.5,93.2 564.7,91.5 568.9,92.3 573.1,93.1 577.3,94.1 581.5,95 588.7,96.1 596,97.1 603.2,97.9 610.5,98.5 617.7,99 625,99.3 632.2,99.4 639.5,99.4 646.7,99.3 653.9,99.3 664.2,99.7 674.5,101 684.7,102.8 695,105 705.2,107.1 715.5,109.2 725.7,110.9 736,111.7 746.2,112 756.5,112.1 768.3,112.5 780.1,111.9 792,110.7 803.8,109 815.7,107.3 827.5,105.1 839.3,102.7 851.2,100.6 863,99.1 874.9,98.5 880.8,98.2 886.7,97.3 892.6,96.2 898.5,95.2 904.4,94.5 910.4,94.4 916.3,94.9 922.2,95.3 928.1,95.3 934,95.1 936.1,95 938.2,95 940.3,95.4 942.4,95.8 944.5,96.2 946.6,96.6 948.7,97 950.8,97.4 952.9,97.8 955,98.2 957.1,98.5 959.2,98.8 961.3,99.1 963.3,99.3 965.4,99.5 967.5,99.6 969.6,99.7 971.7,99.8 973.8,99.8 975.9,99.8"/>
<polyline points="539.6,88.4 543.8,88.5 548,88.8 552.2,89.3 556.3,89.9 560.5,90.6 564.7,91.4 568.9,89.9 573.1,88.2 577.3,86.6 581.5,85 588.7,83.4 596,82.1 603.2,81.5 610.5,80.8 617.7,79.9 625,78.9 632.2,77.8 639.5,76.8 646.7,76.1 653.9,75.8 664.2,76.7 674.5,78.6 684.7,81.2 695,84.1 705.2,87.3 715.5,90.8 725.7,94.3 736,97.7 746.2,100.9 756.5,103.1 768.3,101.4 780.1,100.2 792,98.8 803.8,97.1 815.7,95.5 827.5,93.7 839.3,92 851.2,90.3 863,88.9 874.9,88.4 880.8,88.6 886.7,89.1 892.6,89.9 898.5,90.9 904.4,92 910.4,92.8 916.3,93.2 922.2,93.6 928.1,94 934,94.3 936.1,94.7 938.2,94.8 940.3,94.7 942.4,94.6 944.5,94.6 946.6,94.5 948.7,94.5 950.8,94.5 952.9,94.5 955,94.5 957.1,94.5 959.2,94.5 961.3,94.6 963.3,94.6 965.4,94.6 967.5,94.7 969.6,94.7 971.7,94.7 973.8,94.7 975.9,94.7"/>
<polyline points="539.6,82.8 543.8,82.7 548,82.6 552.2,82.4 556.3,82.2 560.5,81.9 564.7,81.7 568.9,81.6 573.1,81.5 577.3,81.4 581.5,81.4 588.7,81.4 596,80.7 603.2,79.1 610.5,77.4 617.7,75.7 625,74.2 632.2,72.8 639.5,71.6 646.7,70.6 653.9,70.3 664.2,71.7 674.5,74.8 684.7,78.2 695,81.7 705.2,85.3 715.5,88.9 725.7,92.5 736,96.1 746.2,99.3 756.5,100.7 768.3,97.9 780.1,91.2 792,84.5 803.8,77.9 815.7,72.4 827.5,71.5 839.3,75 851.2,78.9 863,81.8 874.9,82.8 880.8,82.8 886.7,82.8 892.6,82.9 898.5,82.9 904.4,82.9 910.4,82.8 916.3,82.6 922.2,82.4 928.1,82.2 934,82.1 936.1,82.3 938.2,82.5 940.3,82.6 942.4,82.7 944.5,82.7 946.6,82.7 948.7,82.6 950.8,82.6 952.9,82.5 955,82.4 957.1,82.2 959.2,82.1 961.3,81.9 963.3,81.8 965.4,81.7 967.5,81.5 969.6,81.4 971.7,81.4 973.8,81.3 975.9,81.3"/>
<polyline points="539.6,70 543.8,70 548,69.8 552.2,69.6 556.3,69.2 560.5,68.9 564.7,68.6 568.9,68.3 573.1,68.2 577.3,68.1 581.5,68.1 588.7,68 596,67.8 603.2,67.5 610.5,67.2 617.7,67.1 625,67.5 632.2,68.2 639.5,69 646.7,69.4 653.9,69.3 664.2,69.6 674.5,68.4 684.7,68.4 695,71.2 705.2,76.2 715.5,82.2 725.7,88.4 736,94.4 746.2,99.2 756.5,100.7 768.3,97.4 780.1,90.4 792,81.7 803.8,72.9 815.7,65 827.5,63.7 839.3,65.2 851.2,67.2 863,69.2 874.9,70 880.8,70 886.7,69.9 892.6,69.7 898.5,69.5 904.4,69.1 910.4,68.8 916.3,68.4 922.2,68.1 928.1,67.9 934,67.8 936.1,67.8 938.2,67.8 940.3,67.8 942.4,67.9 944.5,67.9 946.6,68 948.7,68.1 950.8,68.2 952.9,68.3 955,68.5 957.1,68.6 959.2,68.8 961.3,68.9 963.3,69.1 965.4,69.2 967.5,69.3 969.6,69.4 971.7,69.5 973.8,69.5 975.9,69.5"/>
<polyline points="539.6,64.4 543.8,64.5 548,64.5 552.2,64.6 556.3,64.7 560.5,64.8 564.7,64.9 568.9,65 573.1,65 577.3,65 581.5,65 588.7,65 596,65 603.2,65.3 610.5,65.6 617.7,66.2 625,66.7 632.2,67 639.5,67.5 646.7,68.1 653.9,68.7 664.2,66.7 674.5,64.9 684.7,63.4 695,62.1 705.2,60.8 715.5,59.5 725.7,58.1"/>
<polyline points="792,58.3 803.8,60.6 815.7,63.2 827.5,62.5 839.3,60.2 851.2,62.3 863,63.9 874.9,64.4 880.8,64.4 886.7,64.2 892.6,63.9 898.5,63.6 904.4,63.1 910.4,62.6 916.3,62.1 922.2,61.5 928.1,61 934,60.7 936.1,60.5 938.2,60.3 940.3,60.2 942.4,60 944.5,60 946.6,60 948.7,60 950.8,59.9 952.9,59.9 955,59.9 957.1,59.8 959.2,59.8 961.3,59.8 963.3,59.7 965.4,59.7 967.5,59.7 969.6,59.7 971.7,59.6 973.8,59.6 975.9,59.6"/>
<polyline points="539.6,61.3 543.8,61.3 548,61.2 552.2,61.1 556.3,60.9 560.5,60.6 564.7,60.2 568.9,59.7 573.1,59.2 577.3,58.5 581.5,57.7 588.7,57.1 596,57.1 603.2,57.7 610.5,58.4 617.7,59.1 625,59.7 632.2,60.2 639.5,60.8 646.7,61.2 653.9,61.4 664.2,61.3 674.5,61.2 684.7,60.6 695,58.7"/>
<polyline points="792,58.2 803.8,59.9 815.7,60.9 827.5,57.8 839.3,57.9 851.2,59.8 863,61 874.9,61.3 880.8,61.3 886.7,61 892.6,60.7 898.5,60.4 904.4,60 910.4,59.7 916.3,59.6 922.2,59.6 928.1,59.8 934,60 936.1,60 938.2,60 940.3,60 942.4,60 944.5,59.8 946.6,59.6 948.7,59.4 950.8,59.2 952.9,59 955,58.9 957.1,58.7 959.2,58.5 961.3,58.4 963.3,58.3 965.4,58.1 967.5,58 969.6,58 971.7,57.9 973.8,57.9 975.9,57.9"/>
<polyline points="827.5,57.5 839.3,57.9"/>
</g></g>
<path class="x" d="M725.7 58.1L733.7 57M792 58.3L783 57M695 58.7L702.2 57M792 58.2L784.2 57M827.5 57.5L825.3 57M839.3 57.9L841.6 57"/>
<rect x="539.6" y="57.0" width="436.3" height="323.4" fill="none" stroke="#222" stroke-width="1.3"/>
<path d="M539.6 348.1h3.8M975.9 348.1h-3.8M539.6 315.7h6.8M975.9 315.7h-6.8M539.6 283.4h3.8M975.9 283.4h-3.8M539.6 251.0h6.8M975.9 251.0h-6.8M539.6 218.7h3.8M975.9 218.7h-3.8M539.6 186.4h6.8M975.9 186.4h-6.8M539.6 154.0h3.8M975.9 154.0h-3.8M539.6 121.7h6.8M975.9 121.7h-6.8M539.6 89.3h3.8M975.9 89.3h-3.8M586.7 380.4v-3.8M586.7 57.0v3.8M633.8 380.4v-6.8M633.8 57.0v6.8M681.0 380.4v-3.8M681.0 57.0v3.8M728.1 380.4v-6.8M728.1 57.0v6.8M775.2 380.4v-3.8M775.2 57.0v3.8M822.3 380.4v-6.8M822.3 57.0v6.8M869.4 380.4v-3.8M869.4 57.0v3.8M916.6 380.4v-6.8M916.6 57.0v6.8M963.7 380.4v-3.8M963.7 57.0v3.8" stroke="#222" stroke-width="1" fill="none"/>
<rect x="83.3" y="473.0" width="436.7" height="12.1" fill="#6dcff6"/>
<g clip-path="url(#cpc)"><g class="b">
<polyline points="83.3,569.3 87.5,569.3 91.7,569.4 95.9,569.6 100.1,569.8 104.2,570.2 108.4,570.7 112.6,571.4 116.8,572.3 121,573.5 125.2,574.9 132.4,577.3 139.7,580.3 147,583.5 154.2,586.6 161.5,589.3 168.7,591.6 176,593.5 183.2,594.9 190.5,595.8 197.8,596.1 208,600.3 218.3,610.1 228.5,622.3 238.8,635.9 249.1,650.3 259.3,665.2 269.6,680.5 279.8,696.1 290.1,711.8 300.4,727.7 312.2,709.4 324.1,691.2 335.9,673.2 347.8,655.6 359.6,638.5 371.5,622.1 383.3,606.5 395.2,592.1 407,578.9 418.9,569.3 424.8,569.2 430.7,569.2 436.6,569.1 442.6,569 448.5,568.8 454.4,568.7 460.3,568.6 466.3,568.5 472.2,568.4 478.1,568.4 480.2,568.5 482.3,568.8 484.4,569.2 486.5,569.7 488.6,570.3 490.7,570.8 492.8,571.3 494.9,571.8 497,572.3 499.1,572.7 501.1,573.1 503.2,573.5 505.3,573.8 507.4,574.1 509.5,574.4 511.6,574.6 513.7,574.7 515.8,574.9 517.9,574.9 520,574.9"/>
<polyline points="83.3,569.3 87.5,569.2 91.7,568.9 95.9,568.4 100.1,567.8 104.2,567 108.4,566 112.6,564.8 116.8,563.9 121,564.4 125.2,565.5 132.4,569 139.7,573.6 147,578.1 154.2,582.4 161.5,586.2 168.7,589.6 176,592.4 183.2,594.4 190.5,595.6 197.8,596.1 208,600.3 218.3,610.1 228.5,622.3 238.8,635.9 249.1,650.3 259.3,665.2 269.6,680.5 279.8,696.1 290.1,711.8 300.4,727.7 312.2,709.4 324.1,691.2 335.9,673.2 347.8,655.6 359.6,638.5 371.5,622.1 383.3,606.5 395.2,592.1 407,578.9 418.9,569.3 424.8,569.2 430.7,568.8 436.6,568.3 442.6,567.7 448.5,566.9 454.4,566 460.3,565.1 466.3,564.3 472.2,563.6 478.1,563 480.2,563 482.3,563 484.4,563.1 486.5,563.3 488.6,563.5 490.7,563.7 492.8,563.9 494.9,564.1 497,564.3 499.1,564.5 501.1,564.7 503.2,564.8 505.3,565 507.4,565.1 509.5,565.2 511.6,565.3 513.7,565.4 515.8,565.5 517.9,565.5 520,565.5"/>
<polyline points="83.3,564.3 87.5,564.3 91.7,564.2 95.9,564.1 100.1,563.9 104.2,563.8 108.4,563.7 112.6,563.7 116.8,563.5 121,562 125.2,560.4 132.4,557.4 139.7,555.3 147,555.1 154.2,556 161.5,557.2 168.7,558.4 176,559.4 183.2,560.2 190.5,560.6 197.8,560.8 208,557.3 218.3,549.8 228.5,541.3 238.8,533 249.1,525.3 259.3,518.5 269.6,512.9 279.8,509 290.1,506.8 300.4,506.1 312.2,507.2 324.1,510.1 335.9,514.5 347.8,519.8 359.6,525.8 371.5,532.2 383.3,539.3 395.2,547.2 407,556.1 418.9,564.3 424.8,564.3 430.7,564.1 436.6,563.8 442.6,563.5 448.5,563.1 454.4,562.8 460.3,562.6 466.3,562.5 472.2,562.7 478.1,563 480.2,563 482.3,562.9 484.4,562.7 486.5,562.4 488.6,562.2 490.7,561.9 492.8,561.7 494.9,561.4 497,561.2 499.1,561.1 501.1,560.9 503.2,560.8 505.3,560.7 507.4,560.6 509.5,560.6 511.6,560.5 513.7,560.5 515.8,560.5 517.9,560.4 520,560.4"/>
<polyline points="83.3,564.3 87.5,564.3 91.7,564 95.9,563.6 100.1,563 104.2,562.3 108.4,561.4 112.6,560.3 116.8,559.1 121,557.8 125.2,556.3 132.4,554.7 139.7,553.7 147,553.7 154.2,554.5 161.5,555.8 168.7,557.3 176,558.7 183.2,559.8 190.5,560.5 197.8,560.8 208,557.3 218.3,549.8 228.5,541.3 238.8,533 249.1,525.3 259.3,518.5 269.6,512.9 279.8,509 290.1,506.8 300.4,506.1 312.2,507.2 324.1,510.1 335.9,514.5 347.8,519.8 359.6,525.8 371.5,532.2 383.3,539.3 395.2,547.2 407,556.1 418.9,564.3 424.8,564.2 430.7,563.7 436.6,562.9 442.6,561.8 448.5,560.4 454.4,558.8 460.3,557 466.3,555.2 472.2,553.7 478.1,553.1 480.2,553.1 482.3,553.2 484.4,553.3 486.5,553.5 488.6,553.7 490.7,553.9 492.8,554.2 494.9,554.4 497,554.7 499.1,554.9 501.1,555.2 503.2,555.4 505.3,555.6 507.4,555.8 509.5,556 511.6,556.1 513.7,556.2 515.8,556.3 517.9,556.3 520,556.3"/>
<polyline points="83.3,518.1 87.5,518.5 91.7,519.9 95.9,521.8 100.1,524.2 104.2,526.9 108.4,529.8 112.6,532.7 116.8,535.6 121,538.2 125.2,540.3 132.4,541.5 139.7,540.9 147,538.3 154.2,534.7 161.5,530.9 168.7,527.3 176,524 183.2,521.3 190.5,519.4 197.8,518.8 208,518.5 218.3,517.9 228.5,516.8 238.8,515.4 249.1,513.6 259.3,511.7 269.6,509.7 279.8,507.9 290.1,506.6 300.4,506.1 312.2,506.5 324.1,507.4 335.9,508.7 347.8,510.4 359.6,512.3 371.5,514.1 383.3,515.7 395.2,517 407,517.8 418.9,518.1 424.8,519 430.7,521.2 436.6,524.1 442.6,527.2 448.5,530.4 454.4,533.6 460.3,536.6 466.3,539.3 472.2,541.3 478.1,542.1 480.2,542.1 482.3,541.9 484.4,541.7 486.5,541.5 488.6,541.3 490.7,541 492.8,540.8 494.9,540.7 497,540.5 499.1,540.4 501.1,540.3 503.2,540.3 505.3,540.3 507.4,540.3 509.5,540.3 511.6,540.3 513.7,540.3 515.8,540.3 517.9,540.3 520,540.3"/>
<polyline points="83.3,509.1 87.5,509.2 91.7,509.5 95.9,510 100.1,510.6 104.2,511.3 108.4,512.2 112.6,513.1 116.8,514 121,514.8 125.2,515.6 132.4,515.8 139.7,515 147,513.3 154.2,510.8 161.5,507.9 168.7,505 176,502.4 183.2,500.3 190.5,498.9 197.8,498.4 208,498.4 218.3,498.5 228.5,498.6 238.8,498.7 249.1,498.7 259.3,498.5 269.6,497.9 279.8,496.9 290.1,495.8 300.4,495.2 312.2,495.8 324.1,497.1 335.9,498.6 347.8,500.7 359.6,502.9 371.5,504.9 383.3,506.7 395.2,508 407,508.8 418.9,509.1 424.8,509.3 430.7,509.9 436.6,510.7 442.6,511.8 448.5,513 454.4,514.2 460.3,515.3 466.3,516.2 472.2,516.8 478.1,517 480.2,517 482.3,517 484.4,516.9 486.5,516.8 488.6,516.8 490.7,516.7 492.8,516.5 494.9,516.4 497,516.3 499.1,516.2 501.1,516.1 503.2,516 505.3,515.9 507.4,515.8 509.5,515.8 511.6,515.7 513.7,515.6 515.8,515.6 517.9,515.6 520,515.6"/>
<polyline points="83.3,504.3 87.5,504.2 91.7,504.2 95.9,504.1 100.1,503.9 104.2,503.7 108.4,503.4 112.6,503.2 116.8,502.8 121,502.5 125.2,502.1 132.4,501.7 139.7,501.3 147,500.8 154.2,500.3 161.5,499.8 168.7,499.3 176,498.9 183.2,498.6 190.5,498.4 197.8,498.4 208,498.4 218.3,498.5 228.5,498.6 238.8,498.7 249.1,498.7 259.3,498.5 269.6,497.9 279.8,496.9 290.1,495.8 300.4,495.2 312.2,495.8 324.1,497.1 335.9,498.5 347.8,499.8 359.6,501 371.5,502.1 383.3,503 395.2,503.7 407,504.1 418.9,504.3 424.8,504.7 430.7,505.8 436.6,507.5 442.6,509.4 448.5,511.4 454.4,513.2 460.3,514.8 466.3,516 472.2,516.7 478.1,517 480.2,516.9 482.3,516.8 484.4,516.5 486.5,516.1 488.6,515.6 490.7,515 492.8,514.3 494.9,513.5 497,512.6 499.1,511.6 501.1,510.6 503.2,509.5 505.3,508.4 507.4,507.3 509.5,506.2 511.6,505.1 513.7,504 515.8,503.1 517.9,502.4 520,502.1"/>
<polyline points="83.3,504.3 87.5,504.1 91.7,503.5 95.9,502.8 100.1,501.9 104.2,501.1 108.4,500.2 112.6,499.4 116.8,498.5 121,497.6 125.2,496.8 132.4,496 139.7,495.3 147,494.8 154.2,494.6 161.5,494.8 168.7,495.3 176,496.2 183.2,497.2 190.5,498 197.8,498.4 208,498.3 218.3,498.1 228.5,497.8 238.8,497.4 249.1,496.9 259.3,496.4 269.6,495.9 279.8,495.6 290.1,495.3 300.4,495.2 312.2,495.7 324.1,496.9 335.9,498.5 347.8,499.8 359.6,501 371.5,502.1 383.3,503 395.2,503.7 407,504.1 418.9,504.3 424.8,503.4 430.7,501.4 436.6,498.8 442.6,496.1 448.5,493.5 454.4,491 460.3,489 466.3,487.4 472.2,486.3 478.1,486 480.2,486 482.3,486.1 484.4,486.2 486.5,486.5 488.6,486.8 490.7,487.1 492.8,487.6 494.9,488.1 497,488.6 499.1,489.3 501.1,490 503.2,490.8 505.3,491.6 507.4,492.4 509.5,493.3 511.6,494.2 513.7,495.1 515.8,495.9 517.9,496.6 520,496.8"/>
<polyline points="83.3,472.2 87.5,471.9 91.7,471.1 95.9,469.8 100.1,468.1 104.2,466.1 108.4,463.9 112.6,461.6 116.8,459.3 121,457.2 125.2,455.7 132.4,455 139.7,455.5 147,456.6 154.2,458 161.5,459.3 168.7,460.4 176,461.2 183.2,461.7 190.5,462 197.8,462.1 208,462 218.3,461.9 228.5,461.8 238.8,461.7 249.1,461.8 259.3,462.2 269.6,463.1 279.8,464.5 290.1,465.9 300.4,466.5 312.2,466.7 324.1,467 335.9,467.6 347.8,468.3 359.6,469.2 371.5,470.1 383.3,470.9 395.2,471.6 407,472 418.9,472.2 424.8,471.6 430.7,470.1 436.6,467.7 442.6,464.8 448.5,461.5 454.4,457.9 460.3,454.7 466.3,455.5 472.2,456 478.1,456.2 480.2,456.1 482.3,456.1 484.4,455.9 486.5,455.8 488.6,455.5 490.7,455.3 492.8,455 494.9,454.6 497,454.3 499.1,453.8 501.1,453.8 503.2,454.2 505.3,454.5 507.4,454.8 509.5,455.1 511.6,455.3 513.7,455.5 515.8,455.6 517.9,455.7 520,455.7"/>
<polyline points="83.3,444 87.5,444.5 91.7,445.6 95.9,446.7 100.1,447.7 104.2,448.6 108.4,449.3 112.6,449.8 116.8,450.2 121,450.4 125.2,450.4 132.4,450.2 139.7,449.9 147,450.6 154.2,452.3 161.5,454.5 168.7,456.7 176,458.8 183.2,460.5 190.5,461.7 197.8,462.1 208,462 218.3,461.9 228.5,461.8 238.8,461.7 249.1,461.8 259.3,462.2 269.6,463.1 279.8,464.5 290.1,465.9 300.4,466.5 312.2,465.1 324.1,461.4 335.9,456.4 347.8,453.3 359.6,450.9 371.5,448.4 383.3,445.7 395.2,443.4 407,443.6 418.9,444 424.8,445 430.7,446.8 436.6,448.7 442.6,450.5 448.5,452.1 454.4,453.5 460.3,454.2 466.3,450.5 472.2,451.2 478.1,451.5 480.2,451.5 482.3,451.5 484.4,451.6 486.5,451.7 488.6,451.8 490.7,452 492.8,452.3 494.9,452.7 497,453.1 499.1,453.5 501.1,453.4 503.2,453 505.3,452.5 507.4,452 509.5,451.6 511.6,451.2 513.7,450.9 515.8,450.6 517.9,450.5 520,450.4"/>
<polyline points="83.3,441 87.5,441.1 91.7,441.4 95.9,441.8 100.1,442.5 104.2,443.2 108.4,444 112.6,444.7 116.8,445.4 121,445.8 125.2,445.6 132.4,444.7 139.7,445.3 147,444.9 154.2,443.2 161.5,440.9 168.7,438.2 176,435.4 183.2,433 190.5,431.9 197.8,431.6 208,433 218.3,436.1 228.5,439.9 238.8,445.2 249.1,450.6 259.3,455.5 269.6,459.9 279.8,463.4 290.1,465.7 300.4,466.5 312.2,465.1 324.1,461.4 335.9,456.4 347.8,452 359.6,449.4 371.5,446.9 383.3,444.5 395.2,442.6 407,441.6 418.9,441 424.8,441.2 430.7,442 436.6,443.2 442.6,444.7 448.5,446.3 454.4,447.9 460.3,449.3 466.3,450.4 472.2,446.6 478.1,442.8 480.2,443.7 482.3,444.6 484.4,445.3 486.5,446 488.6,446.6 490.7,447 492.8,447.2 494.9,447.4 497,447.4 499.1,447.4 501.1,447.3 503.2,447.1 505.3,446.9 507.4,446.7 509.5,446.5 511.6,446.2 513.7,446 515.8,445.8 517.9,445.6 520,445.6"/>
<polyline points="83.3,440.8 87.5,440.8 91.7,441 95.9,441.2 100.1,441.4 104.2,441.8 108.4,442.2 112.6,442.6 116.8,443.1 121,443.6 125.2,444.1 132.4,444.7 139.7,443.1 147,441.2 154.2,439.3 161.5,437.4 168.7,435.7 176,434.2 183.2,432.9 190.5,431.8 197.8,431.6 208,433 218.3,436.1 228.5,439.9 238.8,444 249.1,448 259.3,451.6 269.6,454.6 279.8,456.6 290.1,457.6 300.4,457.9 312.2,457.6 324.1,456.7 335.9,455.2 347.8,450.9 359.6,445.4 371.5,440.3 383.3,440.1 395.2,442.2 407,441.2 418.9,440.8 424.8,440.8 430.7,440.8 436.6,440.8 442.6,440.8 448.5,440.8 454.4,440.8 460.3,440.8 466.3,440.8 472.2,440.8 478.1,442.8 480.2,441.8 482.3,440.9 484.4,440.9 486.5,441 488.6,441.1 490.7,441.2 492.8,441.4 494.9,441.5 497,441.7 499.1,441.9 501.1,442.2 503.2,442.4 505.3,442.6 507.4,442.9 509.5,443.2 511.6,443.4 513.7,443.7 515.8,443.9 517.9,444 520,444.1"/>
<polyline points="83.3,439.5 87.5,439.5 91.7,439.4 95.9,439.3 100.1,439.2 104.2,439 108.4,438.8 112.6,438.6 116.8,438.3 121,438.2 125.2,438 132.4,437.6 139.7,436.8 147,435.7 154.2,434.3 161.5,432.9 168.7,431.4 176,430 183.2,429.3 190.5,428.1 197.8,427.7 208,429.8 218.3,434.4 228.5,439.8 238.8,444 249.1,448 259.3,451.6 269.6,454.6 279.8,456.6 290.1,457.6 300.4,457.9 312.2,457.5 324.1,456.2 335.9,454.3 347.8,450.9 359.6,445.4 371.5,440.3 383.3,436.7 395.2,436.6 407,438.6 418.9,439.5 424.8,439.2 430.7,438.4 436.6,437.2 442.6,435.5 448.5,433.6 454.4,431.7 460.3,432.2 466.3,435.4 472.2,439 478.1,440.8 480.2,440.8 482.3,440.9 484.4,439.9 486.5,438.9 488.6,438 490.7,437 492.8,436.1 494.9,435.1 497,434.3 499.1,433.6 501.1,433.7 503.2,434.3 505.3,435 507.4,435.7 509.5,436.3 511.6,436.9 513.7,437.4 515.8,437.7 517.9,437.9 520,438"/>
<polyline points="83.3,439.5 87.5,438.9 91.7,437.5 95.9,435.7 100.1,433.8 104.2,431.9 108.4,430 112.6,428.3 116.8,426.8 121,426.2 125.2,426.4 132.4,427.2 139.7,428.1 147,428.8 154.2,429.3 161.5,429.6 168.7,429.7 176,429.7 183.2,428.9 190.5,428 197.8,427.3 208,426.7 218.3,425.6 228.5,424.4 238.8,423.2 249.1,422.2 259.3,421.5 269.6,420.9 279.8,420.6 290.1,420.4 300.4,420.3 312.2,421.2 324.1,423.5 335.9,426.6 347.8,430.3 359.6,433.9 371.5,437.3 383.3,436.7 395.2,436.6 407,438.6 418.9,439.5 424.8,438.5 430.7,436.7 436.6,434.6 442.6,432.7 448.5,431 454.4,429.5 460.3,428.4 466.3,427.5 472.2,427.1 478.1,426.9 480.2,427 482.3,427.2 484.4,427.5 486.5,428 488.6,428.7 490.7,429.3 492.8,430.1 494.9,430.8 497,431.5 499.1,432 501.1,431.8 503.2,431.1 505.3,430.3 507.4,429.4 509.5,428.7 511.6,427.9 513.7,427.3 515.8,426.8 517.9,426.5 520,426.4"/>
<polyline points="83.3,413.2 87.5,413.4 91.7,413.9 95.9,414.7 100.1,415.7 104.2,416.8 108.4,417.9 112.6,418.9 116.8,419.7 121,420 125.2,421 132.4,421.8 139.7,422.2 147,422.3 154.2,422.5 161.5,423 168.7,423.8 176,424.9 183.2,425.9 190.5,426.8 197.8,427.3 208,426.7 218.3,425.6 228.5,424.4 238.8,423.2 249.1,422.2 259.3,421.5 269.6,420.9 279.8,420.6 290.1,420.4 300.4,420.3 312.2,419.9 324.1,418.6 335.9,416.6 347.8,414.2 359.6,413.2 371.5,417.5 383.3,421.8 395.2,421.7 407,418 418.9,413.2 424.8,413.9 430.7,415.7 436.6,418.2 442.6,421 448.5,424.1 454.4,427.2 460.3,427.9 466.3,425.9 472.2,423.7 478.1,421.5 480.2,422 482.3,422.4 484.4,422.6 486.5,422.7 488.6,422.7 490.7,422.6 492.8,422.5 494.9,422.4 497,422.3 499.1,422.2 501.1,422 503.2,421.9 505.3,421.8 507.4,421.7 509.5,421.5 511.6,421.4 513.7,421.3 515.8,421.2 517.9,421 520,421"/>
<polyline points="83.3,413.2 87.5,413.4 91.7,413.8 95.9,414.4 100.1,415.2 104.2,416 108.4,417 112.6,417.9 116.8,418.9 121,419.7 125.2,418.8 132.4,417.1 139.7,415.1 147,413.2 154.2,411.7 161.5,410.7 168.7,410.5 176,411.5 183.2,413.5 190.5,415.7 197.8,416.6 208,416.7 218.3,416.8 228.5,417 238.8,417.4 249.1,417.9 259.3,418.6 269.6,419.2 279.8,419.8 290.1,420.2 300.4,420.3 312.2,419.9 324.1,418.6 335.9,416.6 347.8,414.2 359.6,413.2 371.5,417.5 383.3,421.8 395.2,421.7 407,418 418.9,413.2 424.8,413.2 430.7,413.1 436.6,413.4 442.6,413.8 448.5,414.4 454.4,415.3 460.3,416.4 466.3,417.8 472.2,419.5 478.1,421.5 480.2,421 482.3,420.4 484.4,419.8 486.5,419.2 488.6,418.6 490.7,417.9 492.8,417.2 494.9,416.5 497,415.8 499.1,415 501.1,414.3 503.2,413.9 505.3,414.7 507.4,415.5 509.5,416.3 511.6,417 513.7,417.6 515.8,418.2 517.9,418.6 520,418.8"/>
<polyline points="83.3,412.8 87.5,412.8 91.7,412.6 95.9,412.3 100.1,411.9 104.2,411.4 108.4,410.8 112.6,410.2 116.8,409.5 121,408.7 125.2,407.8 132.4,406.9 139.7,406.7 147,407.3 154.2,407.9 161.5,408.6 168.7,409.5 176,410.5 183.2,411.3 190.5,411.9 197.8,412.1 208,410 218.3,405.4"/>
<polyline points="359.6,405.6"/>
<polyline points="407,407.9 418.9,412.8 424.8,412.9 430.7,413 436.6,412.6 442.6,412 448.5,411.3 454.4,410.4 460.3,409.3 466.3,408.1 472.2,407 478.1,406.5 480.2,406.6 482.3,406.9 484.4,407.3 486.5,407.9 488.6,408.5 490.7,409.2 492.8,409.9 494.9,410.7 497,411.5 499.1,412.3 501.1,413.1 503.2,413.5 505.3,412.8 507.4,412 509.5,411.2 511.6,410.4 513.7,409.6 515.8,408.9 517.9,408.2 520,407.8"/>
<polyline points="83.3,412.8 87.5,412.8 91.7,412.5 95.9,412.1 100.1,411.5 104.2,410.8 108.4,410 112.6,409.2 116.8,408.3 121,407.4 125.2,406.4 132.4,406.1 139.7,405.7"/>
<polyline points="359.6,405.6"/>
<polyline points="407,407.9 418.9,412.8 424.8,412.5 430.7,411.5 436.6,409.9 442.6,408 448.5,405.7"/>
<polyline points="515.8,405.4 517.9,406.1 520,406.4"/>
</g></g>
<path class="x" d="M218.3 405.4L219 405M359.6 405.6L358.2 405M359.6 405.6L366.7 405M407 407.9L399.4 405M139.7 405.7L143.3 405M359.6 405.6L358.2 405M359.6 405.6L366.7 405M407 407.9L399.4 405M448.5 405.7L450.1 405M515.8 405.4L514.6 405"/>
<rect x="83.3" y="405.0" width="436.7" height="322.7" fill="none" stroke="#222" stroke-width="1.3"/>
<path d="M83.3 695.4h3.8M520.0 695.4h-3.8M83.3 663.2h6.8M520.0 663.2h-6.8M83.3 630.9h3.8M520.0 630.9h-3.8M83.3 598.6h6.8M520.0 598.6h-6.8M83.3 566.4h3.8M520.0 566.4h-3.8M83.3 534.1h6.8M520.0 534.1h-6.8M83.3 501.8h3.8M520.0 501.8h-3.8M83.3 469.5h6.8M520.0 469.5h-6.8M83.3 437.3h3.8M520.0 437.3h-3.8M130.4 727.7v-3.8M130.4 405.0v3.8M177.5 727.7v-6.8M177.5 405.0v6.8M224.7 727.7v-3.8M224.7 405.0v3.8M271.8 727.7v-6.8M271.8 405.0v6.8M318.9 727.7v-3.8M318.9 405.0v3.8M366.0 727.7v-6.8M366.0 405.0v6.8M413.1 727.7v-3.8M413.1 405.0v3.8M460.3 727.7v-6.8M460.3 405.0v6.8M507.4 727.7v-3.8M507.4 405.0v3.8" stroke="#222" stroke-width="1" fill="none"/>
<g clip-path="url(#cpd)"><g class="b">
<polyline points="541.3,630.9 543.4,630.9 545.5,630.9 547.6,630.9 549.7,630.8 551.8,630.8 553.9,630.7 556,630.6 558,630.5 560.1,630.4 562.2,630.3 564.3,630.2 566.4,630.1 568.5,630 570.6,629.9 572.7,629.9 574.8,630 576.9,630.1 579,630.2 581.1,630.5 583.2,630.9 590.4,632.5 597.7,634.8 604.9,637.2 612.2,639.5 619.4,641.5 626.7,643.3 633.9,644.7 641.2,645.8 648.4,646.5 655.7,646.7 665.9,651 676.2,658.7 686.4,667 696.7,675.7 706.9,684.5 717.2,693.4 727.5,702.3 737.7,711.3 748,720.3 758.2,729.3 770.1,718.8 781.9,708.2 793.7,697.7 805.6,687.3 817.4,677 829.3,666.7 841.1,656.7 852.9,646.8 864.8,637.4 876.6,630.9 882.6,630.9 888.5,630.6 894.4,630.1 900.3,629.5 906.2,628.7 912.2,627.9 918.1,627.1 924,626.3 929.9,625.8 935.8,625.6 937.9,625.4 940,625.3 942.1,625.4 944.2,625.7 946.3,625.9 948.4,626.2 950.5,626.6 952.6,626.9 954.7,627.2 956.8,627.4 958.9,627.7 961,627.9 963,628.1 965.1,628.3 967.2,628.5 969.3,628.6 971.4,628.7 973.5,628.8 975.6,628.8 977.7,628.8"/>
<polyline points="541.3,629.8 543.4,629.8 545.5,629.7 547.6,629.6 549.7,629.5 551.8,629.4 553.9,629.2 556,629 558,628.8 560.1,628.5 562.2,628.2 564.3,627.9 566.4,627.6 568.5,627.2 570.6,626.8 572.7,626.4 574.8,626.1 576.9,625.7 579,625.3 581.1,625 583.2,624.9 590.4,626.3 597.7,629.2 604.9,632.3 612.2,635.2 619.4,637.8 626.7,640.1 633.9,641.9 641.2,643.2 648.4,644 655.7,644.2 665.9,648.3 676.2,655.9 686.4,664.4 696.7,673.3 706.9,682.4 717.2,691.6 727.5,701 737.7,710.4 748,719.8 758.2,729.3 770.1,718.4 781.9,707.4 793.7,696.6 805.6,685.8 817.4,675.1 829.3,664.5 841.1,654.2 852.9,644.2 864.8,635 876.6,629.8 882.6,629.7 888.5,629.4 894.4,628.9 900.3,628.2 906.2,627.4 912.2,626.5 918.1,625.5 924,624.6 929.9,624 935.8,623.8 937.9,623.9 940,624.1 942.1,624.2 944.2,624.3 946.3,624.4 948.4,624.5 950.5,624.6 952.6,624.7 954.7,624.9 956.8,625 958.9,625.1 961,625.2 963,625.3 965.1,625.4 967.2,625.5 969.3,625.6 971.4,625.6 973.5,625.7 975.6,625.7 977.7,625.7"/>
<polyline points="541.3,623.5 543.4,623.5 545.5,623.4 547.6,623.4 549.7,623.3 551.8,623.1 553.9,623 556,622.8 558,622.6 560.1,622.3 562.2,622.1 564.3,621.8 566.4,621.5 568.5,621.1 570.6,620.8 572.7,620.4 574.8,619.9 576.9,619.5 579,619 581.1,618.5 583.2,618 590.4,620.1 597.7,622.4 604.9,624.6 612.2,626.8 619.4,628.7 626.7,630.4 633.9,631.8 641.2,632.8 648.4,633.4 655.7,633.6 665.9,629.4 676.2,622 686.4,614.1 696.7,606.2 706.9,598.3 717.2,590.7 727.5,583.2 737.7,576.2 748,569.9 758.2,566.4 770.1,569.5 781.9,574 793.7,578.4 805.6,582.7 817.4,587.5 829.3,593.9 841.1,601.1 852.9,609.1 864.8,617.4 876.6,623.5 882.6,623.4 888.5,623 894.4,622.5 900.3,621.8 906.2,620.8 912.2,619.7 918.1,618.5 924,617.2 929.9,616.1 935.8,615.6 937.9,615.7 940,615.8 942.1,616 944.2,616.3 946.3,616.6 948.4,616.9 950.5,617.2 952.6,617.4 954.7,617.7 956.8,617.9 958.9,618.1 961,618.3 963,618.5 965.1,618.6 967.2,618.8 969.3,618.9 971.4,619 973.5,619 975.6,619.1 977.7,619.1"/>
<polyline points="541.3,616.9 543.4,616.9 545.5,616.9 547.6,616.8 549.7,616.7 551.8,616.6 553.9,616.5 556,616.3 558,616.1 560.1,615.9 562.2,615.7 564.3,615.4 566.4,615.2 568.5,614.9 570.6,614.5 572.7,614.2 574.8,613.8 576.9,613.9 579,615.3 581.1,616.6 583.2,617.8 590.4,617.5 597.7,619.2 604.9,621.4 612.2,623.5 619.4,625.3 626.7,626.7 633.9,627.9 641.2,628.7 648.4,629.2 655.7,629.4 665.9,625.5 676.2,618.3 686.4,610.6 696.7,602.8 706.9,595.1 717.2,587.6 727.5,580.4 737.7,573.7 748,568.3 758.2,565.9 770.1,568.2 781.9,572.6 793.7,577.2 805.6,582 817.4,586.8 829.3,591.4 841.1,597.2 852.9,604.5 864.8,612.1 876.6,616.9 882.6,616.8 888.5,616.5 894.4,616.1 900.3,615.4 906.2,614.7 912.2,613.8 918.1,613.1 924,612.5 929.9,612.2 935.8,612.1 937.9,612.5 940,612.8 942.1,613.1 944.2,613.5 946.3,613.8 948.4,614.1 950.5,614.4 952.6,614.6 954.7,614.8 956.8,615.1 958.9,615.2 961,615.4 963,615.6 965.1,615.7 967.2,615.8 969.3,615.9 971.4,615.9 973.5,616 975.6,616 977.7,616"/>
<polyline points="541.3,593.1 543.4,593.3 545.5,593.8 547.6,594.5 549.7,595.5 551.8,596.6 553.9,597.9 556,599.2 558,600.6 560.1,602 562.2,603.5 564.3,604.9 566.4,606.4 568.5,607.9 570.6,609.4 572.7,610.9 574.8,612.4 576.9,613.4 579,613 581.1,612.6 583.2,612.1 590.4,610.1 597.7,606.4 604.9,601.8 612.2,597 619.4,592.3 626.7,587.7 633.9,583.5 641.2,579.7 648.4,576.7 655.7,575.5 665.9,575.4 676.2,575.2 686.4,574.8 696.7,574.1 706.9,573.3 717.2,572.1 727.5,570.7 737.7,569 748,567.2 758.2,565.9 770.1,568.1 781.9,571.7 793.7,575.7 805.6,579.3 817.4,582.6 829.3,585.7 841.1,589 852.9,591.3 864.8,592.7 876.6,593.1 882.6,593.7 888.5,595.4 894.4,597.6 900.3,600 906.2,602.4 912.2,604.7 918.1,606.8 924,608.6 929.9,610 935.8,610.6 937.9,610.1 940,609.5 942.1,609.2 944.2,609.1 946.3,609.3 948.4,609.6 950.5,609.9 952.6,610.2 954.7,610.5 956.8,610.8 958.9,611.1 961,611.4 963,611.7 965.1,611.9 967.2,612.1 969.3,612.2 971.4,612.3 973.5,612.4 975.6,612.5 977.7,612.5"/>
<polyline points="541.3,590.4 543.4,590.8 545.5,591.3 547.6,592 549.7,592.8 551.8,593.6 553.9,594.6 556,595.7 558,596.8 560.1,598 562.2,599.2 564.3,600.4 566.4,601.6 568.5,602.9 570.6,604.1 572.7,605.3 574.8,606.4 576.9,607.5 579,608.5 581.1,609.4 583.2,610.2 590.4,609.3 597.7,605.2 604.9,600.5 612.2,595.8 619.4,591.1 626.7,586.5 633.9,582.2 641.2,578.4 648.4,575.4 655.7,574.5 665.9,574.4 676.2,574 686.4,573.3 696.7,572.4 706.9,571.2 717.2,569.7 727.5,568.3 737.7,566.8 748,565.1 758.2,564.6 770.1,566.6 781.9,569.6 793.7,573.6 805.6,577.8 817.4,581.7 829.3,584.8 841.1,587.4 852.9,589 864.8,590 876.6,590.4 882.6,591.7 888.5,593.8 894.4,596.1 900.3,598.5 906.2,600.8 912.2,602.8 918.1,604.5 924,605.8 929.9,606.7 935.8,607.1 937.9,607.1 940,607 942.1,606.9 944.2,607.1 946.3,607.4 948.4,607.7 950.5,608 952.6,608.2 954.7,608.5 956.8,608.7 958.9,608.9 961,609.1 963,609.2 965.1,609.3 967.2,609.5 969.3,609.6 971.4,609.6 973.5,609.7 975.6,609.7 977.7,609.7"/>
<polyline points="541.3,590.3 543.4,590 545.5,589.8 547.6,589.6 549.7,589.4 551.8,589.2 553.9,589.1 556,588.9 558,588.7 560.1,588.5 562.2,588.3 564.3,588.1 566.4,587.9 568.5,587.6 570.6,587.3 572.7,587.1 574.8,586.8 576.9,586.4 579,586.1 581.1,585.7 583.2,585.3 590.4,584.5 597.7,583.4 604.9,582.1 612.2,580.7 619.4,579.2 626.7,577.6 633.9,576.2 641.2,574.8 648.4,573.5 655.7,572.5 665.9,572.5 676.2,572.4 686.4,572.1 696.7,571.6 706.9,570.8 717.2,569.7 727.5,567.9 737.7,566.2 748,564.8 758.2,564.6 770.1,565.5 781.9,568.8 793.7,572.4 805.6,576 817.4,580.4 829.3,584.8 841.1,587.2 852.9,589 864.8,590 876.6,590.3 882.6,590.4 888.5,591.8 894.4,593.9 900.3,596.2 906.2,598.6 912.2,600.8 918.1,602.9 924,604.4 929.9,605.1 935.8,605.3 937.9,605.7 940,606.1 942.1,606.1 944.2,605.4 946.3,604.4 948.4,603.2 950.5,601.9 952.6,600.6 954.7,599.2 956.8,597.9 958.9,596.5 961,595.2 963,593.9 965.1,592.6 967.2,591.4 969.3,590.3 971.4,589.4 973.5,588.6 975.6,588.1 977.7,587.9"/>
<polyline points="541.3,586.8 543.4,586.8 545.5,586.7 547.6,586.7 549.7,586.6 551.8,586.5 553.9,586.4 556,586.3 558,586.1 560.1,585.9 562.2,585.7 564.3,585.5 566.4,585.2 568.5,585 570.6,584.7 572.7,584.4 574.8,584.1 576.9,583.7 579,583.4 581.1,583 583.2,582.6 590.4,581.7 597.7,580.5 604.9,579.1 612.2,577.4 619.4,575.5 626.7,573.5 633.9,571.5 641.2,569.9 648.4,569 655.7,568.8 665.9,568.6 676.2,568 686.4,567.3 696.7,566.4 706.9,565.6 717.2,564.8 727.5,564.1 737.7,563.7 748,563.8 758.2,562.7 770.1,563.8 781.9,566.8 793.7,570.8 805.6,575.3 817.4,578.9 829.3,581.7 841.1,583.9 852.9,585.5 864.8,586.4 876.6,586.8 882.6,587 888.5,587.8 894.4,589.3 900.3,591.2 906.2,593.3 912.2,595.4 918.1,597.4 924,599.1 929.9,600.5 935.8,601 937.9,600.6 940,600 942.1,599.3 944.2,598.4 946.3,597.4 948.4,596.3 950.5,595.2 952.6,594.1 954.7,592.9 956.8,591.7 958.9,590.5 961,589.3 963,588.1 965.1,587 967.2,586 969.3,585 971.4,584.2 973.5,583.5 975.6,583.1 977.7,582.9"/>
<polyline points="541.3,577.8 543.4,577.7 545.5,577.2 547.6,577 549.7,576.9 551.8,576.8 553.9,576.7 556,576.6 558,576.4 560.1,576.2 562.2,576 564.3,575.8 566.4,575.6 568.5,575.3 570.6,575 572.7,574.8 574.8,574.4 576.9,574.1 579,573.8 581.1,573.4 583.2,573 590.4,572.3 597.7,571.5 604.9,570.7 612.2,569.7 619.4,568.6 626.7,567.4 633.9,566 641.2,564.7 648.4,565 655.7,565.7 665.9,565.6 676.2,565.4 686.4,565.1 696.7,564.6 706.9,564.1 717.2,563.4 727.5,562.7 737.7,561.9 748,561.1 758.2,561.1 770.1,561.7 781.9,563.9 793.7,566.5 805.6,569.1 817.4,571.4 829.3,573.5 841.1,575.2 852.9,576.6 864.8,577.5 876.6,577.8 882.6,577.2 888.5,575.4 894.4,572.9 900.3,570 906.2,566.9 912.2,563.7 918.1,560.4 924,557.2 929.9,554.4 935.8,553 937.9,553.2 940,553.9 942.1,554.9 944.2,556.1 946.3,557.4 948.4,558.7 950.5,560.1 952.6,561.5 954.7,562.9 956.8,564.2 958.9,565.6 961,567 963,568.3 965.1,569.5 967.2,570.7 969.3,571.8 971.4,572.8 973.5,573.6 975.6,574.1 977.7,574.3"/>
<polyline points="541.3,577.1 543.4,577.1 545.5,577 547.6,576.5 549.7,575.7 551.8,574.9 553.9,574.5 556,574.3 558,574.2 560.1,574.1 562.2,574 564.3,573.9 566.4,573.8 568.5,573.6 570.6,573.5 572.7,573.3 574.8,573.1 576.9,572.9 579,572.7 581.1,572.5 583.2,572.2 590.4,571.5 597.7,570.4 604.9,568.9 612.2,567.3 619.4,565.6 626.7,563.9 633.9,562.6 641.2,562.5 648.4,563.8 655.7,564.8 665.9,564.7 676.2,564.3 686.4,563.7 696.7,562.8 706.9,561.9 717.2,560.9 727.5,560 737.7,559.2 748,559.8 758.2,560.6 770.1,560.3 781.9,562.5 793.7,565.2 805.6,567.9 817.4,570.5 829.3,572.8 841.1,574.7 852.9,576 864.8,576.8 876.6,577.1 882.6,576.4 888.5,574.6 894.4,572.1 900.3,569.2 906.2,566 912.2,562.8 918.1,559.4 924,556.1 929.9,553.1 935.8,551.3 937.9,551.5 940,551.8 942.1,552.4 944.2,553.2 946.3,554.1 948.4,555.1 950.5,556.2 952.6,557.3 954.7,558.5 956.8,559.6 958.9,560.8 961,562 963,563.1 965.1,564.2 967.2,565.3 969.3,566.2 971.4,567 973.5,567.6 975.6,568 977.7,568.2"/>
<polyline points="541.3,573 543.4,573 545.5,573.1 547.6,573.3 549.7,573.3 551.8,573 553.9,572.3 556,571.2 558,570 560.1,568.6 562.2,567.2 564.3,565.8 566.4,564.3 568.5,562.8 570.6,561.4 572.7,559.9 574.8,558.4 576.9,556.9 579,555.4 581.1,553.9 583.2,552.4 590.4,549.5 597.7,546.9 604.9,545.4 612.2,547.6 619.4,551 626.7,554.3 633.9,557.4 641.2,559.8 648.4,560.1 655.7,559.5 665.9,559.3 676.2,558.7 686.4,558 696.7,557.2 706.9,556.6 717.2,556.4 727.5,557.1 737.7,558.5 748,558.7 758.2,560.6 770.1,558.3 781.9,553.8 793.7,550.6 805.6,554.8 817.4,559.8 829.3,564.5 841.1,568.2 852.9,570.9 864.8,572.4 876.6,573 882.6,572.6 888.5,571.2 894.4,568.9 900.3,566.2 906.2,563.2 912.2,560.1 918.1,556.9 924,553.8 929.9,551 935.8,549.6 937.9,549.9 940,550.1 942.1,550.2 944.2,550.1 946.3,550.1 948.4,550 950.5,550 952.6,550 954.7,550 956.8,550 958.9,550 961,550 963,550.1 965.1,550.1 967.2,550.1 969.3,550.2 971.4,550.2 973.5,550.2 975.6,550.2 977.7,550.2"/>
<polyline points="541.3,569.8 543.4,569.7 545.5,569.2 547.6,568.5 549.7,567.6 551.8,566.7 553.9,565.6 556,564.5 558,563.3 560.1,562 562.2,560.8 564.3,559.5 566.4,558.2 568.5,556.9 570.6,555.6 572.7,554.2 574.8,552.9 576.9,551.6 579,550.3 581.1,549.1 583.2,547.8 590.4,545.5 597.7,543.7 604.9,543.8 612.2,545.7 619.4,548.4 626.7,551.4 633.9,554.3 641.2,556.3 648.4,556.7 655.7,556.7 665.9,556.6 676.2,556.2 686.4,555.3 696.7,554 706.9,552.5 717.2,551.6 727.5,552.1 737.7,554.7 748,558.2 758.2,558.4 770.1,556.9 781.9,552.3 793.7,550.2 805.6,554.7 817.4,559.3 829.3,563.1 841.1,566.1 852.9,568.2 864.8,569.4 876.6,569.8 882.6,569.1 888.5,567.2 894.4,564.8 900.3,562.1 906.2,559.3 912.2,556.5 918.1,553.8 924,551.4 929.9,549.8 935.8,549.6 937.9,549.4 940,549.2 942.1,549 944.2,549 946.3,548.9 948.4,548.9 950.5,549 952.6,549 954.7,549.1 956.8,549.1 958.9,549.2 961,549.3 963,549.3 965.1,549.4 967.2,549.4 969.3,549.5 971.4,549.5 973.5,549.5 975.6,549.5 977.7,549.5"/>
<polyline points="541.3,521.1 543.4,521.2 545.5,521.4 547.6,521.8 549.7,522.3 551.8,522.9 553.9,523.5 556,524.2 558,525 560.1,525.7 562.2,526.5 564.3,527.3 566.4,528.1 568.5,528.9 570.6,529.7 572.7,530.5 574.8,531.3 576.9,532.1 579,532.9 581.1,533.7 583.2,534.5 590.4,536.9 597.7,540 604.9,542.2 612.2,542.9 619.4,544.6 626.7,546.7 633.9,548.7 641.2,550.3 648.4,551.3 655.7,551.6 665.9,551.8 676.2,552 686.4,551.9 696.7,551.5 706.9,550.9 717.2,550.6 727.5,551.8 737.7,553.9 748,556.4 758.2,558.4 770.1,555.9 781.9,551.8 793.7,548.6 805.6,543.7 817.4,538.7 829.3,534 841.1,530.4 852.9,526.9 864.8,523.4 876.6,521.1 882.6,521.7 888.5,523.4 894.4,525.7 900.3,528.5 906.2,531.5 912.2,534.7 918.1,537.9 924,541.2 929.9,544.2 935.8,545.8 937.9,545.7 940,545.4 942.1,545 944.2,544.4 946.3,543.7 948.4,543 950.5,542.3 952.6,541.6 954.7,540.9 956.8,540.2 958.9,539.5 961,538.8 963,538.2 965.1,537.6 967.2,537.1 969.3,536.7 971.4,536.3 973.5,536.1 975.6,535.9 977.7,535.8"/>
<polyline points="541.3,519.4 543.4,519.4 545.5,519.6 547.6,519.8 549.7,520.1 551.8,520.5 553.9,521 556,521.6 558,522.2 560.1,522.8 562.2,523.5 564.3,524.2 566.4,525 568.5,525.7 570.6,526.5 572.7,527.3 574.8,528 576.9,528.8 579,529.5 581.1,530.3 583.2,531 590.4,533.1 597.7,535.7 604.9,537.6 612.2,537.1 619.4,537.3 626.7,539.7 633.9,542.2 641.2,544.9 648.4,547.3 655.7,548.5 665.9,548 676.2,546.9 686.4,545.6 696.7,544.5 706.9,544 717.2,544 727.5,544.5 737.7,545.9 748,547.4 758.2,548.1 770.1,546.8 781.9,545.9 793.7,547.2 805.6,542.3 817.4,537.4 829.3,533.5 841.1,528.9 852.9,524.3 864.8,520.4 876.6,519.4 882.6,520.3 888.5,522.4 894.4,525 900.3,528 906.2,531.1 912.2,534.4 918.1,537.5 924,540.6 929.9,543 935.8,543.9 937.9,543.7 940,543.4 942.1,543 944.2,542.6 946.3,542 948.4,541.4 950.5,540.8 952.6,540.1 954.7,539.3 956.8,538.6 958.9,537.8 961,537.1 963,536.3 965.1,535.5 967.2,534.7 969.3,534 971.4,533.3 973.5,532.8 975.6,532.4 977.7,532.3"/>
<polyline points="541.3,515.8 543.4,515.9 545.5,516.2 547.6,516.9 549.7,517.6 551.8,518.4 553.9,519.1 556,519.9 558,520.6 560.1,521.3 562.2,522 564.3,522.7 566.4,523.5 568.5,524.2 570.6,524.9 572.7,525.6 574.8,526.3 576.9,527 579,527.7 581.1,528.4 583.2,529.1 590.4,529.8 597.7,530.3 604.9,532 612.2,534.2 619.4,534 626.7,532.4 633.9,534.4 641.2,536.8 648.4,538.4 655.7,538.9 665.9,538.6 676.2,537.8 686.4,537 696.7,538 706.9,540.8 717.2,542.6 727.5,543.1 737.7,544.5 748,547 758.2,548.1 770.1,546.7 781.9,544.1 793.7,545 805.6,541.4 817.4,537.3 829.3,532.5 841.1,527.7 852.9,522.9 864.8,518.3 876.6,515.8 882.6,516.8 888.5,519.5 894.4,522.4 900.3,525.5 906.2,528.6 912.2,531.8 918.1,535 924,538.2 929.9,540.9 935.8,542.2 937.9,541.9 940,541.5 942.1,541 944.2,540.5 946.3,539.8 948.4,539.2 950.5,538.5 952.6,537.7 954.7,537 956.8,536.2 958.9,535.4 961,534.6 963,533.8 965.1,533 967.2,532.2 969.3,531.5 971.4,530.7 973.5,530.1 975.6,529.4 977.7,528.9"/>
<polyline points="541.3,515 543.4,515.5 545.5,516.1 547.6,516.4 549.7,516.9 551.8,517.3 553.9,517.9 556,518.4 558,519 560.1,519.6 562.2,520.2 564.3,520.8 566.4,521.5 568.5,522.1 570.6,522.7 572.7,523.3 574.8,524 576.9,524.6 579,525.2 581.1,525.9 583.2,526.5 590.4,527.6 597.7,528.7 604.9,530 612.2,530.1 619.4,529.4 626.7,529.6 633.9,528 641.2,530.2 648.4,531.8 655.7,532.4 665.9,532.4 676.2,532.5 686.4,533.5 696.7,536 706.9,538.2 717.2,541.5 727.5,542.5 737.7,542.7 748,541.7 758.2,541 770.1,542.3 781.9,543.4 793.7,540.5 805.6,537.9 817.4,534.9 829.3,531.2 841.1,526.8 852.9,522.4 864.8,518.2 876.6,515 882.6,515.4 888.5,516.4 894.4,519 900.3,521.8 906.2,524.7 912.2,527.6 918.1,530.4 924,532.9 929.9,534.9 935.8,535.8 937.9,535.9 940,535.9 942.1,535.7 944.2,535.4 946.3,535.1 948.4,534.6 950.5,534.1 952.6,533.5 954.7,532.9 956.8,532.3 958.9,531.7 961,531.1 963,530.5 965.1,529.9 967.2,529.3 969.3,528.7 971.4,528.1 973.5,527.7 975.6,528.1 977.7,528.6"/>
<polyline points="541.3,514.5 543.4,514 545.5,514.2 547.6,514.6 549.7,515 551.8,515.4 553.9,516 556,516.5 558,517.1 560.1,517.7 562.2,518.3 564.3,518.9 566.4,519.6 568.5,520.2 570.6,520.8 572.7,521.5 574.8,522.1 576.9,522.7 579,523.3 581.1,523.9 583.2,524.6 590.4,526.1 597.7,528.1 604.9,527.9 612.2,527 619.4,526 626.7,525.4 633.9,527.4 641.2,525.1 648.4,523.6 655.7,523.1 665.9,525.5 676.2,529.5 686.4,532.7 696.7,534.4 706.9,537.7 717.2,539.7 727.5,541.6 737.7,541.4 748,540.8 758.2,540.5 770.1,540.9 781.9,543.1 793.7,539.8 805.6,535.7 817.4,531.4 829.3,527 841.1,522.7 852.9,518.6 864.8,516.1 876.6,514.5 882.6,514.7 888.5,515 894.4,515.2 900.3,515.3 906.2,515.3 912.2,515.3 918.1,515.3 924,515.2 929.9,515.2 935.8,515.2 937.9,515.7 940,516.2 942.1,516.8 944.2,517.4 946.3,518 948.4,518.7 950.5,519.3 952.6,520 954.7,520.7 956.8,521.4 958.9,522.2 961,522.9 963,523.6 965.1,524.4 967.2,525.2 969.3,525.9 971.4,526.6 973.5,527.3 975.6,527.2 977.7,527"/>
<polyline points="541.3,513.9 543.4,514 545.5,513.4 547.6,513.7 549.7,514.1 551.8,514.5 553.9,514.9 556,515.4 558,515.9 560.1,516.3 562.2,516.9 564.3,517.4 566.4,517.9 568.5,518.4 570.6,519 572.7,519.6 574.8,520.2 576.9,520.8 579,521.5 581.1,522.1 583.2,522.7 590.4,524.5 597.7,524.6 604.9,524 612.2,523 619.4,523.4 626.7,524.8 633.9,523.2 641.2,521.6 648.4,519.7 655.7,518.7 665.9,520.7 676.2,525 686.4,529.4 696.7,532.5 706.9,534.9 717.2,538.2 727.5,540.7 737.7,540.6 748,539.3 758.2,540.5 770.1,539.2 781.9,537.8 793.7,534.6 805.6,530.2 817.4,525.7 829.3,522.1 841.1,519.6 852.9,517.7 864.8,514.9 876.6,513.9 882.6,513.8 888.5,514.5 894.4,514.2 900.3,513.8 906.2,513.5 912.2,513.1 918.1,512.8 924,512.5 929.9,512.3 935.8,512.3 937.9,512.4 940,512.8 942.1,513.3 944.2,513.9 946.3,514.6 948.4,515.3 950.5,516 952.6,516.8 954.7,517.5 956.8,518.3 958.9,519 961,519.8 963,520.5 965.1,521.3 967.2,522 969.3,522.6 971.4,523.3 973.5,523.8 975.6,524.2 977.7,524.4"/>
<polyline points="541.3,513.1 543.4,513.2 545.5,513.4 547.6,512.8 549.7,512.4 551.8,512.9 553.9,513.5 556,514.1 558,514.8 560.1,515.4 562.2,516.1 564.3,516.8 566.4,517.4 568.5,518.1 570.6,518.8 572.7,519.5 574.8,520.1 576.9,520.7 579,521.2 581.1,521.8 583.2,522.3 590.4,522 597.7,521.5 604.9,521.2 612.2,521.7 619.4,522.7 626.7,523.4 633.9,522.1 641.2,520.4 648.4,519.2 655.7,518.3 665.9,520.6 676.2,524 686.4,527.8 696.7,531.4 706.9,533.2 717.2,534.1 727.5,535.4 737.7,536.8 748,539 758.2,538.7 770.1,539 781.9,536.5 793.7,533.1 805.6,529.4 817.4,525.7 829.3,522 841.1,518.2 852.9,514.4 864.8,512.3 876.6,513.1 882.6,512.9 888.5,512.2 894.4,511.8 900.3,511.5 906.2,511.4 912.2,511.3 918.1,511.3 924,511.3 929.9,511.3 935.8,511.3 937.9,511.6 940,512.2 942.1,512.8 944.2,513.5 946.3,514.2 948.4,514.9 950.5,515.6 952.6,516.3 954.7,517.1 956.8,517.8 958.9,518.6 961,519.3 963,520.1 965.1,520.8 967.2,521.6 969.3,522.3 971.4,522.9 973.5,523.4 975.6,523.7 977.7,523.9"/>
<polyline points="541.3,512.2 543.4,512.1 545.5,511.8 547.6,511.8 549.7,512.2 551.8,511.9 553.9,511.7 556,511.7 558,512 560.1,512.3 562.2,512.8 564.3,513.3 566.4,513.9 568.5,514.5 570.6,515.2 572.7,515.8 574.8,516.5 576.9,517.1 579,517.8 581.1,518.5 583.2,519.2 590.4,520 597.7,520 604.9,519.7 612.2,520.1 619.4,521.9 626.7,520.6 633.9,519.3 641.2,518 648.4,517 655.7,517.1 665.9,516.6 676.2,519.9 686.4,523.2 696.7,525.3 706.9,525.1 717.2,526.2 727.5,529.4 737.7,534.1 748,536.7 758.2,537.2 770.1,536 781.9,532.8 793.7,528.3 805.6,523.3 817.4,518.3 829.3,514 841.1,510.2 852.9,509.2 864.8,511 876.6,512.2 882.6,512.1 888.5,511.7 894.4,511.4 900.3,511 906.2,510.7 912.2,510.5 918.1,510.4 924,510.3 929.9,510.3 935.8,510.3 937.9,509.9 940,509.4 942.1,508.8 944.2,508.2 946.3,507.7 948.4,507.5 950.5,507.7 952.6,508.2 954.7,508.7 956.8,509.2 958.9,509.7 961,510.2 963,510.7 965.1,511.1 967.2,511.5 969.3,511.8 971.4,512.1 973.5,512.3 975.6,512.4 977.7,512.5"/>
<polyline points="541.3,511 543.4,511.1 545.5,511.4 547.6,511.3 549.7,510.7 551.8,510 553.9,509.3 556,508.6 558,507.9 560.1,507.1 562.2,506.4 564.3,505.8 566.4,505.3 568.5,504.8 570.6,504.4 572.7,504.2 574.8,504.2 576.9,504.3 579,504.6 581.1,504.9 583.2,505.3 590.4,507.5 597.7,511.2 604.9,515.3 612.2,518.2 619.4,517.8 626.7,516.9 633.9,515.8 641.2,514.7 648.4,513.7 655.7,513.4 665.9,514.1 676.2,516.9 686.4,519.9 696.7,522.6 706.9,524.8 717.2,523.7 727.5,527.5 737.7,532.5 748,536 758.2,537.2 770.1,535.8 781.9,532.3 793.7,527.6 805.6,522.3 817.4,517.5 829.3,513.6 841.1,510 852.9,507.6 864.8,508.8 876.6,511 882.6,511.4 888.5,510.8 894.4,510.1 900.3,509.5 906.2,509.1 912.2,509 918.1,509 924,509 929.9,509 935.8,509.1 937.9,509 940,508.6 942.1,508.2 944.2,507.6 946.3,507.1 948.4,506.5 950.5,506.1 952.6,505.5 954.7,505 956.8,504.4 958.9,503.8 961,503.2 963,502.6 965.1,502.1 967.2,501.6 969.3,501.1 971.4,500.7 973.5,500.4 975.6,500.2 977.7,500.2"/>
<polyline points="541.3,510 543.4,509.9 545.5,509.5 547.6,509.1 549.7,508.5 551.8,508 553.9,507.5 556,507.4 558,507.1 560.1,506.7 562.2,506.3 564.3,505.7 566.4,505.1 568.5,504.7 570.6,504.3 572.7,504 574.8,503.6 576.9,503.3 579,503.1 581.1,502.9 583.2,502.8 590.4,503 597.7,505.4 604.9,508.1 612.2,510.3 619.4,511.4 626.7,511.5 633.9,511.2 641.2,511.5 648.4,512.5 655.7,512.5 665.9,513.3 676.2,509.5 686.4,511.4 696.7,513.6 706.9,516.9 717.2,522 727.5,524.7 737.7,524.8 748,524.5 758.2,524.4 770.1,523.6 781.9,521.8 793.7,519.7 805.6,518 817.4,515.5 829.3,511.1 841.1,507.5 852.9,507.4 864.8,508 876.6,510 882.6,509 888.5,508.6 894.4,508.5 900.3,508.5 906.2,508.4 912.2,508 918.1,507.6 924,507.3 929.9,507 935.8,506.9 937.9,506.4 940,505.9 942.1,505.6 944.2,505.8 946.3,506.1 948.4,506.3 950.5,505.8 952.6,505.2 954.7,504.5 956.8,503.9 958.9,503.3 961,502.7 963,502.1 965.1,501.6 967.2,501.1 969.3,500.6 971.4,500.2 973.5,499.9 975.6,499.7 977.7,499.6"/>
<polyline points="541.3,507 543.4,507 545.5,507.1 547.6,507.2 549.7,507.4 551.8,507.5 553.9,507.4 556,506.7 558,506.1 560.1,505.5 562.2,504.9 564.3,504.3 566.4,503.7 568.5,503.1 570.6,502.6 572.7,502 574.8,501.7 576.9,501.4 579,501.4 581.1,501.5 583.2,501.7 590.4,502.7 597.7,502.8 604.9,503.4 612.2,504.3 619.4,505.6 626.7,507 633.9,508.4 641.2,509 648.4,510.2 655.7,511.1 665.9,508.9 676.2,509.1 686.4,506 696.7,509.9 706.9,515.7 717.2,521.7 727.5,522.2 737.7,522.4 748,523.7 758.2,524.4 770.1,523.5 781.9,521.6 793.7,519.1 805.6,515.7 817.4,511.8 829.3,508.2 841.1,505.3 852.9,505.3 864.8,507.8 876.6,507 882.6,506.8 888.5,506.5 894.4,506.2 900.3,506.1 906.2,506.1 912.2,506.1 918.1,506.2 924,506.3 929.9,506.3 935.8,506.3 937.9,505.8 940,505.2 942.1,504.7 944.2,504.5 946.3,504 948.4,503.5 950.5,502.9 952.6,502.4 954.7,501.9 956.8,501.4 958.9,501 961,500.6 963,500.2 965.1,499.9 967.2,499.7 969.3,499.5 971.4,499.4 973.5,499.4 975.6,499.4 977.7,499.4"/>
<polyline points="541.3,506.1 543.4,506.1 545.5,505.8 547.6,505.4 549.7,504.9 551.8,504.3 553.9,503.6 556,502.9 558,502.2 560.1,501.5 562.2,500.7 564.3,500.2 566.4,499.9 568.5,499.7 570.6,499.5 572.7,499.2 574.8,499 576.9,498.6 579,498.2 581.1,497.6 583.2,497.1 590.4,497.1 597.7,498.3 604.9,499.8 612.2,501.4 619.4,503.1 626.7,505 633.9,506.8 641.2,508.6 648.4,509.1 655.7,509.4 665.9,507.4 676.2,504.3 686.4,504.7 696.7,508.4 706.9,512 717.2,513.3 727.5,513.7 737.7,514.7 748,516 758.2,516.5 770.1,516 781.9,514.7 793.7,512.6 805.6,510.7 817.4,508.9 829.3,506.1 841.1,504.5 852.9,505 864.8,506 876.6,506.1 882.6,505.5 888.5,503.6 894.4,503.2 900.3,503.3 906.2,503.4 912.2,503.5 918.1,503.5 924,503.6 929.9,503.6 935.8,503.6 937.9,504 940,504.5 942.1,504.6 944.2,504.1 946.3,503.5 948.4,502.9 950.5,502.3 952.6,501.7 954.7,501.2 956.8,500.6 958.9,500.1 961,499.6 963,499.1 965.1,498.8 967.2,498.4 969.3,498.2 971.4,497.9 973.5,497.7 975.6,497.6 977.7,497.5"/>
<polyline points="541.3,503.3 543.4,503.3 545.5,503.2 547.6,502.9 549.7,502.7 551.8,502.4 553.9,502 556,501.6 558,501.2 560.1,500.9 562.2,500.5 564.3,500 566.4,499.2 568.5,498.5 570.6,497.8 572.7,497.4 574.8,497 576.9,496.5 579,496 581.1,495.4 583.2,494.7 590.4,494.2 597.7,495.4 604.9,496.8 612.2,498.4 619.4,500 626.7,501.6 633.9,503.3 641.2,504.7 648.4,505 655.7,504.2 665.9,505.1 676.2,504.2 686.4,504.3 696.7,503.8 706.9,505.8 717.2,509 727.5,511.8 737.7,512.8 748,512.5 758.2,512.2 770.1,512.3 781.9,512.3 793.7,511.5 805.6,509.4 817.4,506.6 829.3,504.3 841.1,502.7 852.9,500.4 864.8,502.3 876.6,503.3 882.6,503.1 888.5,503.1 894.4,501 900.3,498.3 906.2,496.2 912.2,495.8 918.1,495.9 924,496.2 929.9,496.5 935.8,496.6 937.9,496.4 940,496.2 942.1,496.2 944.2,496.2 946.3,496.3 948.4,496.4 950.5,496.6 952.6,496.8 954.7,497 956.8,497.1 958.9,497.2 961,497.3 963,497.2 965.1,497.1 967.2,496.9 969.3,496.5 971.4,496.2 973.5,495.9 975.6,495.8 977.7,495.9"/>
<polyline points="541.3,502.6 543.4,502.6 545.5,502.4 547.6,502.3 549.7,502 551.8,501.7 553.9,501.3 556,500.9 558,500.5 560.1,500 562.2,499.5 564.3,499 566.4,498.6 568.5,498.2 570.6,497.8 572.7,497 574.8,496.3 576.9,495.6 579,495 581.1,494.3 583.2,493.7 590.4,493.4 597.7,493.1 604.9,493.9 612.2,495.2 619.4,496.6 626.7,498 633.9,499.4 641.2,500.8 648.4,502.2 655.7,503.5 665.9,502.6 676.2,500.4 686.4,497.7 696.7,495.8 706.9,500 717.2,503.8 727.5,506.5 737.7,507.5 748,507.1 758.2,506.7 770.1,507.2 781.9,508 793.7,508.2 805.6,506.8 817.4,503.7 829.3,499.7 841.1,497 852.9,498.3 864.8,500.1 876.6,502.6 882.6,502.2 888.5,500.7 894.4,498.6 900.3,496.5 906.2,495.1 912.2,494.2 918.1,494.5 924,494.7 929.9,494.7 935.8,494.7 937.9,494.4 940,494 942.1,493.7 944.2,493.4 946.3,493.2 948.4,493.1 950.5,493.1 952.6,493.2 954.7,493.4 956.8,493.6 958.9,493.8 961,494 963,494.3 965.1,494.5 967.2,494.7 969.3,495 971.4,495.2 973.5,495.3 975.6,495.2 977.7,495.1"/>
<polyline points="541.3,500.6 543.4,500.6 545.5,500.4 547.6,500.1 549.7,499.7 551.8,499.3 553.9,498.9 556,498.4 558,497.9 560.1,497.4 562.2,496.9 564.3,496.4 566.4,496.4 568.5,496.2 570.6,496 572.7,495.6 574.8,495.1 576.9,494.6 579,494.1 581.1,493.5 583.2,493 590.4,492.4 597.7,492.1 604.9,491.3 612.2,490.6 619.4,491.6 626.7,494 633.9,496.5 641.2,498.6 648.4,500.1 655.7,500.6 665.9,499 676.2,496.4 686.4,494.3 696.7,494.5 706.9,495.5 717.2,498.2 727.5,501.4 737.7,504.1 748,506.1 758.2,506.7 770.1,506.5 781.9,505.5 793.7,503.6 805.6,500.9 817.4,497.6 829.3,495.3 841.1,497 852.9,498.1 864.8,499.9 876.6,500.6 882.6,500.2 888.5,499.1 894.4,497.5 900.3,495.6 906.2,493.5 912.2,492.4 918.1,491.9 924,492 929.9,492.1 935.8,492.2 937.9,492.4 940,492.5 942.1,492.6 944.2,492.7 946.3,492.6 948.4,492.6 950.5,492.5 952.6,492.6 954.7,492.6 956.8,492.6 958.9,492.7 961,492.8 963,492.8 965.1,493 967.2,493.1 969.3,493.3 971.4,493.5 973.5,493.7 975.6,494 977.7,494.1"/>
<polyline points="541.3,494.6 543.4,494.6 545.5,494.7 547.6,494.8 549.7,494.9 551.8,495.1 553.9,495.3 556,495.6 558,495.8 560.1,496 562.2,496.2 564.3,496.3 566.4,495.9 568.5,495.4 570.6,494.9 572.7,494.5 574.8,494 576.9,493.7 579,493.3 581.1,493 583.2,492.9 590.4,491 597.7,489.3 604.9,488.6 612.2,488 619.4,488.7 626.7,491.1 633.9,494 641.2,496.5 648.4,498.3 655.7,498.8 665.9,496.9 676.2,493.6 686.4,492 696.7,493.2 706.9,489.3 717.2,484.8 727.5,484 737.7,487 748,489.4 758.2,490.3 770.1,489.3 781.9,486.8 793.7,484.2 805.6,485 817.4,489.8 829.3,493 841.1,494.9 852.9,497.6 864.8,496.1 876.6,494.6 882.6,494.6 888.5,494.6 894.4,494.5 900.3,494 906.2,493 912.2,491.7 918.1,490.3 924,490 929.9,490 935.8,490 937.9,490.2 940,490.4 942.1,490.7 944.2,491 946.3,491.2 948.4,491.3 950.5,491.2 952.6,491.1 954.7,490.9 956.8,490.8 958.9,490.7 961,490.6 963,490.7 965.1,490.8 967.2,491 969.3,491.3 971.4,491.5 973.5,491.6 975.6,491.7 977.7,491.7"/>
<polyline points="541.3,492.9 543.4,492.8 545.5,492.8 547.6,492.7 549.7,492.5 551.8,492.3 553.9,492.1 556,491.9 558,491.6 560.1,491.4 562.2,491.1 564.3,490.8 566.4,490.6 568.5,490.4 570.6,490.2 572.7,490.2 574.8,490.2 576.9,490.4 579,490.7 581.1,491.1 583.2,491.3 590.4,490.3 597.7,487.7 604.9,485.8 612.2,487.5 619.4,487.4 626.7,486.9 633.9,486 641.2,485.4 648.4,485.1 655.7,485 665.9,487 676.2,489.9 686.4,491.7 696.7,490.2 706.9,485.6 717.2,482 727.5,479.9 737.7,478.1 748,478.4 758.2,478.6 770.1,478.1 781.9,476.9 793.7,480 805.6,482.1 817.4,486.8 829.3,491.3 841.1,493.7 852.9,494.1 864.8,492.2 876.6,492.9 882.6,492.7 888.5,492.2 894.4,491.8 900.3,492.1 906.2,492.2 912.2,490.6 918.1,488.9 924,487.9 929.9,487.6 935.8,487.6 937.9,487.4 940,487.2 942.1,486.9 944.2,486.6 946.3,486.4 948.4,486.4 950.5,486.7 952.6,487.1 954.7,487.5 956.8,488 958.9,488.5 961,489 963,489.4 965.1,489.9 967.2,490.3 969.3,490.7 971.4,491 973.5,491.3 975.6,491.5 977.7,491.6"/>
<polyline points="541.3,486.8 543.4,486.8 545.5,486.8 547.6,486.9 549.7,487 551.8,487.1 553.9,487.3 556,487.7 558,488.1 560.1,488.5 562.2,488.9 564.3,489.2 566.4,489.5 568.5,489.7 570.6,489.9 572.7,489.9 574.8,489.9 576.9,489.9 579,490 581.1,490 583.2,489.9 590.4,488.9 597.7,486.9 604.9,484.2 612.2,484.3 619.4,486 626.7,485.5 633.9,485 641.2,484.9 648.4,484.9 655.7,484.9 665.9,486.9 676.2,489.6 686.4,488.6 696.7,486.4 706.9,484.4 717.2,480.6 727.5,478.3 737.7,476.4 748,477.9 758.2,478.6 770.1,477.6 781.9,475.5 793.7,477.3 805.6,482 817.4,486.3 829.3,489.8 841.1,490 852.9,491.6 864.8,491.6 876.6,486.8 882.6,487.3 888.5,488.1 894.4,488.7 900.3,488.9 906.2,488.8 912.2,488.3 918.1,487.3 924,485.8 929.9,484.6 935.8,484.3 937.9,484.6 940,484.9 942.1,485.2 944.2,485.5 946.3,485.8 948.4,485.9 950.5,485.7 952.6,485.6 954.7,485.5 956.8,485.7 958.9,486 961,486.4 963,486.7 965.1,486.9 967.2,487.1 969.3,487.1 971.4,487.2 973.5,487.2 975.6,487.2 977.7,487.2"/>
<polyline points="541.3,485.6 543.4,485.6 545.5,485.6 547.6,486 549.7,486.4 551.8,486.8 553.9,487.2 556,487.4 558,487.5 560.1,487.7 562.2,487.9 564.3,488.1 566.4,488.4 568.5,488.6 570.6,488.9 572.7,489.3 574.8,489.6 576.9,489.7 579,489.5 581.1,489.2 583.2,488.8 590.4,488.1 597.7,485.3 604.9,483.6 612.2,482.6 619.4,482.8 626.7,483.2 633.9,483.3 641.2,483 648.4,482.6 655.7,482.4 665.9,484.3 676.2,488 686.4,488.6 696.7,485.1 706.9,481.7 717.2,479.8 727.5,476.6 737.7,475.1 748,471.5 758.2,469.9 770.1,471.5 781.9,475.1 793.7,477.1 805.6,481.9 817.4,482.1 829.3,486.3 841.1,490 852.9,488.2 864.8,486.2 876.6,485.6 882.6,485.8 888.5,486.2 894.4,486.7 900.3,487 906.2,487.4 912.2,487.4 918.1,486.2 924,484.2 929.9,482.3 935.8,481.3 937.9,481.2 940,481.3 942.1,481.6 944.2,482 946.3,482.5 948.4,483 950.5,483.6 952.6,484.1 954.7,484.5 956.8,484.7 958.9,484.7 961,484.9 963,485.2 965.1,485.5 967.2,485.9 969.3,486.2 971.4,486.4 973.5,486.6 975.6,486.7 977.7,486.8"/>
<polyline points="541.3,485.2 543.4,485.3 545.5,485.6 547.6,485.6 549.7,485.6 551.8,485.6 553.9,485.8 556,486 558,486.2 560.1,486.6 562.2,487 564.3,487.4 566.4,487.8 568.5,488.2 570.6,488.4 572.7,488.4 574.8,488.3 576.9,488.1 579,487.9 581.1,487.6 583.2,487.2 590.4,485.2 597.7,482.7 604.9,482.2 612.2,480.6 619.4,480.2 626.7,480 633.9,479.7 641.2,479.3 648.4,478.9 655.7,478.7 665.9,481 676.2,485.2 686.4,487.6 696.7,484.2 706.9,480 717.2,477.8 727.5,474.1 737.7,469.8 748,465.7 758.2,462.7 770.1,466.8 781.9,472 793.7,474.4 805.6,477.2 817.4,481.6 829.3,485.5 841.1,487.7 852.9,487.3 864.8,485.2 876.6,485.2 882.6,485.2 888.5,485.5 894.4,485.8 900.3,485.8 906.2,485.4 912.2,485.2 918.1,484.4 924,482.7 929.9,480.9 935.8,479.8 937.9,480.1 940,480.4 942.1,480.7 944.2,481.2 946.3,481.7 948.4,482.1 950.5,482.5 952.6,482.9 954.7,483.3 956.8,483.7 958.9,484 961,484.2 963,484.3 965.1,484.3 967.2,484.3 969.3,484.3 971.4,484.3 973.5,484.3 975.6,484.4 977.7,484.4"/>
<polyline points="541.3,483.8 543.4,483.8 545.5,483.8 547.6,483.7 549.7,483.6 551.8,483.5 553.9,483.4 556,483.3 558,483.1 560.1,483 562.2,482.8 564.3,482.6 566.4,482.4 568.5,482.1 570.6,481.9 572.7,481.6 574.8,481.3 576.9,481 579,480.8 581.1,480.5 583.2,480.4 590.4,481 597.7,482.3 604.9,480.6 612.2,479.3 619.4,476.3 626.7,474.6 633.9,474.6 641.2,474.8 648.4,475.1 655.7,475.2 665.9,473.5 676.2,476.3 686.4,479.3 696.7,479.9 706.9,476.5 717.2,472.8 727.5,471.5 737.7,469.4 748,465 758.2,462.5 770.1,466.4 781.9,471.3 793.7,473.6 805.6,475.9 817.4,480.2 829.3,484 841.1,487.2 852.9,486.9 864.8,485 876.6,483.8 882.6,483.6 888.5,483.3 894.4,483.1 900.3,483.2 906.2,482.8 912.2,482.3 918.1,482.3 924,482 929.9,480.7 935.8,479.2 937.9,479.5 940,479.9 942.1,480.1 944.2,480.2 946.3,480.5 948.4,480.9 950.5,481.2 952.6,481.5 954.7,481.7 956.8,481.8 958.9,481.9 961,481.8 963,481.7 965.1,481.6 967.2,481.5 969.3,481.4 971.4,481.3 973.5,481.2 975.6,481.1 977.7,481.1"/>
<polyline points="541.3,483.3 543.4,483.2 545.5,482.9 547.6,482.5 549.7,482.1 551.8,482.2 553.9,482.3 556,482.4 558,482.3 560.1,482.1 562.2,481.9 564.3,481.6 566.4,481.2 568.5,480.8 570.6,480.4 572.7,479.9 574.8,479.5 576.9,479 579,478.6 581.1,478.2 583.2,477.8 590.4,478 597.7,479 604.9,479.8 612.2,477.5 619.4,475 626.7,473.6 633.9,473 641.2,472.5 648.4,472.1 655.7,471.9 665.9,472.1 676.2,467.6 686.4,469.3 696.7,472 706.9,474.5 717.2,471.7 727.5,468.2 737.7,463.5 748,462.6 758.2,462.5 770.1,463.9 781.9,467.4 793.7,472.1 805.6,475.3 817.4,479.2 829.3,483.2 841.1,485 852.9,486.2 864.8,483.6 876.6,483.3 882.6,482.9 888.5,482.4 894.4,482.3 900.3,482.3 906.2,482.3 912.2,481.4 918.1,480.1 924,479.9 929.9,479.6 935.8,479.2 937.9,479.2 940,479.3 942.1,479.5 944.2,479.7 946.3,479.7 948.4,479.6 950.5,479.5 952.6,479.5 954.7,479.4 956.8,479.4 958.9,479.4 961,479.4 963,479.5 965.1,479.7 967.2,479.9 969.3,480.1 971.4,480.1 973.5,480.2 975.6,480.2 977.7,480.1"/>
<polyline points="541.3,481.3 543.4,481.4 545.5,481.5 547.6,481.7 549.7,482 551.8,481.7 553.9,481.2 556,480.8 558,480.3 560.1,479.9 562.2,479.4 564.3,479 566.4,478.5 568.5,478 570.6,477.5 572.7,477.1 574.8,476.6 576.9,476.1 579,475.7 581.1,476 583.2,476.7 590.4,477.2 597.7,477.5 604.9,478.2 612.2,476.9 619.4,473.7 626.7,472.2 633.9,470.8 641.2,470.8 648.4,471.1 655.7,471.2 665.9,469.2 676.2,467.2 686.4,462.4 696.7,463 706.9,465.6 717.2,468.4 727.5,466 737.7,462.7 748,461.1 758.2,461.2 770.1,461.2 781.9,464.9 793.7,469.5 805.6,474.2 817.4,478.5 829.3,481.5 841.1,484.5 852.9,482.4 864.8,479.3 876.6,481.3 882.6,481.5 888.5,481.6 894.4,481.1 900.3,480.6 906.2,480.3 912.2,480.1 918.1,479.4 924,477.4 929.9,477.3 935.8,478.1 937.9,478.3 940,478.4 942.1,478.5 944.2,478.5 946.3,478.4 948.4,478.3 950.5,478.1 952.6,478 954.7,478.1 956.8,478.4 958.9,478.8 961,479.2 963,479.4 965.1,479.5 967.2,479.5 969.3,479.6 971.4,479.7 973.5,479.8 975.6,479.8 977.7,479.9"/>
<polyline points="541.3,478 543.4,478 545.5,477.9 547.6,477.7 549.7,477.6 551.8,477.4 553.9,477.2 556,477 558,476.8 560.1,476.6 562.2,476.4 564.3,476.1 566.4,475.9 568.5,475.7 570.6,475.4 572.7,475.2 574.8,475 576.9,474.8 579,474.9 581.1,474.9 583.2,474.5 590.4,475.3 597.7,477.1 604.9,477 612.2,475 619.4,473.4 626.7,470.7 633.9,469.2 641.2,468 648.4,467.7 655.7,467.6 665.9,465.9 676.2,462.7 686.4,460.8 696.7,460.7 706.9,462.5 717.2,463.5 727.5,462.8 737.7,460.9 748,459.6 758.2,461.2 770.1,459.9 781.9,463.4 793.7,468.1 805.6,471.7 817.4,473.8 829.3,473.6 841.1,471.9 852.9,473.2 864.8,479.1 876.6,478 882.6,478 888.5,477.8 894.4,477.5 900.3,477.1 906.2,476.6 912.2,476.4 918.1,476.5 924,476.6 929.9,475.9 935.8,476.9 937.9,477 940,477 942.1,477.1 944.2,477.1 946.3,477.1 948.4,477.2 950.5,477.3 952.6,477.6 954.7,477.7 956.8,477.6 958.9,477.4 961,477.3 963,477.2 965.1,477.2 967.2,477.1 969.3,477.1 971.4,477.1 973.5,477.1 975.6,477 977.7,477"/>
<polyline points="541.3,473.9 543.4,473.8 545.5,473.7 547.6,473.5 549.7,473.2 551.8,472.9 553.9,472.7 556,472.4 558,472.1 560.1,472 562.2,471.8 564.3,471.7 566.4,471.5 568.5,471.4 570.6,471.8 572.7,472.5 574.8,473.3 576.9,474.1 579,474.6 581.1,474.5 583.2,474.4 590.4,474 597.7,474.2 604.9,474 612.2,473.6 619.4,472.7 626.7,469.8 633.9,467.3 641.2,466 648.4,466.2 655.7,466.2 665.9,464.4 676.2,461.4 686.4,460.1 696.7,460.4 706.9,460.8 717.2,461.3 727.5,461.6 737.7,460.4 748,459 758.2,459 770.1,459.2 781.9,461.1 793.7,463.5 805.6,463.8 817.4,461.2 829.3,460.2 841.1,466.2 852.9,469.2 864.8,472.5 876.6,473.9 882.6,473.7 888.5,473.1 894.4,472.5 900.3,472 906.2,471.6 912.2,471.2 918.1,471.5 924,473.5 929.9,475.1 935.8,476.6 937.9,476.6 940,476.5 942.1,476.4 944.2,476.4 946.3,476.4 948.4,476.5 950.5,476.5 952.6,476.7 954.7,476.7 956.8,476.7 958.9,476.6 961,476.5 963,476.4 965.1,476.2 967.2,476.1 969.3,475.9 971.4,475.8 973.5,475.8 975.6,475.7 977.7,475.7"/>
<polyline points="541.3,470 543.4,470 545.5,470 547.6,470 549.7,469.9 551.8,469.8 553.9,469.6 556,469.4 558,469.1 560.1,469.4 562.2,469.7 564.3,470.1 566.4,470.6 568.5,471.1 570.6,471.3 572.7,471.2 574.8,471.1 576.9,470.9 579,470.8 581.1,471.1 583.2,472.2 590.4,473.1 597.7,472.7 604.9,472.6 612.2,472.5 619.4,471.2 626.7,469.6 633.9,466.4 641.2,464.1 648.4,461.7 655.7,461.3 665.9,461.6 676.2,460.1 686.4,459.8 696.7,458.1 706.9,457.7 717.2,458.2 727.5,458.6 737.7,458.8 748,458 758.2,457.3 770.1,458.5 781.9,460.6 793.7,462.8 805.6,462 817.4,459.4 829.3,458.8 841.1,463.6 852.9,468.7 864.8,469.1 876.6,470 882.6,470.1 888.5,470.1 894.4,470 900.3,469.6 906.2,469.2 912.2,469.3 918.1,470.4 924,472.4 929.9,474.7 935.8,473.9 937.9,473.9 940,474.1 942.1,474.5 944.2,475 946.3,475.5 948.4,476 950.5,476.3 952.6,476.3 954.7,476.2 956.8,476.1 958.9,475.9 961,475.8 963,475.6 965.1,475.5 967.2,475.3 969.3,475.1 971.4,475 973.5,474.8 975.6,474.8 977.7,474.7"/>
<polyline points="541.3,468.4 543.4,468.4 545.5,468.4 547.6,468.5 549.7,468.5 551.8,468.6 553.9,468.7 556,468.9 558,469 560.1,468.7 562.2,468.2 564.3,467.7 566.4,467.2 568.5,466.6 570.6,466.1 572.7,466.5 574.8,467.6 576.9,468.8 579,470 581.1,470.7 583.2,470.5 590.4,470.4 597.7,470.2 604.9,469.9 612.2,469.6 619.4,469.2 626.7,467.5 633.9,464.9 641.2,461.9 648.4,461.1 655.7,460.7 665.9,460.4 676.2,459.8 686.4,457.3 696.7,457.2 706.9,457.6 717.2,457.8 727.5,458.1 737.7,458.3 748,457.3 758.2,457.1 770.1,456.9 781.9,457.2 793.7,457 805.6,456.5 817.4,456.4 829.3,458.3 841.1,458.8 852.9,462 864.8,466.2 876.6,468.4 882.6,468.3 888.5,468.1 894.4,467.7 900.3,467.1 906.2,466.5 912.2,467.7 918.1,469.5 924,471.3 929.9,472.8 935.8,473.1 937.9,473 940,472.7 942.1,472 944.2,471.2 946.3,470.2 948.4,469.3 950.5,468.7 952.6,468.5 954.7,468.6 956.8,468.7 958.9,468.9 961,469.1 963,469.4 965.1,469.7 967.2,469.9 969.3,470.2 971.4,470.4 973.5,470.6 975.6,470.7 977.7,470.7"/>
<polyline points="541.3,465.1 543.4,465.1 545.5,465 547.6,464.9 549.7,464.8 551.8,464.6 553.9,464.4 556,464.1 558,463.8 560.1,463.6 562.2,463.3 564.3,463.1 566.4,463.3 568.5,464.2 570.6,465.3 572.7,465.5 574.8,465 576.9,464.5 579,464 581.1,463.6 583.2,463.2 590.4,462.2 597.7,461.2 604.9,461.2 612.2,461.9 619.4,462.7 626.7,463.5 633.9,463.6 641.2,461.2 648.4,459.1 655.7,457.3 665.9,457.4 676.2,457.5 686.4,457.2 696.7,457 706.9,457.4 717.2,457.7 727.5,458 737.7,457.8 748,456.7 758.2,455.4 770.1,455.8 781.9,455.7 793.7,455.4 805.6,454.9 817.4,454.6 829.3,457.4 841.1,458.1 852.9,461.8 864.8,464.1 876.6,465.1 882.6,465 888.5,464.6 894.4,464.4 900.3,464.6 906.2,465.7 912.2,467 918.1,468.7 924,468.6 929.9,469.7 935.8,471.3 937.9,470.7 940,469.7 942.1,468.7 944.2,467.8 946.3,467.7 948.4,467.7 950.5,467.7 952.6,467.6 954.7,467.7 956.8,467.9 958.9,468.1 961,468.2 963,468.3 965.1,468.3 967.2,468.3 969.3,468.3 971.4,468.1 973.5,468 975.6,467.8 977.7,467.7"/>
<polyline points="541.3,464.6 543.4,464.5 545.5,464.5 547.6,464.4 549.7,464.4 551.8,464.2 553.9,464.1 556,463.9 558,463.8 560.1,463.5 562.2,463.2 564.3,463 566.4,462.8 568.5,462.5 570.6,462.1 572.7,461.7 574.8,461.3 576.9,460.9 579,460.4 581.1,459.9 583.2,459.6 590.4,459.5 597.7,459.5 604.9,460.3 612.2,461.3 619.4,461.9 626.7,461.8 633.9,460.8 641.2,460.6 648.4,458.4 655.7,456.8 665.9,456.8 676.2,456.8 686.4,456.8 696.7,456.8 706.9,457.2 717.2,457.4 727.5,457.5 737.7,457.3 748,456.6 758.2,455.4 770.1,455.4 781.9,455.5 793.7,454.9 805.6,454.2 817.4,454.6 829.3,455.1 841.1,457.6 852.9,460.5 864.8,463.4 876.6,464.6 882.6,464.5 888.5,464.3 894.4,464 900.3,463.9 906.2,464.5 912.2,465.4 918.1,465.6 924,467.4 929.9,468 935.8,467.7 937.9,467.7 940,467.6 942.1,467.6 944.2,467.5 946.3,466.8 948.4,466.6 950.5,466.7 952.6,466.3 954.7,465.6 956.8,464.8 958.9,464.4 961,464.4 963,464.8 965.1,465.2 967.2,465.6 969.3,466 971.4,466.4 973.5,466.7 975.6,467 977.7,467.2"/>
<polyline points="541.3,461.3 543.4,461.3 545.5,461.2 547.6,461.1 549.7,460.9 551.8,460.7 553.9,460.5 556,460.2 558,460 560.1,460 562.2,460.7 564.3,461.6 566.4,462 568.5,461.8 570.6,461.5 572.7,461.1 574.8,460.8 576.9,460.5 579,460.1 581.1,459.8 583.2,459.5 590.4,458.6 597.7,459.1 604.9,458.5 612.2,458 619.4,458.4 626.7,459.1 633.9,459.9 641.2,458.9 648.4,456.9 655.7,456.5 665.9,456.5 676.2,456.6 686.4,456.4 696.7,455.3 706.9,452.8 717.2,453 727.5,453.7 737.7,454.6 748,454.6 758.2,454.1 770.1,454 781.9,452.6 793.7,452.7 805.6,452.7 817.4,453.4 829.3,453.6 841.1,454 852.9,457.4 864.8,460.8 876.6,461.3 882.6,461.1 888.5,460.6 894.4,459.8 900.3,460.1 906.2,462.1 912.2,462.8 918.1,464.4 924,464.7 929.9,464.6 935.8,464.6 937.9,464.9 940,465.2 942.1,465.5 944.2,465.7 946.3,465.6 948.4,464.9 950.5,463.8 952.6,462.7 954.7,462.2 956.8,462.5 958.9,462.6 961,462.1 963,461.5 965.1,460.7 967.2,460.1 969.3,459.5 971.4,459.1 973.5,459 975.6,459.1 977.7,459.1"/>
<polyline points="541.3,454.6 543.4,454.5 545.5,454.4 547.6,454.7 549.7,455.2 551.8,455.8 553.9,456.6 556,457.4 558,458.3 560.1,458.9 562.2,458.9 564.3,458.6 566.4,458.4 568.5,458.3 570.6,458.3 572.7,458.4 574.8,458.4 576.9,458.3 579,458.1 581.1,457.9 583.2,457.6 590.4,457.1 597.7,456 604.9,454.8 612.2,453.9 619.4,453.3 626.7,453.2 633.9,453.3 641.2,453.6 648.4,454.3 655.7,455.4 665.9,455.5 676.2,455.5 686.4,454.6 696.7,452.2 706.9,451.8 717.2,452.3 727.5,452.9 737.7,453.8 748,454.5 758.2,453.5 770.1,453.4 781.9,451.9 793.7,452 805.6,452.5 817.4,452.9 829.3,453.1 841.1,452.6 852.9,452.2 864.8,453.3 876.6,454.6 882.6,454.4 888.5,455.3 894.4,457.6 900.3,459.3 906.2,460.3 912.2,462 918.1,461.5 924,460.1 929.9,458.6 935.8,457.7 937.9,457.9 940,458.3 942.1,458.8 944.2,459.3 946.3,459.9 948.4,460.5 950.5,461.1 952.6,461.6 954.7,461.5 956.8,460.4 958.9,459.4 961,458.6 963,458.4 965.1,458.4 967.2,458.6 969.3,458.8 971.4,458.9 973.5,458.8 975.6,458.6 977.7,458.5"/>
<polyline points="541.3,454 543.4,454.1 545.5,454.3 547.6,454.3 549.7,454.2 551.8,453.9 553.9,453.7 556,453.8 558,454.6 560.1,455.4 562.2,456 564.3,456.6 566.4,456.9 568.5,456.9 570.6,456.6 572.7,456.2 574.8,455.8 576.9,455.3 579,454.8 581.1,454.8 583.2,455.5 590.4,455.9 597.7,455 604.9,453.4 612.2,452.1 619.4,452.2 626.7,452.4 633.9,452.7 641.2,453 648.4,452.9 655.7,452.2 665.9,452.4 676.2,452.8 686.4,452.3 696.7,451.4 706.9,451.2 717.2,451.2 727.5,451.3 737.7,451.6 748,452.2 758.2,453.5 770.1,451.8 781.9,451 793.7,450.6 805.6,449.8 817.4,450 829.3,450.7 841.1,450.6 852.9,450.6 864.8,453 876.6,454 882.6,454.2 888.5,454.3 894.4,456.4 900.3,458 906.2,458.8 912.2,458 918.1,456.7 924,455.3 929.9,454 935.8,454.9 937.9,454.7 940,454.3 942.1,454 944.2,454.1 946.3,454.5 948.4,454.9 950.5,455.3 952.6,455.8 954.7,456.1 956.8,456.5 958.9,456.7 961,456.7 963,456.2 965.1,455.3 967.2,454.5 969.3,453.8 971.4,453.4 973.5,453.1 975.6,453 977.7,453"/>
<polyline points="541.3,449.7 543.4,449.7 545.5,449.7 547.6,450 549.7,450.9 551.8,451.9 553.9,452.9 556,453.4 558,453.1 560.1,452.7 562.2,452.4 564.3,452 566.4,451.7 568.5,451.5 570.6,451.4 572.7,451.7 574.8,452.3 576.9,453.1 579,454 581.1,454.3 583.2,453.8 590.4,452.8 597.7,452.1 604.9,452 612.2,451.7 619.4,451.7 626.7,451.8 633.9,452 641.2,452.2 648.4,452.2 655.7,452.2 665.9,452.2 676.2,451.8 686.4,450.7 696.7,451.1 706.9,450.7 717.2,449.4 727.5,448.9 737.7,448.6 748,450.8 758.2,453.1 770.1,451.2 781.9,450.3 793.7,448.6 805.6,447.4 817.4,448.9 829.3,450.2 841.1,450.6 852.9,450.5 864.8,449.8 876.6,449.7 882.6,451.8 888.5,454.2 894.4,455.8 900.3,456.7 906.2,455.9 912.2,454.6 918.1,453.4 924,452.4 929.9,453.6 935.8,452.4 937.9,452.6 940,453 942.1,453.3 944.2,453.3 946.3,453.1 948.4,453 950.5,452.9 952.6,452.8 954.7,452.8 956.8,452.8 958.9,452.8 961,452.8 963,452.8 965.1,452.8 967.2,452.8 969.3,452.7 971.4,452.7 973.5,452.7 975.6,452.7 977.7,452.7"/>
<polyline points="541.3,449.2 543.4,449.2 545.5,449.3 547.6,449.7 549.7,449.7 551.8,449.7 553.9,449.7 556,449.7 558,449.8 560.1,449.8 562.2,449.8 564.3,449.9 566.4,450 568.5,450 570.6,450.2 572.7,450.3 574.8,450.3 576.9,450.4 579,450.5 581.1,450.5 583.2,450.7 590.4,450.9 597.7,451 604.9,451.2 612.2,451.2 619.4,450.4 626.7,450.4 633.9,450.4 641.2,450.2 648.4,449.8 655.7,449.4 665.9,449.5 676.2,449.9 686.4,450.2 696.7,448.9 706.9,448.5 717.2,448.6 727.5,448.7 737.7,448.6 748,448.3 758.2,447.5 770.1,449.7 781.9,446.9 793.7,446.8 805.6,446.4 817.4,448.7 829.3,447.9 841.1,449 852.9,449.6 864.8,449.7 876.6,449.2 882.6,451.8 888.5,453.7 894.4,453.1 900.3,453.9 906.2,454.4 912.2,453.8 918.1,452.5 924,451.8 929.9,451.2 935.8,451.9 937.9,451.9 940,451.8 942.1,451.6 944.2,451.4 946.3,451.3 948.4,451.2 950.5,451.2 952.6,451.2 954.7,451.3 956.8,451.3 958.9,451.4 961,451.5 963,451.5 965.1,451.5 967.2,451.4 969.3,451.2 971.4,451.3 973.5,451.4 975.6,451.5 977.7,451.5"/>
<polyline points="541.3,449 543.4,449 545.5,449 547.6,449.1 549.7,449.1 551.8,449.2 553.9,449.2 556,449.3 558,449.3 560.1,449.4 562.2,449.4 564.3,449.4 566.4,449.5 568.5,449.5 570.6,449.5 572.7,449.7 574.8,449.8 576.9,449.9 579,449.9 581.1,449.9 583.2,449.9 590.4,449.9 597.7,450 604.9,450.1 612.2,450.2 619.4,449.1 626.7,447.3 633.9,446.2 641.2,447 648.4,448.4 655.7,449.2 665.9,449.3 676.2,449.6 686.4,449.9 696.7,447.1 706.9,445.6 717.2,445.9 727.5,446.5 737.7,447.5 748,448.1 758.2,447.5 770.1,448.9 781.9,446.8 793.7,442.3 805.6,445.6 817.4,445.6 829.3,446.7 841.1,448.6 852.9,449.1 864.8,449 876.6,449 882.6,448.8 888.5,450.8 894.4,452.4 900.3,451.7 906.2,450.6 912.2,449.7 918.1,450.4 924,451 929.9,450.4 935.8,449.8 937.9,449.9 940,450 942.1,450 944.2,450.1 946.3,450.1 948.4,450.1 950.5,450.1 952.6,450.1 954.7,450.1 956.8,450.2 958.9,450.2 961,450.4 963,450.6 965.1,450.8 967.2,451 969.3,451 971.4,450.6 973.5,450 975.6,449.4 977.7,449.1"/>
<polyline points="541.3,448.6 543.4,448.6 545.5,448.8 547.6,449 549.7,449.1 551.8,449.1 553.9,449.1 556,449.1 558,449.1 560.1,449.1 562.2,449.1 564.3,449.1 566.4,449.2 568.5,449.2 570.6,449.5 572.7,449.6 574.8,449.6 576.9,449.7 579,449.7 581.1,449.8 583.2,449.8 590.4,449.9 597.7,449.6 604.9,449.1 612.2,448.2 619.4,446.6 626.7,445.6 633.9,445.2 641.2,445 648.4,445.5 655.7,447.1 665.9,447 676.2,447.2 686.4,447.8 696.7,446.8 706.9,444.3 717.2,444.3 727.5,444.5 737.7,445 748,446.2 758.2,446.8 770.1,446.4 781.9,446.7 793.7,441.4 805.6,442.9 817.4,444.4 829.3,446.5 841.1,447.8 852.9,448.9 864.8,448.8 876.6,448.6 882.6,446.4 888.5,445.6 894.4,445.6 900.3,445.5 906.2,446.1 912.2,447.3 918.1,447.6 924,448.5 929.9,449.3 935.8,449.7 937.9,449.8 940,449.8 942.1,449.8 944.2,449.8 946.3,449.7 948.4,449.5 950.5,449.4 952.6,449.3 954.7,449.3 956.8,449.5 958.9,449.6 961,449.5 963,449.4 965.1,449.2 967.2,449 969.3,448.7 971.4,448.5 973.5,448.3 975.6,448.2 977.7,448.1"/>
<polyline points="541.3,447.5 543.4,447.9 545.5,448.4 547.6,448.5 549.7,448.5 551.8,448.5 553.9,448.5 556,448.5 558,448.5 560.1,448.5 562.2,448.5 564.3,448.5 566.4,448.4 568.5,448.4 570.6,448.4 572.7,448.3 574.8,448.3 576.9,448.2 579,448.1 581.1,448 583.2,447.8 590.4,447.7 597.7,447.7 604.9,447 612.2,446.2 619.4,445.6 626.7,444.6 633.9,444.7 641.2,444.1 648.4,444.8 655.7,445.9 665.9,446 676.2,446.5 686.4,446.4 696.7,446.2 706.9,444.1 717.2,441.4 727.5,441.3 737.7,444.8 748,445.2 758.2,446.8 770.1,445.4 781.9,443.4 793.7,440.6 805.6,437.2 817.4,442 829.3,444.8 841.1,446.1 852.9,447.4 864.8,447.6 876.6,447.5 882.6,446.3 888.5,443.8 894.4,442 900.3,443.3 906.2,444.3 912.2,445.6 918.1,446.4 924,446.3 929.9,446.4 935.8,446 937.9,446.1 940,446.3 942.1,446.6 944.2,447 946.3,447.4 948.4,447.8 950.5,448.2 952.6,448.4 954.7,448.5 956.8,448.5 958.9,448.4 961,448.3 963,448.2 965.1,448.2 967.2,448.1 969.3,448 971.4,448 973.5,448 975.6,448.1 977.7,448.1"/>
<polyline points="541.3,444.9 543.4,445.1 545.5,445.3 547.6,445.5 549.7,445.6 551.8,445.8 553.9,445.8 556,445.9 558,445.9 560.1,445.8 562.2,445.8 564.3,446.1 566.4,446.9 568.5,447.6 570.6,447.9 572.7,447.9 574.8,447.6 576.9,447.2 579,446.8 581.1,446.4 583.2,446.7 590.4,446.6 597.7,445.2 604.9,443.4 612.2,442.3 619.4,442.5 626.7,442.7 633.9,441.2 641.2,442.5 648.4,444.2 655.7,444.3 665.9,445.1 676.2,446.3 686.4,446.4 696.7,444.5 706.9,443 717.2,439.3 727.5,437.3 737.7,441 748,444.5 758.2,445 770.1,443.1 781.9,438.4 793.7,439.6 805.6,436.9 817.4,440.5 829.3,441.8 841.1,443.6 852.9,444.8 864.8,444.8 876.6,444.9 882.6,445.3 888.5,443.5 894.4,441.3 900.3,441.3 906.2,442.1 912.2,442.7 918.1,444.3 924,445.1 929.9,445.4 935.8,445.5 937.9,445.7 940,446.1 942.1,446.3 944.2,446.4 946.3,446.5 948.4,446.6 950.5,446.7 952.6,446.7 954.7,446.8 956.8,446.9 958.9,447.1 961,447.2 963,447.3 965.1,447.4 967.2,447.5 969.3,447.6 971.4,447.6 973.5,447.5 975.6,447.4 977.7,447.4"/>
<polyline points="541.3,444.7 543.4,444.2 545.5,443.2 547.6,442.2 549.7,441.1 551.8,440.9 553.9,441.7 556,442.5 558,443.3 560.1,444.2 562.2,445.2 564.3,445.7 566.4,445.5 568.5,445.4 570.6,445.2 572.7,445 574.8,444.8 576.9,445.1 579,445.7 581.1,446 583.2,445.7 590.4,444.3 597.7,442.5 604.9,441.5 612.2,441.3 619.4,441 626.7,440.8 633.9,440.3 641.2,441.6 648.4,443.3 655.7,443.6 665.9,443.6 676.2,443.6 686.4,443.7 696.7,444 706.9,442.8 717.2,438 727.5,436.9 737.7,440.8 748,444.2 758.2,445 770.1,442.5 781.9,437.8 793.7,435.3 805.6,436.3 817.4,437.6 829.3,441.1 841.1,443.3 852.9,444.3 864.8,444.7 876.6,444.7 882.6,443.3 888.5,441.4 894.4,440.8 900.3,439.7 906.2,440.9 912.2,441.9 918.1,442.7 924,443.6 929.9,443.4 935.8,443.6 937.9,443.7 940,443.6 942.1,443.5 944.2,443.3 946.3,443.1 948.4,443.1 950.5,443.2 952.6,443.2 954.7,443.3 956.8,443.3 958.9,443.4 961,443.4 963,443.5 965.1,443.6 967.2,443.7 969.3,443.9 971.4,444.2 973.5,444.6 975.6,445 977.7,445.1"/>
<polyline points="541.3,439 543.4,439.1 545.5,439.4 547.6,439.8 549.7,440.3 551.8,440 553.9,438.9 556,438.1 558,438.8 560.1,439.5 562.2,440.2 564.3,441 566.4,441.7 568.5,442.5 570.6,443.2 572.7,443.9 574.8,444.5 576.9,444.6 579,444.3 581.1,444.1 583.2,443.8 590.4,442.9 597.7,441.3 604.9,439.5 612.2,439.4 619.4,438.2 626.7,437.7 633.9,438.9 641.2,440.5 648.4,442.6 655.7,442.7 665.9,442.8 676.2,443 686.4,443.4 696.7,443.9 706.9,439.9 717.2,435.8 727.5,435.7 737.7,435.4 748,438.4 758.2,439.8 770.1,437.9 781.9,434.5 793.7,433.5 805.6,435.5 817.4,437.3 829.3,440.4 841.1,440.5 852.9,440.6 864.8,440.2 876.6,439 882.6,439.5 888.5,440.4 894.4,440.2 900.3,438.9 906.2,439.9 912.2,441 918.1,440.4 924,440.8 929.9,442.4 935.8,442.8 937.9,442.8 940,442.8 942.1,442.8 944.2,442.9 946.3,442.8 948.4,442.6 950.5,442.2 952.6,441.8 954.7,441.3 956.8,440.7 958.9,440.2 961,439.8 963,439.8 965.1,440.4 967.2,441 969.3,441.6 971.4,442.1 973.5,442.4 975.6,442.7 977.7,442.7"/>
<polyline points="541.3,437.6 543.4,437.4 545.5,437.1 547.6,436.5 549.7,436.4 551.8,436.9 553.9,437.5 556,437.9 558,437 560.1,436.1 562.2,435.4 564.3,434.9 566.4,434.4 568.5,434.1 570.6,434.3 572.7,434.7 574.8,435.2 576.9,435.8 579,436.4 581.1,437 583.2,437.7 590.4,438.8 597.7,439.5 604.9,439.2 612.2,437.8 619.4,437.2 626.7,436.4 633.9,438.4 641.2,439.8 648.4,440.4 655.7,440.9 665.9,440.3 676.2,438.5 686.4,436.3 696.7,434.6 706.9,433.7 717.2,434.6 727.5,432.7 737.7,433.1 748,437.3 758.2,439.8 770.1,437.2 781.9,433.5 793.7,432.5 805.6,433.9 817.4,434.4 829.3,439.1 841.1,439.8 852.9,437.3 864.8,436.2 876.6,437.6 882.6,437 888.5,436.3 894.4,437.2 900.3,437.3 906.2,435.5 912.2,436.7 918.1,438.3 924,439.8 929.9,441 935.8,441.4 937.9,441.3 940,441.2 942.1,441 944.2,440.7 946.3,440.4 948.4,439.9 950.5,439.5 952.6,438.9 954.7,438.4 956.8,438.2 958.9,438.5 961,439 963,439.3 965.1,439.2 967.2,439.4 969.3,439.9 971.4,440.5 973.5,441 975.6,441.4 977.7,441.5"/>
<polyline points="541.3,435.5 543.4,435.5 545.5,435.7 547.6,436 549.7,435.9 551.8,435.1 553.9,434.3 556,433.6 558,433.2 560.1,433.2 562.2,433.3 564.3,433.4 566.4,433.6 568.5,433.9 570.6,433.8 572.7,433.6 574.8,433.4 576.9,433.6 579,434.2 581.1,434.8 583.2,435.4 590.4,436.7 597.7,438.1 604.9,438.6 612.2,436.4 619.4,434 626.7,434.9 633.9,437.4 641.2,439 648.4,439.1 655.7,439 665.9,438.6 676.2,437.7 686.4,435.8 696.7,432.9 706.9,430.1 717.2,432 727.5,432.2 737.7,433 748,437 758.2,438.6 770.1,437 781.9,432.8 793.7,432.4 805.6,432.7 817.4,432.4 829.3,434.7 841.1,435.9 852.9,435.7 864.8,434.9 876.6,435.5 882.6,435.7 888.5,435.9 894.4,436.6 900.3,437 906.2,435.3 912.2,435.5 918.1,437.3 924,437.7 929.9,437 935.8,437.2 937.9,437 940,436.8 942.1,436.5 944.2,436.3 946.3,436.2 948.4,436.4 950.5,436.7 952.6,437 954.7,437.4 956.8,437.4 958.9,437 961,436.4 963,435.8 965.1,435.7 967.2,436 969.3,436.1 971.4,436.1 973.5,436 975.6,436 977.7,435.9"/>
<polyline points="541.3,433.6 543.4,433.5 545.5,433.5 547.6,433.4 549.7,433.4 551.8,433.3 553.9,433.2 556,433.2 558,433 560.1,432.5 562.2,432.3 564.3,432.1 566.4,432.1 568.5,432.1 570.6,432.2 572.7,432.6 574.8,433.1 576.9,433.2 579,433.1 581.1,433.2 583.2,433.4 590.4,433.9 597.7,434.4 604.9,434.7 612.2,434.2 619.4,433.1 626.7,434.6 633.9,436.7 641.2,437.1 648.4,435.4 655.7,434.7 665.9,434.1 676.2,432.8 686.4,431.3 696.7,429.8 706.9,428.7 717.2,430.1 727.5,431.9 737.7,430.7 748,426.2 758.2,422.9 770.1,427.5 781.9,432.7 793.7,431.1 805.6,431.5 817.4,431.3 829.3,429.2 841.1,430.6 852.9,432.7 864.8,434.2 876.6,433.6 882.6,434 888.5,435.2 894.4,436.1 900.3,435.5 906.2,434.8 912.2,432.7 918.1,433.3 924,434.8 929.9,435.7 935.8,435.5 937.9,435.4 940,435.3 942.1,435.3 944.2,435.2 946.3,434.9 948.4,434.4 950.5,433.8 952.6,433.2 954.7,432.7 956.8,432.2 958.9,432.9 961,433.8 963,434.6 965.1,434.9 967.2,434.5 969.3,434.1 971.4,433.7 973.5,433.4 975.6,433.2 977.7,433.2"/>
<polyline points="541.3,432.4 543.4,432.4 545.5,432.3 547.6,432.3 549.7,432.2 551.8,432 553.9,431.8 556,431.4 558,430.9 560.1,430.3 562.2,430.2 564.3,430.7 566.4,431.2 568.5,431.7 570.6,432.1 572.7,432.2 574.8,432.4 576.9,432.5 579,432.7 581.1,432.7 583.2,432.6 590.4,432.4 597.7,432.3 604.9,432.3 612.2,432.6 619.4,432.9 626.7,433.7 633.9,433.5 641.2,432.5 648.4,432 655.7,432.3 665.9,432.1 676.2,431.1 686.4,429.5 696.7,428.2 706.9,428.5 717.2,427.5 727.5,429.1 737.7,428.2 748,424.7 758.2,422.1 770.1,426.1 781.9,430.6 793.7,429.4 805.6,429.8 817.4,429.6 829.3,428.4 841.1,429.1 852.9,430.6 864.8,431.9 876.6,432.4 882.6,433.4 888.5,434.6 894.4,433.5 900.3,431.6 906.2,433.1 912.2,432.2 918.1,429.8 924,429.2 929.9,430.5 935.8,431.2 937.9,430.9 940,430.4 942.1,429.9 944.2,429.3 946.3,428.6 948.4,428.2 950.5,428.6 952.6,429.5 954.7,430.5 956.8,431.4 958.9,431.3 961,430.8 963,430.3 965.1,430.1 967.2,430.2 969.3,430.3 971.4,430.3 973.5,430.3 975.6,430.3 977.7,430.3"/>
<polyline points="541.3,430.2 543.4,430.2 545.5,430.2 547.6,430.2 549.7,430.2 551.8,430.2 553.9,430.1 556,430 558,429.8 560.1,429.8 562.2,429.7 564.3,429.2 566.4,428.6 568.5,428.5 570.6,428.5 572.7,428.6 574.8,428.6 576.9,428.6 579,428.6 581.1,428.5 583.2,428.5 590.4,428.2 597.7,427.9 604.9,427.6 612.2,428.5 619.4,431.1 626.7,431.3 633.9,431.5 641.2,430.5 648.4,431.7 655.7,430.8 665.9,430.4 676.2,429.6 686.4,428.3 696.7,426.3 706.9,426.1 717.2,425.8 727.5,427.6 737.7,427.7 748,423.6 758.2,421.9 770.1,423.9 781.9,427.4 793.7,428.7 805.6,429.6 817.4,428.6 829.3,427.4 841.1,429 852.9,430.5 864.8,431.2 876.6,430.2 882.6,430.1 888.5,430 894.4,430.4 900.3,431.4 906.2,430.3 912.2,431.1 918.1,429.4 924,427.3 929.9,426.7 935.8,426.6 937.9,426.5 940,426.4 942.1,426.4 944.2,426.7 946.3,427.1 948.4,427.6 950.5,427.4 952.6,427.1 954.7,427.8 956.8,428.4 958.9,429 961,429.4 963,429.8 965.1,429.8 967.2,429.4 969.3,429.1 971.4,428.9 973.5,428.7 975.6,428.6 977.7,428.6"/>
<polyline points="541.3,428.7 543.4,428.7 545.5,428.7 547.6,428.8 549.7,428.8 551.8,428.9 553.9,429 556,429.2 558,429.4 560.1,429.4 562.2,428.8 564.3,428.3 566.4,428.4 568.5,427.9 570.6,427.3 572.7,426.8 574.8,426.3 576.9,426 579,425.8 581.1,425.7 583.2,425.6 590.4,425.5 597.7,425.9 604.9,426.7 612.2,427.1 619.4,429.5 626.7,430.9 633.9,429 641.2,430.2 648.4,428.8 655.7,429.7 665.9,429.4 676.2,428.7 686.4,427.5 696.7,426.2 706.9,425 717.2,425.6 727.5,426.1 737.7,423.3 748,422 758.2,421.9 770.1,421.8 781.9,426 793.7,428.5 805.6,427.4 817.4,426 829.3,425.9 841.1,426.9 852.9,428.1 864.8,428.5 876.6,428.7 882.6,427.8 888.5,427.5 894.4,428.8 900.3,430.2 906.2,429.9 912.2,428.6 918.1,427.5 924,426.4 929.9,424.3 935.8,423.8 937.9,424 940,424.1 942.1,424.3 944.2,424.3 946.3,424.3 948.4,425.3 950.5,426.2 952.6,427 954.7,426.7 956.8,426.5 958.9,426.3 961,426.2 963,426.1 965.1,426 967.2,425.9 969.3,425.8 971.4,425.7 973.5,425.7 975.6,425.6 977.7,425.6"/>
<polyline points="541.3,425.4 543.4,425.4 545.5,425.6 547.6,425.9 549.7,426.2 551.8,426.5 553.9,426.9 556,427.3 558,427.7 560.1,427.9 562.2,428.1 564.3,427.8 566.4,426.8 568.5,425.9 570.6,425.3 572.7,425 574.8,424.7 576.9,424.5 579,424.7 581.1,424.9 583.2,425.2 590.4,425.4 597.7,425.3 604.9,425.4 612.2,426.2 619.4,426.6 626.7,427 633.9,428.4 641.2,427.7 648.4,428.3 655.7,428 665.9,427.8 676.2,427.3 686.4,426.5 696.7,425.8 706.9,423.9 717.2,424.2 727.5,424 737.7,422.6 748,421.9 758.2,421.9 770.1,421.5 781.9,423.2 793.7,427 805.6,425.7 817.4,425.5 829.3,425.1 841.1,426.5 852.9,427 864.8,425.7 876.6,425.4 882.6,425.8 888.5,426.8 894.4,427.6 900.3,428.3 906.2,429.1 912.2,427.4 918.1,426.7 924,425.6 929.9,423.8 935.8,421.4 937.9,421.2 940,421.3 942.1,422 944.2,423.1 946.3,424.2 948.4,424 950.5,423.7 952.6,423.2 954.7,422.6 956.8,422 958.9,421.6 961,421.6 963,421.7 965.1,421.8 967.2,421.9 969.3,421.9 971.4,422 973.5,422 975.6,422 977.7,422"/>
<polyline points="541.3,425.3 543.4,425.3 545.5,425.3 547.6,425.3 549.7,425.3 551.8,425.3 553.9,425.3 556,425.3 558,425.2 560.1,425.2 562.2,425.2 564.3,425.1 566.4,425 568.5,424.8 570.6,424.1 572.7,423.8 574.8,424 576.9,424.4 579,424.3 581.1,424.2 583.2,424.1 590.4,424.2 597.7,424.4 604.9,424.6 612.2,425.1 619.4,426.2 626.7,425.7 633.9,424.8 641.2,425 648.4,424.2 655.7,423.5 665.9,423.3 676.2,422.8 686.4,422.1 696.7,421.7 706.9,423.3 717.2,423.7 727.5,422.5 737.7,420.9 748,419.9 758.2,421.9 770.1,421.1 781.9,422.5 793.7,426.4 805.6,424.5 817.4,424.1 829.3,423.2 841.1,424.6 852.9,424.9 864.8,425.2 876.6,425.3 882.6,425.6 888.5,425.9 894.4,426.7 900.3,427.4 906.2,427.4 912.2,427.2 918.1,425.4 924,424.9 929.9,423.4 935.8,421.1 937.9,421 940,421 942.1,421 944.2,421 946.3,420.9 948.4,420.9 950.5,421 952.6,421 954.7,421.2 956.8,421.3 958.9,421.2 961,420.7 963,420.6 965.1,420.6 967.2,420.6 969.3,420.6 971.4,420.6 973.5,420.6 975.6,420.6 977.7,420.6"/>
<polyline points="541.3,424.9 543.4,424.8 545.5,424.8 547.6,424.7 549.7,424.7 551.8,424.6 553.9,424.5 556,424.5 558,424.4 560.1,424.3 562.2,424.2 564.3,424.1 566.4,424 568.5,423.9 570.6,423.8 572.7,423 574.8,423.2 576.9,423.1 579,423 581.1,422.8 583.2,422.7 590.4,422.2 597.7,421.8 604.9,422.2 612.2,424.3 619.4,424.7 626.7,425 633.9,423.9 641.2,422.2 648.4,421.1 655.7,420.9 665.9,420.8 676.2,420.6 686.4,420.6 696.7,421.4 706.9,423 717.2,422.6 727.5,421.9 737.7,420.6 748,419.3 758.2,417.5 770.1,418.5 781.9,422.5 793.7,424 805.6,424.4 817.4,423.8 829.3,423 841.1,419.7 852.9,421.7 864.8,423.9 876.6,424.9 882.6,424.8 888.5,424.3 894.4,422.6 900.3,421.5 906.2,422.4 912.2,424 918.1,425 924,422.8 929.9,420.5 935.8,421 937.9,420.5 940,420.4 942.1,420.7 944.2,420.7 946.3,420.7 948.4,420.7 950.5,420.7 952.6,420.7 954.7,420.7 956.8,420.7 958.9,420.7 961,420.6 963,420.3 965.1,420 967.2,419.8 969.3,419.6 971.4,419.6 973.5,419.5 975.6,419.5 977.7,419.5"/>
<polyline points="541.3,417.4 543.4,417.4 545.5,417.5 547.6,417.5 549.7,417.6 551.8,417.7 553.9,417.8 556,417.9 558,418.6 560.1,419.3 562.2,420 564.3,420.7 566.4,421.4 568.5,422.1 570.6,422.6 572.7,423 574.8,421.8 576.9,420.6 579,419.4 581.1,418.2 583.2,417.3 590.4,416.8 597.7,417.1 604.9,420.2 612.2,422.1 619.4,423.1 626.7,422.9 633.9,423.3 641.2,421.4 648.4,420.3 655.7,419.7 665.9,419.8 676.2,419.9 686.4,419.9 696.7,420.2 706.9,421.1 717.2,422.4 727.5,421.4 737.7,420.3 748,418.1 758.2,417.2 770.1,418.3 781.9,420.5 793.7,423.5 805.6,423 817.4,420.9 829.3,421.9 841.1,418.3 852.9,416.7 864.8,417.2 876.6,417.4 882.6,417.4 888.5,417.5 894.4,418 900.3,418.6 906.2,418.1 912.2,417.8 918.1,417.5 924,417 929.9,418.5 935.8,420.7 937.9,420.3 940,419.8 942.1,419.3 944.2,418.7 946.3,418.3 948.4,418.6 950.5,418.9 952.6,419 954.7,419.1 956.8,419.1 958.9,419.1 961,418.9 963,418.6 965.1,418.1 967.2,417.6 969.3,417.1 971.4,416.7 973.5,416.7 975.6,416.8 977.7,416.9"/>
<polyline points="541.3,416.6 543.4,416.6 545.5,416.6 547.6,416.6 549.7,416.6 551.8,416.7 553.9,417.3 556,417.9 558,418 560.1,418.1 562.2,418.2 564.3,418.2 566.4,418.3 568.5,418.3 570.6,418.2 572.7,418.1 574.8,417.9 576.9,417.7 579,417.5 581.1,417.2 583.2,416.6 590.4,415.4 597.7,416.8 604.9,418.9 612.2,420.2 619.4,420.6 626.7,421.6 633.9,420.4 641.2,419.8 648.4,419.2 655.7,419.7 665.9,419.2 676.2,418.1 686.4,417.7 696.7,419 706.9,420.4 717.2,420.4 727.5,420.7 737.7,418.4 748,417.3 758.2,416.7 770.1,417.3 781.9,419.6 793.7,421.7 805.6,422.9 817.4,420.5 829.3,417.9 841.1,417.2 852.9,416.3 864.8,416.4 876.6,416.6 882.6,416.6 888.5,416.7 894.4,417 900.3,416.9 906.2,415.9 912.2,413.9 918.1,413.3 924,415.9 929.9,418.3 935.8,418.5 937.9,419.3 940,419.6 942.1,419 944.2,418.5 946.3,418.1 948.4,417.5 950.5,417 952.6,416.4 954.7,415.9 956.8,415.4 958.9,414.9 961,414.6 963,414.6 965.1,414.8 967.2,415.2 969.3,415.6 971.4,415.8 973.5,415.7 975.6,415.5 977.7,415.4"/>
<polyline points="541.3,415.5 543.4,415.6 545.5,415.7 547.6,416 549.7,416.3 551.8,416.5 553.9,416.5 556,416.4 558,416.4 560.1,416.3 562.2,416.2 564.3,416.2 566.4,416.1 568.5,416 570.6,415.8 572.7,415.7 574.8,415.5 576.9,415.2 579,415.2 581.1,415.2 583.2,415.2 590.4,414.4 597.7,415.9 604.9,416.6 612.2,417.5 619.4,419.8 626.7,419.6 633.9,418.9 641.2,418.1 648.4,418.2 655.7,417.6 665.9,417.3 676.2,417 686.4,417 696.7,417.9 706.9,419 717.2,420 727.5,419.1 737.7,418 748,416.4 758.2,416.7 770.1,416.5 781.9,418.8 793.7,420.8 805.6,422.1 817.4,419.4 829.3,416.8 841.1,416 852.9,415.3 864.8,415.4 876.6,415.5 882.6,415.5 888.5,415.3 894.4,414.7 900.3,413.6 906.2,412.5 912.2,411.4 918.1,413.1 924,415.6 929.9,416.4 935.8,417.3 937.9,417.2 940,416.9 942.1,417.2 944.2,417.6 946.3,417.6 948.4,417.1 950.5,416.5 952.6,415.9 954.7,415.4 956.8,414.9 958.9,414.4 961,413.9 963,413.4 965.1,413 967.2,412.7 969.3,412.7 971.4,412.9 973.5,413.1 975.6,413.3 977.7,413.4"/>
<polyline points="541.3,415.1 543.4,415 545.5,414.8 547.6,414.5 549.7,414.4 551.8,414.4 553.9,414.5 556,414.6 558,414.7 560.1,414.8 562.2,414.8 564.3,414.9 566.4,414.9 568.5,415 570.6,415 572.7,415.1 574.8,415.1 576.9,415.1 579,414.9 581.1,414.5 583.2,414 590.4,413 597.7,414.1 604.9,415.1 612.2,416.4 619.4,415.9 626.7,415.9 633.9,416 641.2,417.1 648.4,417.1 655.7,416.9 665.9,416.9 676.2,416.4 686.4,416.2 696.7,416.8 706.9,417.3 717.2,418.9 727.5,417.4 737.7,416.8 748,416.1 758.2,416.1 770.1,416.2 781.9,416.2 793.7,417 805.6,417.9 817.4,418.4 829.3,416.3 841.1,414.9 852.9,414.4 864.8,414.9 876.6,415.1 882.6,414.9 888.5,414.4 894.4,413.5 900.3,412.2 906.2,410.9 912.2,410.9 918.1,412 924,413 929.9,415.2 935.8,415.7 937.9,416 940,416.2 942.1,415.8 944.2,415.3 946.3,414.7 948.4,414.1 950.5,413.6 952.6,413 954.7,412.4 956.8,412 958.9,411.8 961,412 963,412.1 965.1,412.1 967.2,412 969.3,412 971.4,412.2 973.5,412.4 975.6,412.6 977.7,412.6"/>
<polyline points="541.3,414.7 543.4,414.7 545.5,414.5 547.6,414.3 549.7,414 551.8,413.5 553.9,413 556,412.7 558,412.5 560.1,412.2 562.2,411.9 564.3,411.6 566.4,411.3 568.5,411 570.6,410.7 572.7,410.4 574.8,410.1 576.9,410.1 579,410.4 581.1,410.8 583.2,411.1 590.4,412.7 597.7,412.9 604.9,414.4 612.2,415.5 619.4,415.6 626.7,414.6 633.9,415.5 641.2,415.4 648.4,416 655.7,416.9 665.9,416.8 676.2,416.3 686.4,415.2 696.7,414.7 706.9,416.7 717.2,416.5 727.5,415.6 737.7,414.4 748,415.5 758.2,416.1 770.1,415.8 781.9,416.1 793.7,417 805.6,417.2 817.4,416.5 829.3,415.4 841.1,414.3 852.9,414.2 864.8,414.6 876.6,414.7 882.6,414.5 888.5,413.9 894.4,412.8 900.3,411.3 906.2,409.9 912.2,410.5 918.1,410.3 924,410.6 929.9,411.5 935.8,412.2 937.9,412.3 940,412.2 942.1,411.9 944.2,411.6 946.3,411.3 948.4,411 950.5,410.7 952.6,410.6 954.7,410.8 956.8,411.2 958.9,411.3 961,411.3 963,411.5 965.1,411.7 967.2,411.8 969.3,411.9 971.4,411.7 973.5,411.4 975.6,411.2 977.7,411.2"/>
<polyline points="541.3,413.7 543.4,413.7 545.5,413.6 547.6,413.5 549.7,413.3 551.8,413.2 553.9,413 556,412.5 558,411.9 560.1,411.4 562.2,410.8 564.3,410.3 566.4,409.9 568.5,409.4 570.6,409 572.7,409 574.8,409.4 576.9,409.5 579,409.4 581.1,409.3 583.2,409.5 590.4,411.9 597.7,411.9 604.9,411.9 612.2,412.1 619.4,413 626.7,414 633.9,413.1 641.2,412.4 648.4,412.2 655.7,411.7 665.9,411.8 676.2,412.1 686.4,413 696.7,414 706.9,414.9 717.2,414.9 727.5,414.7 737.7,413.6 748,414.1 758.2,413.9 770.1,414.4 781.9,413 793.7,414.7 805.6,415.5 817.4,416.2 829.3,415.4 841.1,413.5 852.9,412.8 864.8,413.4 876.6,413.7 882.6,413.1 888.5,411.9 894.4,410.4 900.3,408.6 906.2,408.5 912.2,409.3 918.1,409.7 924,408.9 929.9,408.8 935.8,408.8 937.9,408.8 940,409 942.1,409.2 944.2,409.4 946.3,409.6 948.4,409.9 950.5,410.2 952.6,410.5 954.7,410.6 956.8,410.7 958.9,410.8 961,410.7 963,410.3 965.1,410.4 967.2,410.7 969.3,410.8 971.4,410.7 973.5,410.6 975.6,410.5 977.7,410.4"/>
<polyline points="541.3,412.4 543.4,412.5 545.5,412.6 547.6,412.6 549.7,412.4 551.8,412.1 553.9,411.6 556,410.9 558,410.2 560.1,409.3 562.2,408.4 564.3,407.5 566.4,407.7 568.5,408.2 570.6,408.6 572.7,408.7 574.8,408.4 576.9,408.1 579,407.9 581.1,407.8 583.2,407.9 590.4,410 597.7,411 604.9,410.8 612.2,411.4 619.4,411.4 626.7,411.5 633.9,411.8 641.2,411.7 648.4,411.3 655.7,411.1 665.9,411.1 676.2,411.2 686.4,412.3 696.7,413.9 706.9,414.5 717.2,413.9 727.5,413.3 737.7,413.4 748,413.4 758.2,413.9 770.1,413.5 781.9,412.6 793.7,412.8 805.6,414.1 817.4,414.9 829.3,413.5 841.1,413.1 852.9,411.2 864.8,412 876.6,412.4 882.6,412.2 888.5,411.1 894.4,409.4 900.3,407.9 906.2,407.5 912.2,408.1 918.1,408.8 924,408.7 929.9,408.1 935.8,407.9 937.9,407.9 940,407.8 942.1,407.7 944.2,407.6 946.3,407.7 948.4,407.8 950.5,407.9 952.6,408 954.7,407.9 956.8,408 958.9,408.6 961,409.2 963,409.8 965.1,409.8 967.2,409.4 969.3,409.1 971.4,409 973.5,408.9 975.6,409 977.7,409"/>
<polyline points="541.3,409.3 543.4,409.2 545.5,409.1 547.6,408.8 549.7,408.5 551.8,408 553.9,407.5 556,406.9"/>
<polyline points="562.2,406.9 564.3,407.3"/>
<polyline points="576.9,406.8 579,407.3 581.1,407.7 583.2,407.9 590.4,408.7 597.7,409.7 604.9,410.3 612.2,410.1 619.4,409.3 626.7,408.6 633.9,409.7 641.2,410.8 648.4,410.2 655.7,409.6 665.9,409.5 676.2,409.4 686.4,410.5 696.7,412.2 706.9,413 717.2,413.6 727.5,413 737.7,413 748,411.3 758.2,412.6 770.1,411.3 781.9,411.5 793.7,412.4 805.6,413.8 817.4,413.2 829.3,412.8 841.1,412 852.9,410.3 864.8,409 876.6,409.3 882.6,408.9 888.5,408 894.4,406.7"/>
<polyline points="906.2,406.7 912.2,407.7 918.1,407.4 924,407.5"/>
<polyline points="948.4,406.6 950.5,406.7 952.6,407 954.7,407.4 956.8,407.6 958.9,407.3 961,407.1 963,407.1 965.1,407.3 967.2,407.6 969.3,407.9 971.4,408 973.5,408 975.6,407.9 977.7,407.9"/>
<polyline points="581.1,407.2 583.2,407.7 590.4,407.1 597.7,408.3 604.9,408.4 612.2,407 619.4,407.6 626.7,407.9 633.9,407.1 641.2,407.9 648.4,409.2 655.7,409.5 665.9,409.4 676.2,409.3 686.4,409.2 696.7,412.2 706.9,412.3 717.2,412.8 727.5,412.9 737.7,411.9 748,410.8 758.2,411 770.1,410.7 781.9,410.9 793.7,412.3 805.6,413.2 817.4,412.2 829.3,411.6 841.1,410.9 852.9,409.8"/>
</g></g>
<path class="x" d="M556 406.9L557 406.6M562.2 406.9L560.7 406.6M564.3 407.3L566.1 406.6M576.9 406.8L576.3 406.6M894.4 406.7L895.1 406.6M906.2 406.7L905.1 406.6M924 407.5L929.1 406.6M948.4 406.6L946.4 406.6M581.1 407.2L579 406.6M852.9 409.8L861 406.6"/>
<rect x="541.3" y="406.6" width="436.4" height="322.7" fill="none" stroke="#222" stroke-width="1.3"/>
<path d="M541.3 697.0h3.8M977.7 697.0h-3.8M541.3 664.8h6.8M977.7 664.8h-6.8M541.3 632.5h3.8M977.7 632.5h-3.8M541.3 600.2h6.8M977.7 600.2h-6.8M541.3 568.0h3.8M977.7 568.0h-3.8M541.3 535.7h6.8M977.7 535.7h-6.8M541.3 503.4h3.8M977.7 503.4h-3.8M541.3 471.1h6.8M977.7 471.1h-6.8M541.3 438.9h3.8M977.7 438.9h-3.8M588.4 729.3v-3.8M588.4 406.6v3.8M635.5 729.3v-6.8M635.5 406.6v6.8M682.7 729.3v-3.8M682.7 406.6v3.8M729.8 729.3v-6.8M729.8 406.6v6.8M776.9 729.3v-3.8M776.9 406.6v3.8M824.0 729.3v-6.8M824.0 406.6v6.8M871.1 729.3v-3.8M871.1 406.6v3.8M918.3 729.3v-6.8M918.3 406.6v6.8M965.4 729.3v-3.8M965.4 406.6v3.8" stroke="#222" stroke-width="1" fill="none"/>
<g font-size="29.5" text-anchor="end">
<text x="77" y="64.1">1.0</text><text x="77" y="128.9">0.8</text><text x="77" y="193.6">0.6</text><text x="77" y="258.3">0.4</text><text x="77" y="323">0.2</text><text x="77" y="382.4">0.0</text>
<text x="77" y="415">1.0</text><text x="77" y="479.6">0.8</text><text x="77" y="544">0.6</text><text x="77" y="608.5">0.4</text><text x="77" y="673">0.2</text><text x="77" y="738.7">0.0</text>
</g>
<g font-size="45" text-anchor="middle">
<text x="300.5" y="38.1" font-size="46">opal</text><text x="769.5" y="31" font-size="46">yablonovite</text>
<text transform="translate(1023,220) rotate(-90)" font-size="46.5" letter-spacing="0.45">direct structure</text>
<text transform="translate(1023,564) rotate(-90)" font-size="45.6">inverted structure</text>
<text transform="translate(30.3,382.6) rotate(-90)" font-size="41.5">Frequency a/λ</text>
<text x="558" y="820.8" font-size="40.6">Wave vector</text>
</g>
<g font-size="35.5">
<text x="91.2" y="367.5" font-size="34">(a)</text><text x="552.6" y="367.6">(b)</text><text x="91.1" y="714.6" font-size="34.4">(c)</text><text x="552.7" y="714.4">(d)</text>
</g>
<g font-size="33.5" text-anchor="middle">
<text x="81.3" y="770">X</text><text x="128" y="770">U</text><text x="213" y="770">L</text><text transform="translate(308.6,770) scale(1.18,1)">Γ</text><text x="425.3" y="770">X</text><text x="479.5" y="770">W</text><text x="514.4" y="770">K</text>
<text x="549.2" y="770">X</text><text x="581.3" y="770">U</text><text x="660.3" y="770">L</text><text transform="translate(765,770) scale(1.18,1)">Γ</text><text x="884.4" y="770">X</text><text x="938.3" y="770">W</text><text x="977.3" y="770">K</text>
</g>
<g font-size="24.5">
<text x="592.6" y="780">1</text><text x="669.2" y="780">1</text><text x="989" y="780">3</text>
</g>

</svg></body></html>
